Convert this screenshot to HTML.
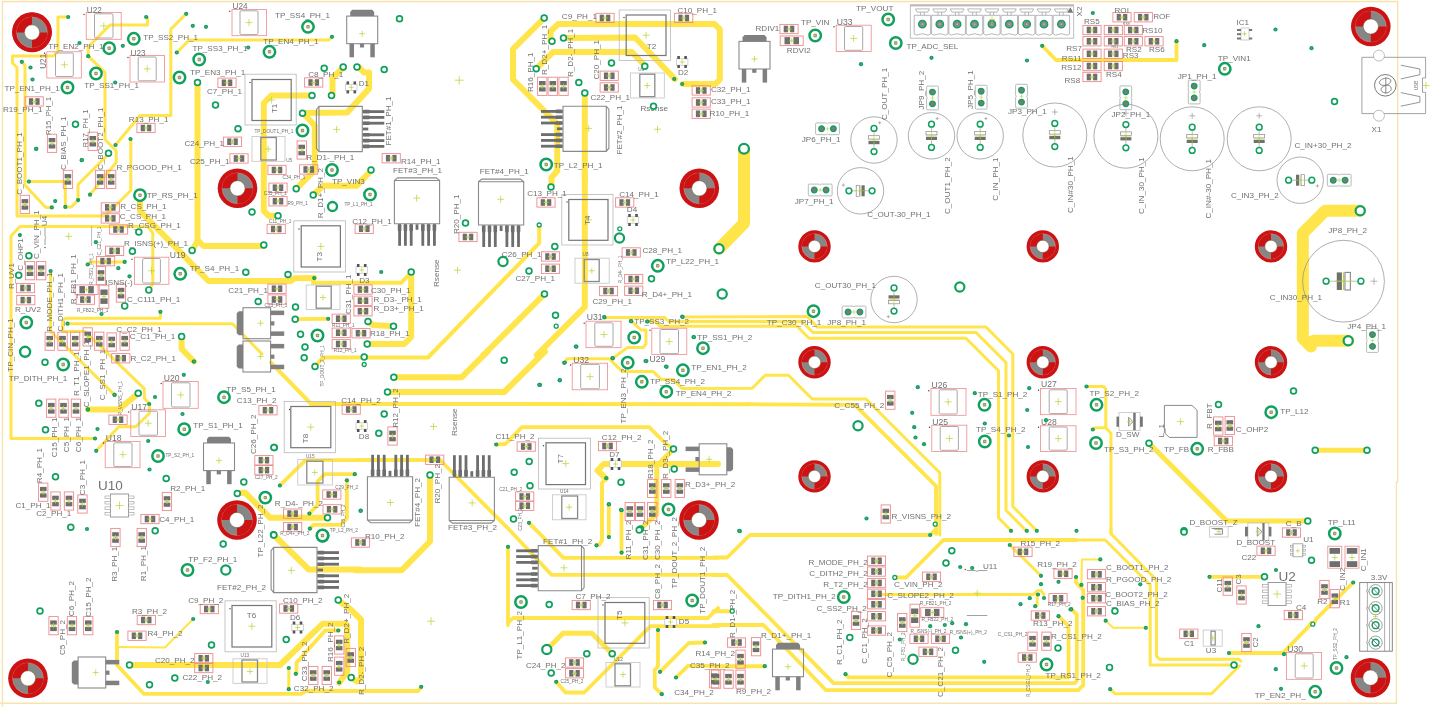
<!DOCTYPE html>
<html><head><meta charset="utf-8"><title>PCB layout</title>
<style>html,body{margin:0;padding:0;background:#fff;overflow:hidden}svg{display:block}text{white-space:pre}</style>
</head><body>
<svg width="1431" height="707" viewBox="0 0 1431 707">
<rect width="1431" height="707" fill="#fff"/>
<path d="M2.5 707 V1.5 H1397.7 V482 H1396.4 V703.2 H0" fill="none" stroke="#f6e3b0" stroke-width="1.4"/>
<g fill="none" stroke="#ffe54a" stroke-linecap="round" stroke-linejoin="round" opacity="1">
<polyline points="68.2,17 58,17 58,51.2 53.2,56 12.5,56 12.5,63 17,67.5 17,216 105,216 130.8,190.5 130.8,139" stroke-width="3"/>
<polyline points="21.8,61.8 25,65.5 25,185.2 45.8,207.5 52,207.5" stroke-width="3"/>
<polyline points="146.2,17 147.5,18 147.5,25 110,25 88.2,47 88.2,56.2 105,72.5 105,139.5 116.2,150.8 116.2,162.5 90,194.8" stroke-width="3"/>
<polyline points="186.2,13.8 170.8,29.2 170.8,115.5 140,115.5 115.5,145" stroke-width="3"/>
<polyline points="176.8,52.5 189.2,40 328.8,40 332,36.8" stroke-width="3"/>
<polyline points="197.5,82.5 197.5,240 203.5,246 263.8,246" stroke-width="6"/>
<polyline points="197.5,241.2 192,250.5" stroke-width="6"/>
<polyline points="312,95.5 271.2,95.5 263.8,103 263.8,210.8 268.8,215.8 278,215.8" stroke-width="6"/>
<polyline points="343.8,67 332.5,78.2 332.5,95.5" stroke-width="6"/>
<polyline points="544.2,18 513,49.2 513,79.5 544.2,110.8 557.2,123.8 557.2,171 551.5,177.5 551.5,187" stroke-width="6"/>
<polyline points="708,24.1 558,24.1 550.5,31.5 550.5,41.2" stroke-width="6"/>
<polyline points="563.5,38 635,37.5 675,79" stroke-width="6"/>
<polyline points="536.2,68.8 553,52 631.8,52 644.8,65.5" stroke-width="6"/>
<polyline points="584.8,93 584.8,180" stroke-width="6"/>
<polyline points="706,24.1 714.5,24.1 719.8,29.2 719.8,79.5 715.5,84 683,84" stroke-width="6"/>
<polyline points="744,150 744,180" stroke-width="12"/>
<polyline points="1042.2,45.8 1056,60 1076,60" stroke-width="3.8"/>
<polyline points="1071.5,60 1176.5,60 1176.5,41.2" stroke-width="3.8"/>
<polyline points="28.9,181.6 65.3,181.6 65.3,207 71.3,207 78,200.3 78,184.5 108.6,154" stroke-width="3"/>
<polyline points="140,195.2 140,211 208.5,281 291,281 294.5,278.2 314.3,278.1" stroke-width="6"/>
<polyline points="312.8,282.8 401,282.8 411.8,272" stroke-width="4"/>
<polyline points="95,438.6 11,438.6 11,236 20,226.5 147.7,226.5 152.8,233 152.8,284 148.8,289.9" stroke-width="3"/>
<polyline points="50.6,271 50.6,331.5 114.6,394.9" stroke-width="3"/>
<polyline points="160.4,311.8 160.4,318.3 65.3,318.3 62.8,320.8 62.8,331.5 85,331.5 144.3,388.6 144.3,398 149.4,403.9 149.4,413.3 135.8,426.8 118.8,426.8 96.3,450.7" stroke-width="3"/>
<polyline points="67.5,323.7 232.5,323.7 262,354" stroke-width="3"/>
<polyline points="181.6,336.9 181.6,348.8 194,361.5" stroke-width="6"/>
<polyline points="87.7,264.5 90.8,261.9 124.7,261.9" stroke-width="3"/>
<polyline points="296.2,188.8 312.5,172.5 314.8,170 314.8,125.5 303,113.2" stroke-width="6"/>
<polyline points="313.2,195 323.2,185.8 356.5,185.8 371.2,170.5" stroke-width="6"/>
<polyline points="295.2,319.2 328.2,318.8" stroke-width="3.8"/>
<polyline points="584.8,174.5 584.8,307 536.8,355" stroke-width="6"/>
<polyline points="539.2,225 539.2,243.2 428,357.5 323,357.5 315,366.5" stroke-width="4"/>
<polyline points="544.5,294 483,355.5" stroke-width="6"/>
<polyline points="411.2,272 411.2,337 404.2,344 367.2,344" stroke-width="6"/>
<polyline points="368,321.5 373,325 393.5,326.2" stroke-width="6"/>
<polyline points="744,174.5 744,223.2 719,248.8" stroke-width="12"/>
<polyline points="1360.2,210.8 1325.2,210.8 1302.8,233.2 1302.8,338.2 1311,346.5" stroke-width="12"/>
<polyline points="1313.5,340.8 1348.2,340.8" stroke-width="12"/>
<polyline points="87.9,409.4 118.8,409.4 138.3,393.4" stroke-width="6"/>
<polyline points="279.9,485.5 305.6,460.1 440,460.1" stroke-width="3.8"/>
<polyline points="354.8,474.2 324.7,474.2 317.6,481.3 317.6,505.1 309.4,513.5" stroke-width="3.8"/>
<polyline points="346.9,480.3 346.9,518.5 340.3,524.9 313.4,524.9 309.9,528.7" stroke-width="3.8"/>
<polyline points="237.3,493.5 244.8,492.5 270.3,517.8 327.5,517.8" stroke-width="6"/>
<polyline points="271.2,362.8 311.2,404 750,404.2" stroke-width="4"/>
<polyline points="747.5,404.2 854.8,404.8 936,486 936,534" stroke-width="3.8"/>
<polyline points="682.6,317 807.2,316.5 817.2,327 986,327 1012.8,354 1012.8,506.5 1037,531" stroke-width="3"/>
<polyline points="604.4,317.4 664.5,317.4 668.7,321.5 802.2,321.5 813,332.5 976,332.5 1006,362.5 1006,510.2 1026.5,531" stroke-width="3"/>
<polyline points="647.5,321.5 656,321.5 660.2,326.2 797.2,326.2 809,338.2 966,338.2 998.5,370.8 998.5,517.8 1011.5,531" stroke-width="3"/>
<polyline points="631.2,321.2 641.1,330 646,330 646,343.8 643.3,347.4 627.7,347.4 612.8,358.3" stroke-width="3"/>
<polyline points="564.8,362.5 567,358.7 609.3,358.7 622,371.4 653.1,371.4 661.4,379.5 673.7,379.5 682.1,388.4 752.2,388.2 765.2,375.2 788.5,375.2 812.2,399 866,399 939.8,472.8 939.8,535" stroke-width="3"/>
<polyline points="393.8,377.2 461.8,377.2 488,351" stroke-width="6"/>
<polyline points="387.5,392 504.2,392 545,351.5" stroke-width="6"/>
<polyline points="496.2,444.5 505.5,444 521.8,427.2 649.2,427.2 665.5,443.5 673.5,449" stroke-width="3.8"/>
<polyline points="355.5,460.2 440.5,460.2 442,462 510.5,531 551.5,574.8 718,574.8" stroke-width="3.8"/>
<polyline points="430,475 430,541.5 401.8,570.2 355.5,570.2" stroke-width="6"/>
<polyline points="718,464 603.8,464 597.5,470.5 606,478.5" stroke-width="6"/>
<polyline points="606,478.5 602,483 602,540.2 599.5,544.5 596.5,545.2" stroke-width="4"/>
<polyline points="673.5,449 656.8,465.8 656.8,514 640.5,529" stroke-width="5"/>
<polyline points="608.8,504.8 608.8,537.2" stroke-width="3.8"/>
<polyline points="621.5,510.2 621.5,553" stroke-width="3.8"/>
<polyline points="529,522.8 563.5,557.8 718,557.8" stroke-width="3.8"/>
<polyline points="1086.5,386.5 1103.5,386.5 1105.8,389 1105.8,427.8" stroke-width="3"/>
<polyline points="1092.8,429.5 1095.2,427.8 1105.8,427.8 1111,433.5 1111,534" stroke-width="3"/>
<polyline points="1149,443.2 1226.5,520.8 1307.8,521" stroke-width="5"/>
<polyline points="1315.2,450.2 1367,450.2" stroke-width="5"/>
<polyline points="117,632 117,665 143.8,693.8 301,693.8 306,691 418,691 421.2,686.8" stroke-width="3.8"/>
<polyline points="117,647 165,647.5 193.2,619" stroke-width="2"/>
<polyline points="129.5,665 280,665 322.5,623.8 345.8,623.8 347.2,625.8 347.2,671.8 339.2,682.8" stroke-width="6"/>
<polyline points="339,630.5 325.2,630.5 296.5,662.8 296.5,673.8" stroke-width="3.8"/>
<polyline points="273.8,535 308.8,569.5 360,569.5" stroke-width="6"/>
<polyline points="338.2,600 351.2,610 361,619.5 361,678.5 357,681.5 351.2,678" stroke-width="6"/>
<polyline points="288.8,668 288.8,689.2" stroke-width="3"/>
<polyline points="508,546.8 508,625" stroke-width="3.8"/>
<polyline points="508,623 513,618 708,618 718,608" stroke-width="3.8"/>
<polyline points="556.2,681.8 565.5,692.5 584.2,692.5 650.5,626.2 718,626.2" stroke-width="3.8"/>
<polyline points="658,630 658,666.2 654.8,670 654.8,687.5 661.8,694.2" stroke-width="3.8"/>
<polyline points="660,671.8 688.8,643 705,642.5" stroke-width="3.8"/>
<polyline points="676,677.5 688,665.8 718,665.8" stroke-width="3.8"/>
<polyline points="546.8,649.5 563,633.2 591.8,633.2 612.2,653.8" stroke-width="5"/>
<polyline points="713.5,557.5 727.2,557.5 749.8,535 930.2,535 936,529.2" stroke-width="3.8"/>
<polyline points="1076,540 943.5,540 906,577.5 894.8,577.5" stroke-width="3.8"/>
<polyline points="713.5,575 727.2,575 833.5,683.1 1074.8,683.1 1076.8,681 1076.8,614.5 1071.2,609.2" stroke-width="3.8"/>
<polyline points="713.5,625 763.5,625 826,690.2 1078.2,690.2 1083.2,685.2 1083.2,590 1076,582.5 1076,577" stroke-width="3.8"/>
<polyline points="845.5,674.2 848.5,677.4 1066,677.4 1068.5,675" stroke-width="3.8"/>
<polyline points="713.5,611.2 732.2,611.2" stroke-width="4"/>
<polyline points="713.5,666.2 764.8,666.2" stroke-width="4"/>
<polyline points="879.8,594.5 1033.5,594.5 1037.2,590.8 1041,590.8 1044,594.5" stroke-width="3"/>
<polyline points="1009.8,545 1041,575.8" stroke-width="3"/>
<polyline points="1037.2,594.5 1037.2,605" stroke-width="3"/>
<polyline points="1058.5,616.2 1068.5,626.2 1068.5,677.5" stroke-width="3.8"/>
<polyline points="1100.3,559.4 1081.9,559.4 1081.4,584.9" stroke-width="2"/>
<polyline points="1105.7,620.7 1113.2,627.8 1145.8,627.8" stroke-width="2"/>
<polyline points="1111,527.5 1111,533.8 1156.5,580 1156.5,656.2 1159.5,659.2 1239,659.2 1241,661.2" stroke-width="3"/>
<polyline points="1071.5,540 1105.2,540 1150.2,585 1150.2,665 1234,665" stroke-width="3"/>
<polyline points="1110.2,689.2 1115.2,693.8 1211.5,693.8 1239.5,665.8" stroke-width="3"/>
<polyline points="1209.5,576.8 1264.5,576.8" stroke-width="3.8"/>
<polyline points="1229,653 1282.8,653 1309,626.2 1311,623 1314.5,622.5 1316,619.2 1353.2,582.5" stroke-width="3.8"/>
<polyline points="358.9,67.1 364,72.5 369.1,72.5 369.1,88.6 347.3,112.4 303,113.1" stroke-width="6"/>
</g>
<rect x="25.1" y="96.8" width="18.2" height="9.3" fill="none" stroke="#ee8a8a" stroke-width="0.9"/>
<rect x="217.9" y="78.1" width="18.2" height="9.3" fill="none" stroke="#ee8a8a" stroke-width="0.9"/>
<rect x="304.6" y="77.8" width="18.2" height="9.3" fill="none" stroke="#ee8a8a" stroke-width="0.9"/>
<rect x="136.9" y="123.3" width="18.2" height="9.3" fill="none" stroke="#ee8a8a" stroke-width="0.9"/>
<rect x="223.4" y="137.1" width="18.2" height="9.3" fill="none" stroke="#ee8a8a" stroke-width="0.9"/>
<rect x="229.9" y="153.8" width="18.2" height="9.3" fill="none" stroke="#ee8a8a" stroke-width="0.9"/>
<rect x="267.9" y="165.3" width="18.2" height="9.3" fill="none" stroke="#ee8a8a" stroke-width="0.9"/>
<rect x="299.6" y="164.8" width="18.2" height="9.3" fill="none" stroke="#ee8a8a" stroke-width="0.9"/>
<rect x="47.4" y="134.2" width="9.3" height="18.2" fill="none" stroke="#ee8a8a" stroke-width="0.9"/>
<rect x="88.1" y="132.2" width="9.3" height="18.2" fill="none" stroke="#ee8a8a" stroke-width="0.9"/>
<rect x="297.1" y="140.9" width="9.3" height="18.2" fill="none" stroke="#ee8a8a" stroke-width="0.9"/>
<rect x="595.9" y="13.3" width="18.2" height="9.3" fill="none" stroke="#ee8a8a" stroke-width="0.9"/>
<rect x="674.6" y="13.3" width="18.2" height="9.3" fill="none" stroke="#ee8a8a" stroke-width="0.9"/>
<rect x="600.1" y="71.1" width="18.2" height="9.3" fill="none" stroke="#ee8a8a" stroke-width="0.9"/>
<rect x="600.1" y="82.8" width="18.2" height="9.3" fill="none" stroke="#ee8a8a" stroke-width="0.9"/>
<rect x="692.1" y="85.8" width="18.2" height="9.3" fill="none" stroke="#ee8a8a" stroke-width="0.9"/>
<rect x="692.1" y="97.8" width="18.2" height="9.3" fill="none" stroke="#ee8a8a" stroke-width="0.9"/>
<rect x="692.1" y="109.1" width="18.2" height="9.3" fill="none" stroke="#ee8a8a" stroke-width="0.9"/>
<rect x="382.1" y="153.6" width="18.2" height="9.3" fill="none" stroke="#ee8a8a" stroke-width="0.9"/>
<rect x="537.6" y="77.2" width="9.3" height="18.2" fill="none" stroke="#ee8a8a" stroke-width="0.9"/>
<rect x="548.1" y="77.2" width="9.3" height="18.2" fill="none" stroke="#ee8a8a" stroke-width="0.9"/>
<rect x="558.9" y="77.2" width="9.3" height="18.2" fill="none" stroke="#ee8a8a" stroke-width="0.9"/>
<rect x="779.9" y="24.4" width="18.2" height="9.3" fill="none" stroke="#ee8a8a" stroke-width="0.9"/>
<rect x="780.2" y="36" width="23" height="9.6" fill="none" stroke="#ee8a8a" stroke-width="0.9"/>
<rect x="1112.9" y="12.6" width="18.2" height="9.3" fill="none" stroke="#ee8a8a" stroke-width="0.9"/>
<rect x="1134.2" y="12.6" width="18.2" height="9.3" fill="none" stroke="#ee8a8a" stroke-width="0.9"/>
<rect x="1082.9" y="25.4" width="18.2" height="9.3" fill="none" stroke="#ee8a8a" stroke-width="0.9"/>
<rect x="1104.2" y="25.4" width="18.2" height="9.3" fill="none" stroke="#ee8a8a" stroke-width="0.9"/>
<rect x="1124.2" y="25.4" width="18.2" height="9.3" fill="none" stroke="#ee8a8a" stroke-width="0.9"/>
<rect x="1082.9" y="36.6" width="18.2" height="9.3" fill="none" stroke="#ee8a8a" stroke-width="0.9"/>
<rect x="1104.2" y="36.6" width="18.2" height="9.3" fill="none" stroke="#ee8a8a" stroke-width="0.9"/>
<rect x="1124.2" y="36.6" width="18.2" height="9.3" fill="none" stroke="#ee8a8a" stroke-width="0.9"/>
<rect x="1144.9" y="36.6" width="18.2" height="9.3" fill="none" stroke="#ee8a8a" stroke-width="0.9"/>
<rect x="1082.9" y="49.1" width="18.2" height="9.3" fill="none" stroke="#ee8a8a" stroke-width="0.9"/>
<rect x="1104.2" y="49.1" width="18.2" height="9.3" fill="none" stroke="#ee8a8a" stroke-width="0.9"/>
<rect x="1082.9" y="61.4" width="18.2" height="9.3" fill="none" stroke="#ee8a8a" stroke-width="0.9"/>
<rect x="1104.2" y="61.4" width="18.2" height="9.3" fill="none" stroke="#ee8a8a" stroke-width="0.9"/>
<rect x="1082.9" y="72.3" width="18.2" height="9.3" fill="none" stroke="#ee8a8a" stroke-width="0.9"/>
<rect x="63.3" y="170.3" width="9.3" height="18.2" fill="none" stroke="#ee8a8a" stroke-width="0.9"/>
<rect x="95.4" y="170.3" width="9.3" height="18.2" fill="none" stroke="#ee8a8a" stroke-width="0.9"/>
<rect x="106.5" y="170.3" width="9.3" height="18.2" fill="none" stroke="#ee8a8a" stroke-width="0.9"/>
<rect x="20.2" y="195.3" width="9.3" height="18.2" fill="none" stroke="#ee8a8a" stroke-width="0.9"/>
<rect x="25.4" y="261.6" width="9.3" height="18.2" fill="none" stroke="#ee8a8a" stroke-width="0.9"/>
<rect x="36.5" y="261.6" width="9.3" height="18.2" fill="none" stroke="#ee8a8a" stroke-width="0.9"/>
<rect x="96.3" y="266.4" width="9.3" height="18.2" fill="none" stroke="#ee8a8a" stroke-width="0.9"/>
<rect x="116.3" y="284" width="9.3" height="18.2" fill="none" stroke="#ee8a8a" stroke-width="0.9"/>
<rect x="99.2" y="285.2" width="9.6" height="23" fill="none" stroke="#ee8a8a" stroke-width="0.9"/>
<rect x="101.2" y="202.8" width="18.2" height="9.3" fill="none" stroke="#ee8a8a" stroke-width="0.9"/>
<rect x="101.2" y="213.8" width="18.2" height="9.3" fill="none" stroke="#ee8a8a" stroke-width="0.9"/>
<rect x="109.4" y="224.8" width="18.2" height="9.3" fill="none" stroke="#ee8a8a" stroke-width="0.9"/>
<rect x="105.5" y="246.2" width="18.2" height="9.3" fill="none" stroke="#ee8a8a" stroke-width="0.9"/>
<rect x="96.5" y="256.5" width="18.2" height="9.3" fill="none" stroke="#ee8a8a" stroke-width="0.9"/>
<rect x="16.4" y="283.4" width="18.2" height="9.3" fill="none" stroke="#ee8a8a" stroke-width="0.9"/>
<rect x="16.7" y="295.5" width="18.2" height="9.3" fill="none" stroke="#ee8a8a" stroke-width="0.9"/>
<rect x="76.3" y="295" width="18.2" height="9.3" fill="none" stroke="#ee8a8a" stroke-width="0.9"/>
<rect x="75.1" y="284.9" width="23" height="9.6" fill="none" stroke="#ee8a8a" stroke-width="0.9"/>
<rect x="45.1" y="332.1" width="9.3" height="18.2" fill="none" stroke="#ee8a8a" stroke-width="0.9"/>
<rect x="57.9" y="332.1" width="9.3" height="18.2" fill="none" stroke="#ee8a8a" stroke-width="0.9"/>
<rect x="70.5" y="332.1" width="9.3" height="18.2" fill="none" stroke="#ee8a8a" stroke-width="0.9"/>
<rect x="83" y="327.8" width="9.3" height="18.2" fill="none" stroke="#ee8a8a" stroke-width="0.9"/>
<rect x="94.6" y="332.1" width="9.3" height="18.2" fill="none" stroke="#ee8a8a" stroke-width="0.9"/>
<rect x="107" y="332.9" width="9.3" height="18.2" fill="none" stroke="#ee8a8a" stroke-width="0.9"/>
<rect x="120" y="332.1" width="9.3" height="18.2" fill="none" stroke="#ee8a8a" stroke-width="0.9"/>
<rect x="268.9" y="183.1" width="18.2" height="9.3" fill="none" stroke="#ee8a8a" stroke-width="0.9"/>
<rect x="268.9" y="196.6" width="18.2" height="9.3" fill="none" stroke="#ee8a8a" stroke-width="0.9"/>
<rect x="267.1" y="224.3" width="18.2" height="9.3" fill="none" stroke="#ee8a8a" stroke-width="0.9"/>
<rect x="267.9" y="284.1" width="18.2" height="9.3" fill="none" stroke="#ee8a8a" stroke-width="0.9"/>
<rect x="267.9" y="294.9" width="18.2" height="9.3" fill="none" stroke="#ee8a8a" stroke-width="0.9"/>
<rect x="332.1" y="314.1" width="18.2" height="9.3" fill="none" stroke="#ee8a8a" stroke-width="0.9"/>
<rect x="332.1" y="328.1" width="18.2" height="9.3" fill="none" stroke="#ee8a8a" stroke-width="0.9"/>
<rect x="332.1" y="339.4" width="18.2" height="9.3" fill="none" stroke="#ee8a8a" stroke-width="0.9"/>
<rect x="355.1" y="224.1" width="18.2" height="9.3" fill="none" stroke="#ee8a8a" stroke-width="0.9"/>
<rect x="458.9" y="232.3" width="18.2" height="9.3" fill="none" stroke="#ee8a8a" stroke-width="0.9"/>
<rect x="536.9" y="197.8" width="18.2" height="9.3" fill="none" stroke="#ee8a8a" stroke-width="0.9"/>
<rect x="615.6" y="197.8" width="18.2" height="9.3" fill="none" stroke="#ee8a8a" stroke-width="0.9"/>
<rect x="541.4" y="251.8" width="18.2" height="9.3" fill="none" stroke="#ee8a8a" stroke-width="0.9"/>
<rect x="541.4" y="264.1" width="18.2" height="9.3" fill="none" stroke="#ee8a8a" stroke-width="0.9"/>
<rect x="622.1" y="247.8" width="18.2" height="9.3" fill="none" stroke="#ee8a8a" stroke-width="0.9"/>
<rect x="624.6" y="274.4" width="18.2" height="9.3" fill="none" stroke="#ee8a8a" stroke-width="0.9"/>
<rect x="624.6" y="286.1" width="18.2" height="9.3" fill="none" stroke="#ee8a8a" stroke-width="0.9"/>
<rect x="599.4" y="286.4" width="18.2" height="9.3" fill="none" stroke="#ee8a8a" stroke-width="0.9"/>
<rect x="353.9" y="284.9" width="18.2" height="9.3" fill="none" stroke="#ee8a8a" stroke-width="0.9"/>
<rect x="353.9" y="296.1" width="18.2" height="9.3" fill="none" stroke="#ee8a8a" stroke-width="0.9"/>
<rect x="353.9" y="306.6" width="18.2" height="9.3" fill="none" stroke="#ee8a8a" stroke-width="0.9"/>
<rect x="351.9" y="328.6" width="18.2" height="9.3" fill="none" stroke="#ee8a8a" stroke-width="0.9"/>
<rect x="254.8" y="455.6" width="18.2" height="9.3" fill="none" stroke="#ee8a8a" stroke-width="0.9"/>
<rect x="254.8" y="465.5" width="18.2" height="9.3" fill="none" stroke="#ee8a8a" stroke-width="0.9"/>
<rect x="322.7" y="489.9" width="18.2" height="9.3" fill="none" stroke="#ee8a8a" stroke-width="0.9"/>
<rect x="323" y="504.7" width="18.2" height="9.3" fill="none" stroke="#ee8a8a" stroke-width="0.9"/>
<rect x="283.5" y="509" width="18.2" height="9.3" fill="none" stroke="#ee8a8a" stroke-width="0.9"/>
<rect x="283.5" y="522.4" width="18.2" height="9.3" fill="none" stroke="#ee8a8a" stroke-width="0.9"/>
<rect x="46.6" y="399.1" width="9.3" height="18.2" fill="none" stroke="#ee8a8a" stroke-width="0.9"/>
<rect x="58.9" y="399.1" width="9.3" height="18.2" fill="none" stroke="#ee8a8a" stroke-width="0.9"/>
<rect x="71.3" y="399.1" width="9.3" height="18.2" fill="none" stroke="#ee8a8a" stroke-width="0.9"/>
<rect x="38.6" y="483.1" width="9.3" height="18.2" fill="none" stroke="#ee8a8a" stroke-width="0.9"/>
<rect x="50.9" y="491.9" width="9.3" height="18.2" fill="none" stroke="#ee8a8a" stroke-width="0.9"/>
<rect x="64.3" y="491.9" width="9.3" height="18.2" fill="none" stroke="#ee8a8a" stroke-width="0.9"/>
<rect x="77.8" y="494.9" width="9.3" height="18.2" fill="none" stroke="#ee8a8a" stroke-width="0.9"/>
<rect x="162.3" y="492.4" width="9.3" height="18.2" fill="none" stroke="#ee8a8a" stroke-width="0.9"/>
<rect x="111.7" y="353.6" width="18.2" height="9.3" fill="none" stroke="#ee8a8a" stroke-width="0.9"/>
<rect x="108.9" y="415.1" width="18.2" height="9.3" fill="none" stroke="#ee8a8a" stroke-width="0.9"/>
<rect x="258.9" y="405.6" width="18.2" height="9.3" fill="none" stroke="#ee8a8a" stroke-width="0.9"/>
<rect x="342.1" y="404.9" width="18.2" height="9.3" fill="none" stroke="#ee8a8a" stroke-width="0.9"/>
<rect x="140.9" y="514.4" width="18.2" height="9.3" fill="none" stroke="#ee8a8a" stroke-width="0.9"/>
<rect x="387.9" y="426.9" width="9.3" height="18.2" fill="none" stroke="#ee8a8a" stroke-width="0.9"/>
<rect x="647.6" y="479.4" width="9.3" height="18.2" fill="none" stroke="#ee8a8a" stroke-width="0.9"/>
<rect x="661.6" y="479.4" width="9.3" height="18.2" fill="none" stroke="#ee8a8a" stroke-width="0.9"/>
<rect x="675.1" y="479.4" width="9.3" height="18.2" fill="none" stroke="#ee8a8a" stroke-width="0.9"/>
<rect x="625.1" y="502.4" width="9.3" height="18.2" fill="none" stroke="#ee8a8a" stroke-width="0.9"/>
<rect x="635.4" y="502.4" width="9.3" height="18.2" fill="none" stroke="#ee8a8a" stroke-width="0.9"/>
<rect x="647.6" y="502.4" width="9.3" height="18.2" fill="none" stroke="#ee8a8a" stroke-width="0.9"/>
<rect x="425.6" y="455.1" width="18.2" height="9.3" fill="none" stroke="#ee8a8a" stroke-width="0.9"/>
<rect x="517.1" y="441.9" width="18.2" height="9.3" fill="none" stroke="#ee8a8a" stroke-width="0.9"/>
<rect x="598.4" y="441.4" width="18.2" height="9.3" fill="none" stroke="#ee8a8a" stroke-width="0.9"/>
<rect x="515.6" y="491.9" width="18.2" height="9.3" fill="none" stroke="#ee8a8a" stroke-width="0.9"/>
<rect x="515.6" y="501.1" width="18.2" height="9.3" fill="none" stroke="#ee8a8a" stroke-width="0.9"/>
<rect x="885.6" y="391.1" width="9.3" height="18.2" fill="none" stroke="#ee8a8a" stroke-width="0.9"/>
<rect x="881.1" y="504.9" width="9.3" height="18.2" fill="none" stroke="#ee8a8a" stroke-width="0.9"/>
<rect x="1213.6" y="416.9" width="9.3" height="18.2" fill="none" stroke="#ee8a8a" stroke-width="0.9"/>
<rect x="1225.1" y="416.4" width="9.3" height="18.2" fill="none" stroke="#ee8a8a" stroke-width="0.9"/>
<rect x="1214.2" y="436.4" width="18.2" height="9.3" fill="none" stroke="#ee8a8a" stroke-width="0.9"/>
<rect x="110.8" y="528.4" width="9.3" height="18.2" fill="none" stroke="#ee8a8a" stroke-width="0.9"/>
<rect x="137.1" y="528.4" width="9.3" height="18.2" fill="none" stroke="#ee8a8a" stroke-width="0.9"/>
<rect x="48.9" y="616.6" width="9.3" height="18.2" fill="none" stroke="#ee8a8a" stroke-width="0.9"/>
<rect x="67.3" y="616.6" width="9.3" height="18.2" fill="none" stroke="#ee8a8a" stroke-width="0.9"/>
<rect x="83.6" y="616.6" width="9.3" height="18.2" fill="none" stroke="#ee8a8a" stroke-width="0.9"/>
<rect x="308.6" y="666.4" width="9.3" height="18.2" fill="none" stroke="#ee8a8a" stroke-width="0.9"/>
<rect x="322.1" y="666.4" width="9.3" height="18.2" fill="none" stroke="#ee8a8a" stroke-width="0.9"/>
<rect x="334.6" y="635.9" width="9.3" height="18.2" fill="none" stroke="#ee8a8a" stroke-width="0.9"/>
<rect x="334.6" y="657.1" width="9.3" height="18.2" fill="none" stroke="#ee8a8a" stroke-width="0.9"/>
<rect x="346.1" y="648.4" width="9.3" height="18.2" fill="none" stroke="#ee8a8a" stroke-width="0.9"/>
<rect x="137.2" y="615.4" width="18.2" height="9.3" fill="none" stroke="#ee8a8a" stroke-width="0.9"/>
<rect x="127.9" y="631.1" width="18.2" height="9.3" fill="none" stroke="#ee8a8a" stroke-width="0.9"/>
<rect x="200.2" y="604.4" width="18.2" height="9.3" fill="none" stroke="#ee8a8a" stroke-width="0.9"/>
<rect x="279.6" y="603.9" width="18.2" height="9.3" fill="none" stroke="#ee8a8a" stroke-width="0.9"/>
<rect x="194.7" y="653.6" width="18.2" height="9.3" fill="none" stroke="#ee8a8a" stroke-width="0.9"/>
<rect x="194.7" y="663.4" width="18.2" height="9.3" fill="none" stroke="#ee8a8a" stroke-width="0.9"/>
<rect x="572.1" y="600.4" width="18.2" height="9.3" fill="none" stroke="#ee8a8a" stroke-width="0.9"/>
<rect x="653.4" y="600.4" width="18.2" height="9.3" fill="none" stroke="#ee8a8a" stroke-width="0.9"/>
<rect x="565.4" y="657.9" width="18.2" height="9.3" fill="none" stroke="#ee8a8a" stroke-width="0.9"/>
<rect x="565.4" y="668.6" width="18.2" height="9.3" fill="none" stroke="#ee8a8a" stroke-width="0.9"/>
<rect x="351.4" y="537.9" width="18.2" height="9.3" fill="none" stroke="#ee8a8a" stroke-width="0.9"/>
<rect x="709.6" y="669.6" width="9.3" height="18.2" fill="none" stroke="#ee8a8a" stroke-width="0.9"/>
<rect x="867.4" y="556.1" width="18.2" height="9.3" fill="none" stroke="#ee8a8a" stroke-width="0.9"/>
<rect x="867.4" y="566.9" width="18.2" height="9.3" fill="none" stroke="#ee8a8a" stroke-width="0.9"/>
<rect x="867.4" y="578.4" width="18.2" height="9.3" fill="none" stroke="#ee8a8a" stroke-width="0.9"/>
<rect x="867.4" y="589.1" width="18.2" height="9.3" fill="none" stroke="#ee8a8a" stroke-width="0.9"/>
<rect x="867.4" y="599.6" width="18.2" height="9.3" fill="none" stroke="#ee8a8a" stroke-width="0.9"/>
<rect x="867.4" y="611.6" width="18.2" height="9.3" fill="none" stroke="#ee8a8a" stroke-width="0.9"/>
<rect x="867.4" y="625.9" width="18.2" height="9.3" fill="none" stroke="#ee8a8a" stroke-width="0.9"/>
<rect x="922.4" y="572.1" width="18.2" height="9.3" fill="none" stroke="#ee8a8a" stroke-width="0.9"/>
<rect x="909.9" y="634.1" width="18.2" height="9.3" fill="none" stroke="#ee8a8a" stroke-width="0.9"/>
<rect x="931.4" y="634.1" width="18.2" height="9.3" fill="none" stroke="#ee8a8a" stroke-width="0.9"/>
<rect x="918.9" y="647.1" width="18.2" height="9.3" fill="none" stroke="#ee8a8a" stroke-width="0.9"/>
<rect x="1013.9" y="547.1" width="18.2" height="9.3" fill="none" stroke="#ee8a8a" stroke-width="0.9"/>
<rect x="1053.9" y="569.1" width="18.2" height="9.3" fill="none" stroke="#ee8a8a" stroke-width="0.9"/>
<rect x="1048.9" y="593.6" width="18.2" height="9.3" fill="none" stroke="#ee8a8a" stroke-width="0.9"/>
<rect x="1031.2" y="610.9" width="18.2" height="9.3" fill="none" stroke="#ee8a8a" stroke-width="0.9"/>
<rect x="1018.1" y="652.9" width="18.2" height="9.3" fill="none" stroke="#ee8a8a" stroke-width="0.9"/>
<rect x="727.4" y="637.9" width="18.2" height="9.3" fill="none" stroke="#ee8a8a" stroke-width="0.9"/>
<rect x="920.8" y="607.7" width="23" height="9.6" fill="none" stroke="#ee8a8a" stroke-width="0.9"/>
<rect x="910" y="604.2" width="9.6" height="23" fill="none" stroke="#ee8a8a" stroke-width="0.9"/>
<rect x="851.4" y="611.4" width="9.3" height="18.2" fill="none" stroke="#ee8a8a" stroke-width="0.9"/>
<rect x="897.6" y="613.4" width="9.3" height="18.2" fill="none" stroke="#ee8a8a" stroke-width="0.9"/>
<rect x="1027.8" y="632.1" width="9.3" height="18.2" fill="none" stroke="#ee8a8a" stroke-width="0.9"/>
<rect x="1041.8" y="632.1" width="9.3" height="18.2" fill="none" stroke="#ee8a8a" stroke-width="0.9"/>
<rect x="751.4" y="637.6" width="9.3" height="18.2" fill="none" stroke="#ee8a8a" stroke-width="0.9"/>
<rect x="735.9" y="650.1" width="9.3" height="18.2" fill="none" stroke="#ee8a8a" stroke-width="0.9"/>
<rect x="735.9" y="670.1" width="9.3" height="18.2" fill="none" stroke="#ee8a8a" stroke-width="0.9"/>
<rect x="723.9" y="670.1" width="9.3" height="18.2" fill="none" stroke="#ee8a8a" stroke-width="0.9"/>
<rect x="711.4" y="670.1" width="9.3" height="18.2" fill="none" stroke="#ee8a8a" stroke-width="0.9"/>
<rect x="1087.4" y="569.6" width="18.2" height="9.3" fill="none" stroke="#ee8a8a" stroke-width="0.9"/>
<rect x="1087.4" y="582.6" width="18.2" height="9.3" fill="none" stroke="#ee8a8a" stroke-width="0.9"/>
<rect x="1087.4" y="593.6" width="18.2" height="9.3" fill="none" stroke="#ee8a8a" stroke-width="0.9"/>
<rect x="1087.4" y="606.6" width="18.2" height="9.3" fill="none" stroke="#ee8a8a" stroke-width="0.9"/>
<rect x="1256.9" y="546.1" width="18.2" height="9.3" fill="none" stroke="#ee8a8a" stroke-width="0.9"/>
<rect x="1284.2" y="610.4" width="18.2" height="9.3" fill="none" stroke="#ee8a8a" stroke-width="0.9"/>
<rect x="1179.7" y="629.1" width="18.2" height="9.3" fill="none" stroke="#ee8a8a" stroke-width="0.9"/>
<rect x="1282.4" y="527.9" width="18.2" height="9.3" fill="none" stroke="#ee8a8a" stroke-width="0.9"/>
<rect x="1223.1" y="577.1" width="9.3" height="18.2" fill="none" stroke="#ee8a8a" stroke-width="0.9"/>
<rect x="1236.8" y="585.9" width="9.3" height="18.2" fill="none" stroke="#ee8a8a" stroke-width="0.9"/>
<rect x="1241.8" y="633.4" width="9.3" height="18.2" fill="none" stroke="#ee8a8a" stroke-width="0.9"/>
<rect x="1319.8" y="580.4" width="9.3" height="18.2" fill="none" stroke="#ee8a8a" stroke-width="0.9"/>
<rect x="1330.1" y="589.6" width="9.3" height="18.2" fill="none" stroke="#ee8a8a" stroke-width="0.9"/>
<rect x="86.2" y="12.5" width="35" height="26.8" fill="none" stroke="#ee8a8a" stroke-width="0.8"/>
<rect x="94.5" y="13.8" width="18.5" height="24.2" rx="1.2" fill="none" stroke="#a8a8a8" stroke-width="1"/>
<path d="M100.2 25.9h7M103.8 22.4v7" stroke="#b5d334" stroke-width="0.7" fill="none"/>
<rect x="46.8" y="51.8" width="34.5" height="26.2" fill="none" stroke="#ee8a8a" stroke-width="0.8"/>
<rect x="55.5" y="53" width="17.8" height="23.5" rx="1.2" fill="none" stroke="#a8a8a8" stroke-width="1"/>
<path d="M60.9 64.8h7M64.4 61.2v7" stroke="#b5d334" stroke-width="0.7" fill="none"/>
<rect x="130" y="55.5" width="34.5" height="26.5" fill="none" stroke="#ee8a8a" stroke-width="0.8"/>
<rect x="138.2" y="57" width="18" height="23.8" rx="1.2" fill="none" stroke="#a8a8a8" stroke-width="1"/>
<path d="M143.8 68.9h7M147.2 65.4v7" stroke="#b5d334" stroke-width="0.7" fill="none"/>
<rect x="232" y="9.5" width="34.5" height="26.2" fill="none" stroke="#ee8a8a" stroke-width="0.8"/>
<rect x="240" y="10.8" width="18" height="23.8" rx="1.2" fill="none" stroke="#a8a8a8" stroke-width="1"/>
<path d="M245.5 22.6h7M249 19.1v7" stroke="#b5d334" stroke-width="0.7" fill="none"/>
<circle cx="84.0" cy="14.5" r="0.7" fill="#444"/>
<circle cx="229.8" cy="11.2" r="0.7" fill="#444"/>
<circle cx="128.0" cy="57.5" r="0.7" fill="#444"/>
<circle cx="44.5" cy="53.2" r="0.7" fill="#444"/>
<circle cx="250.0" cy="82.5" r="0.7" fill="#444"/>
<rect x="245" y="74.2" width="51.2" height="50.8" fill="none" stroke="#b8b8b8" stroke-width="0.8"/>
<rect x="252" y="79.5" width="39.2" height="41" fill="none" stroke="#767676" stroke-width="1.2"/>
<path d="M268.1 100h7M271.6 96.5v7" stroke="#b5d334" stroke-width="0.7" fill="none"/>
<rect x="252" y="136.5" width="33" height="24.8" fill="none" stroke="#c4c4c4" stroke-width="0.8"/>
<rect x="260.8" y="137.5" width="15.5" height="22.5" fill="none" stroke="#8a8a8a" stroke-width="1.3"/>
<path d="M265.2 149h6M268.2 146v6" stroke="#b5d334" stroke-width="0.7" fill="none"/>
<g transform="translate(362.2 29.9) rotate(0)">
<rect x="-15.5" y="-13.8" width="31" height="27.6" fill="none" stroke="#8a8a8a" stroke-width="1.1"/>
<path d="M-3 3.8h6M0 0.8v6" stroke="#b5d334" stroke-width="0.7" fill="none"/>
</g>
<g transform="translate(339.3 129) rotate(0)">
<path d="M-20.3 -22.6 H23 V22.6 H-20.3 L-22.9 19.4 V-19.4 Z M-20.3 -22.6 V22.6" fill="none" stroke="#8a8a8a" stroke-width="1.1"/>
<path d="M-6.2 0.4h7M-2.7 -3.1v7" stroke="#b5d334" stroke-width="0.7" fill="none"/>
</g>
<rect x="619.2" y="10" width="51.2" height="50.5" fill="none" stroke="#b8b8b8" stroke-width="0.8"/>
<rect x="626.2" y="15" width="39.8" height="40.5" fill="none" stroke="#767676" stroke-width="1.2"/>
<path d="M642.6 35.2h7M646.1 31.8v7" stroke="#b5d334" stroke-width="0.7" fill="none"/>
<circle cx="624.0" cy="17.5" r="0.7" fill="#444"/>
<rect x="630.5" y="73" width="33.8" height="25" fill="none" stroke="#c4c4c4" stroke-width="0.8"/>
<rect x="639.8" y="74.2" width="15" height="22.5" fill="none" stroke="#8a8a8a" stroke-width="1.3"/>
<path d="M644.2 85.5h6M647.2 82.5v6" stroke="#b5d334" stroke-width="0.7" fill="none"/>
<path d="M454.8 80.2h9M459.2 75.8v9" stroke="#b5d334" stroke-width="0.7" fill="none"/>
<path d="M654 129.2h7M657.5 125.8v7" stroke="#b5d334" stroke-width="0.7" fill="none"/>
<g transform="translate(586 128.8) rotate(180)">
<path d="M-20.3 -22.6 H23 V22.6 H-20.3 L-22.9 19.4 V-19.4 Z M-20.3 -22.6 V22.6" fill="none" stroke="#8a8a8a" stroke-width="1.1"/>
<path d="M-6.2 0.4h7M-2.7 -3.1v7" stroke="#b5d334" stroke-width="0.7" fill="none"/>
</g>
<circle cx="834.0" cy="26.8" r="0.7" fill="#444"/>
<rect x="836.2" y="25.2" width="35" height="26.2" fill="none" stroke="#ee8a8a" stroke-width="0.8"/>
<rect x="844.5" y="26.5" width="18.2" height="23.8" rx="1.2" fill="none" stroke="#a8a8a8" stroke-width="1"/>
<path d="M850.1 38.4h7M853.6 34.9v7" stroke="#b5d334" stroke-width="0.7" fill="none"/>
<g transform="translate(932.5 98) rotate(90)">
<path d="M-10.9 -5.9 H-1 L0 -5 L1 -5.9 H10.9 Q11.9 -5.9 11.9 -4.9 V4.9 Q11.9 5.9 10.9 5.9 H1 L0 5 L-1 5.9 H-10.9 Q-11.9 5.9 -11.9 4.9 V-4.9 Q-11.9 -5.9 -10.9 -5.9Z" fill="none" stroke="#a8a8a8" stroke-width="0.8"/>
<path d="M-2 0h4M0 -2v4" stroke="#b5d334" stroke-width="0.6"/>
</g>
<g transform="translate(981.2 97.2) rotate(90)">
<path d="M-10.9 -5.9 H-1 L0 -5 L1 -5.9 H10.9 Q11.9 -5.9 11.9 -4.9 V4.9 Q11.9 5.9 10.9 5.9 H1 L0 5 L-1 5.9 H-10.9 Q-11.9 5.9 -11.9 4.9 V-4.9 Q-11.9 -5.9 -10.9 -5.9Z" fill="none" stroke="#a8a8a8" stroke-width="0.8"/>
<path d="M-2 0h4M0 -2v4" stroke="#b5d334" stroke-width="0.6"/>
</g>
<g transform="translate(1021.5 96.2) rotate(90)">
<path d="M-10.9 -5.9 H-1 L0 -5 L1 -5.9 H10.9 Q11.9 -5.9 11.9 -4.9 V4.9 Q11.9 5.9 10.9 5.9 H1 L0 5 L-1 5.9 H-10.9 Q-11.9 5.9 -11.9 4.9 V-4.9 Q-11.9 -5.9 -10.9 -5.9Z" fill="none" stroke="#a8a8a8" stroke-width="0.8"/>
<path d="M-2 0h4M0 -2v4" stroke="#b5d334" stroke-width="0.6"/>
</g>
<g transform="translate(827.5 128.8) rotate(0)">
<path d="M-10.9 -5.9 H-1 L0 -5 L1 -5.9 H10.9 Q11.9 -5.9 11.9 -4.9 V4.9 Q11.9 5.9 10.9 5.9 H1 L0 5 L-1 5.9 H-10.9 Q-11.9 5.9 -11.9 4.9 V-4.9 Q-11.9 -5.9 -10.9 -5.9Z" fill="none" stroke="#a8a8a8" stroke-width="0.8"/>
<path d="M-2 0h4M0 -2v4" stroke="#b5d334" stroke-width="0.6"/>
</g>
<g transform="translate(874 140) rotate(0)">
<circle r="23.2" fill="none" stroke="#8c8c8c" stroke-width="0.7"/>
<path d="M0 -11.6 V11.6" stroke="#999" stroke-width="0.6"/>
<g transform="scale(1)">
<rect x="-5.5" y="-4.3" width="11" height="3.4" fill="#fff" stroke="#8a8a8a" stroke-width="0.7"/>
<rect x="-5.5" y="1" width="11" height="3.2" fill="#707070"/>
<path d="M0 -5 V5 M-5.5 0 H5.5" stroke="#b5d334" stroke-width="0.6"/></g>
<path d="M4.1 -17.2h3.2M5.7 -18.8v3.2" stroke="#888" stroke-width="0.6" fill="none"/>
</g>
<g transform="translate(931.5 135.8) rotate(0)">
<circle r="23.2" fill="none" stroke="#8c8c8c" stroke-width="0.7"/>
<path d="M0 -11.6 V11.6" stroke="#999" stroke-width="0.6"/>
<g transform="scale(1)">
<rect x="-5.5" y="-4.3" width="11" height="3.4" fill="#fff" stroke="#8a8a8a" stroke-width="0.7"/>
<rect x="-5.5" y="1" width="11" height="3.2" fill="#707070"/>
<path d="M0 -5 V5 M-5.5 0 H5.5" stroke="#b5d334" stroke-width="0.6"/></g>
<path d="M4.1 -17.2h3.2M5.7 -18.8v3.2" stroke="#888" stroke-width="0.6" fill="none"/>
</g>
<g transform="translate(980.2 135.8) rotate(0)">
<circle r="23.2" fill="none" stroke="#8c8c8c" stroke-width="0.7"/>
<path d="M0 -11.6 V11.6" stroke="#999" stroke-width="0.6"/>
<g transform="scale(1)">
<rect x="-5.5" y="-4.3" width="11" height="3.4" fill="#fff" stroke="#8a8a8a" stroke-width="0.7"/>
<rect x="-5.5" y="1" width="11" height="3.2" fill="#707070"/>
<path d="M0 -5 V5 M-5.5 0 H5.5" stroke="#b5d334" stroke-width="0.6"/></g>
<path d="M4.1 -17.2h3.2M5.7 -18.8v3.2" stroke="#888" stroke-width="0.6" fill="none"/>
</g>
<g transform="translate(1054.8 135) rotate(0)">
<circle r="32" fill="none" stroke="#8c8c8c" stroke-width="0.7"/>
<path d="M0 -11.6 V11.6" stroke="#999" stroke-width="0.6"/>
<g transform="scale(1)">
<rect x="-5.5" y="-4.3" width="11" height="3.4" fill="#fff" stroke="#8a8a8a" stroke-width="0.7"/>
<rect x="-5.5" y="1" width="11" height="3.2" fill="#707070"/>
<path d="M0 -5 V5 M-5.5 0 H5.5" stroke="#b5d334" stroke-width="0.6"/></g>
<path d="M-3 -23h6M0 -26v6" stroke="#888" stroke-width="0.6" fill="none"/>
</g>
<g transform="translate(754.5 55.2) rotate(0)">
<rect x="-15.5" y="-13.8" width="31" height="27.6" fill="none" stroke="#8a8a8a" stroke-width="1.1"/>
<path d="M-3 3.8h6M0 0.8v6" stroke="#b5d334" stroke-width="0.7" fill="none"/>
</g>
<rect x="910.3" y="4.8" width="163.4" height="33.4" fill="none" stroke="#b0b0b0" stroke-width="0.8"/><rect x="910.3" y="4.8" width="163.4" height="1.6" fill="#b8b8b8"/>
<path d="M914.2 15.3 H930.6 V34 Q928.4 36 925.9 34.5 Q922.4 33 918.9 34.5 Q916.4 36 914.2 34 Z M915.4 8.9 H929.4 L927.6 12.1 H917.2 Z M920.6 12.1 V15.3 M924.2 12.1 V15.3" fill="none" stroke="#a6a6a6" stroke-width="0.8"/>
<circle cx="922.4" cy="24.2" r="3.7" fill="#8a8a8a" stroke="#12a05f" stroke-width="1.4"/><circle cx="922.4" cy="24.2" r="1" fill="#b0b0b0"/>
<path d="M931.6 15.3 H948.0 V34 Q945.8 36 943.3 34.5 Q939.8 33 936.3 34.5 Q933.8 36 931.6 34 Z M932.8 8.9 H946.8 L945.0 12.1 H934.6 Z M938.0 12.1 V15.3 M941.6 12.1 V15.3" fill="none" stroke="#a6a6a6" stroke-width="0.8"/>
<circle cx="939.8" cy="24.2" r="3.7" fill="#8a8a8a" stroke="#12a05f" stroke-width="1.4"/><circle cx="939.8" cy="24.2" r="1" fill="#b0b0b0"/>
<path d="M948.9 15.3 H965.4 V34 Q963.1 36 960.6 34.5 Q957.1 33 953.6 34.5 Q951.1 36 948.9 34 Z M950.1 8.9 H964.1 L962.4 12.1 H951.9 Z M955.4 12.1 V15.3 M958.9 12.1 V15.3" fill="none" stroke="#a6a6a6" stroke-width="0.8"/>
<circle cx="957.1" cy="24.2" r="3.7" fill="#8a8a8a" stroke="#12a05f" stroke-width="1.4"/><circle cx="957.1" cy="24.2" r="1" fill="#b0b0b0"/>
<path d="M966.3 15.3 H982.7 V34 Q980.5 36 978.0 34.5 Q974.5 33 971.0 34.5 Q968.5 36 966.3 34 Z M967.5 8.9 H981.5 L979.7 12.1 H969.3 Z M972.7 12.1 V15.3 M976.3 12.1 V15.3" fill="none" stroke="#a6a6a6" stroke-width="0.8"/>
<circle cx="974.5" cy="24.2" r="3.7" fill="#8a8a8a" stroke="#12a05f" stroke-width="1.4"/><circle cx="974.5" cy="24.2" r="1" fill="#b0b0b0"/>
<path d="M983.7 15.3 H1000.1 V34 Q997.9 36 995.4 34.5 Q991.9 33 988.4 34.5 Q985.9 36 983.7 34 Z M984.9 8.9 H998.9 L997.1 12.1 H986.7 Z M990.1 12.1 V15.3 M993.7 12.1 V15.3" fill="none" stroke="#a6a6a6" stroke-width="0.8"/>
<circle cx="991.9" cy="24.2" r="3.7" fill="#8a8a8a" stroke="#12a05f" stroke-width="1.4"/><circle cx="991.9" cy="24.2" r="1" fill="#b0b0b0"/>
<path d="M1001.1 15.3 H1017.5 V34 Q1015.3 36 1012.8 34.5 Q1009.3 33 1005.8 34.5 Q1003.3 36 1001.1 34 Z M1002.3 8.9 H1016.3 L1014.5 12.1 H1004.1 Z M1007.5 12.1 V15.3 M1011.1 12.1 V15.3" fill="none" stroke="#a6a6a6" stroke-width="0.8"/>
<circle cx="1009.3" cy="24.2" r="3.7" fill="#8a8a8a" stroke="#12a05f" stroke-width="1.4"/><circle cx="1009.3" cy="24.2" r="1" fill="#b0b0b0"/>
<path d="M1018.5 15.3 H1034.9 V34 Q1032.7 36 1030.2 34.5 Q1026.7 33 1023.2 34.5 Q1020.7 36 1018.5 34 Z M1019.7 8.9 H1033.7 L1031.9 12.1 H1021.5 Z M1024.9 12.1 V15.3 M1028.5 12.1 V15.3" fill="none" stroke="#a6a6a6" stroke-width="0.8"/>
<circle cx="1026.7" cy="24.2" r="3.7" fill="#8a8a8a" stroke="#12a05f" stroke-width="1.4"/><circle cx="1026.7" cy="24.2" r="1" fill="#b0b0b0"/>
<path d="M1035.8 15.3 H1052.2 V34 Q1050.0 36 1047.5 34.5 Q1044.0 33 1040.5 34.5 Q1038.0 36 1035.8 34 Z M1037.0 8.9 H1051.0 L1049.2 12.1 H1038.8 Z M1042.2 12.1 V15.3 M1045.8 12.1 V15.3" fill="none" stroke="#a6a6a6" stroke-width="0.8"/>
<circle cx="1044.0" cy="24.2" r="3.7" fill="#8a8a8a" stroke="#12a05f" stroke-width="1.4"/><circle cx="1044.0" cy="24.2" r="1" fill="#b0b0b0"/>
<path d="M1053.2 15.3 H1069.6 V34 Q1067.4 36 1064.9 34.5 Q1061.4 33 1057.9 34.5 Q1055.4 36 1053.2 34 Z M1054.4 8.9 H1068.4 L1066.6 12.1 H1056.2 Z M1059.6 12.1 V15.3 M1063.2 12.1 V15.3" fill="none" stroke="#a6a6a6" stroke-width="0.8"/>
<circle cx="1061.4" cy="24.2" r="3.7" fill="#8a8a8a" stroke="#12a05f" stroke-width="1.4"/><circle cx="1061.4" cy="24.2" r="1" fill="#b0b0b0"/>
<path d="M1067.2 12.8 L1070.4 7.2 L1073.2 12.8 Z" fill="#777"/>
<path d="M989 19.5h6M992 16.5v6" stroke="#b5d334" stroke-width="0.7" fill="none"/>
<rect x="1241" y="28" width="8" height="12" fill="none" stroke="#c0c0c0" stroke-width="0.8"/>
<path d="M1242 33.8h5M1244.5 31.2v5" stroke="#b5d334" stroke-width="0.7" fill="none"/>
<g transform="translate(1125.8 97.8) rotate(90)">
<path d="M-10.9 -5.9 H-1 L0 -5 L1 -5.9 H10.9 Q11.9 -5.9 11.9 -4.9 V4.9 Q11.9 5.9 10.9 5.9 H1 L0 5 L-1 5.9 H-10.9 Q-11.9 5.9 -11.9 4.9 V-4.9 Q-11.9 -5.9 -10.9 -5.9Z" fill="none" stroke="#a8a8a8" stroke-width="0.8"/>
<path d="M-2 0h4M0 -2v4" stroke="#b5d334" stroke-width="0.6"/>
</g>
<g transform="translate(1194.2 92) rotate(90)">
<path d="M-10.9 -5.9 H-1 L0 -5 L1 -5.9 H10.9 Q11.9 -5.9 11.9 -4.9 V4.9 Q11.9 5.9 10.9 5.9 H1 L0 5 L-1 5.9 H-10.9 Q-11.9 5.9 -11.9 4.9 V-4.9 Q-11.9 -5.9 -10.9 -5.9Z" fill="none" stroke="#a8a8a8" stroke-width="0.8"/>
<path d="M-2 0h4M0 -2v4" stroke="#b5d334" stroke-width="0.6"/>
</g>
<g transform="translate(1125.9 136.2) rotate(0)">
<circle r="32" fill="none" stroke="#8c8c8c" stroke-width="0.7"/>
<path d="M0 -11.6 V11.6" stroke="#999" stroke-width="0.6"/>
<g transform="scale(1)">
<rect x="-5.5" y="-4.3" width="11" height="3.4" fill="#fff" stroke="#8a8a8a" stroke-width="0.7"/>
<rect x="-5.5" y="1" width="11" height="3.2" fill="#707070"/>
<path d="M0 -5 V5 M-5.5 0 H5.5" stroke="#b5d334" stroke-width="0.6"/></g>
<path d="M-3 -23h6M0 -26v6" stroke="#888" stroke-width="0.6" fill="none"/>
</g>
<g transform="translate(1192.2 138.8) rotate(0)">
<circle r="32" fill="none" stroke="#8c8c8c" stroke-width="0.7"/>
<path d="M0 -11.6 V11.6" stroke="#999" stroke-width="0.6"/>
<g transform="scale(1)">
<rect x="-5.5" y="-4.3" width="11" height="3.4" fill="#fff" stroke="#8a8a8a" stroke-width="0.7"/>
<rect x="-5.5" y="1" width="11" height="3.2" fill="#707070"/>
<path d="M0 -5 V5 M-5.5 0 H5.5" stroke="#b5d334" stroke-width="0.6"/></g>
<path d="M-3 -23h6M0 -26v6" stroke="#888" stroke-width="0.6" fill="none"/>
</g>
<g transform="translate(1259.2 138.8) rotate(0)">
<circle r="32" fill="none" stroke="#8c8c8c" stroke-width="0.7"/>
<path d="M0 -11.6 V11.6" stroke="#999" stroke-width="0.6"/>
<g transform="scale(1)">
<rect x="-5.5" y="-4.3" width="11" height="3.4" fill="#fff" stroke="#8a8a8a" stroke-width="0.7"/>
<rect x="-5.5" y="1" width="11" height="3.2" fill="#707070"/>
<path d="M0 -5 V5 M-5.5 0 H5.5" stroke="#b5d334" stroke-width="0.6"/></g>
<path d="M-3 -23h6M0 -26v6" stroke="#888" stroke-width="0.6" fill="none"/>
</g>
<path d="M1361.9 57.3 H1425.6 V78 H1422.5 V92.3 H1425.6 V113.6 H1361.9 Z" fill="none" stroke="#8a8a8a" stroke-width="0.8"/>
<circle cx="1378.9" cy="55.6" r="5.5" fill="#fff" stroke="#9a9488" stroke-width="0.6"/><circle cx="1378.9" cy="115.7" r="5.5" fill="#fff" stroke="#9a9488" stroke-width="0.6"/>
<circle cx="1385.3" cy="85.3" r="10.8" fill="none" stroke="#7a7a7a" stroke-width="1"/>
<path d="M1385.8 77.5 V93.5 M1385.8 93 C1394 92 1392 84 1385.8 85.3 C1378 86.5 1376.5 80 1385.8 78 M1385.8 78 C1393 78 1392 83.5 1385.8 85.3 C1380 87 1379 92 1385.8 93" fill="none" stroke="#7a7a7a" stroke-width="0.9"/>
<path d="M1400.8 65.2 L1419.9 69 V74.7 L1400.8 78.9 M1400.8 92.6 L1419.9 96.6 V102.2 L1400.8 106.2" fill="none" stroke="#8a8a8a" stroke-width="0.9"/>
<path d="M1422.4 85.5h7M1425.9 82v7" stroke="#b5d334" stroke-width="0.7" fill="none"/>
<rect x="134.4" y="257.2" width="34.5" height="27.1" fill="none" stroke="#ee8a8a" stroke-width="0.8"/>
<rect x="142.6" y="258.5" width="17.8" height="24.5" rx="1.2" fill="none" stroke="#a8a8a8" stroke-width="1"/>
<path d="M148 270.8h7M151.5 267.2v7" stroke="#b5d334" stroke-width="0.7" fill="none"/>
<circle cx="132.0" cy="259.2" r="0.7" fill="#444"/>
<path d="M65.2 236.4h7M68.7 232.9v7" stroke="#b5d334" stroke-width="0.7" fill="none"/>
<circle cx="45.0" cy="247.5" r="0.7" fill="#444"/>
<path d="M45 228 V236 Q46.5 237.5 45 239 V245" fill="none" stroke="#8a8a8a" stroke-width="0.8"/><path d="M91.6 226 V246" stroke="#aaa" stroke-width="0.8"/>
<rect x="293.8" y="220.8" width="51.8" height="51.2" fill="none" stroke="#b8b8b8" stroke-width="0.8"/>
<rect x="301.2" y="225.8" width="39.2" height="41.2" fill="none" stroke="#767676" stroke-width="1.2"/>
<path d="M317.4 246.4h7M320.9 242.9v7" stroke="#b5d334" stroke-width="0.7" fill="none"/>
<circle cx="299.0" cy="229.0" r="0.7" fill="#444"/>
<rect x="306.2" y="285" width="33.8" height="24.5" fill="none" stroke="#c4c4c4" stroke-width="0.8"/>
<rect x="316.2" y="286.2" width="15" height="22" fill="none" stroke="#8a8a8a" stroke-width="1.3"/>
<path d="M320 297.5h6M323 294.5v6" stroke="#b5d334" stroke-width="0.7" fill="none"/>
<g transform="translate(256.8 323.2) rotate(-90)">
<rect x="-15.5" y="-13.8" width="31" height="27.6" fill="none" stroke="#8a8a8a" stroke-width="1.1"/>
<path d="M-3 3.8h6M0 0.8v6" stroke="#b5d334" stroke-width="0.7" fill="none"/>
</g>
<g transform="translate(417 200.8) rotate(90)">
<path d="M-20.3 -22.6 H23 V22.6 H-20.3 L-22.9 19.4 V-19.4 Z M-20.3 -22.6 V22.6" fill="none" stroke="#8a8a8a" stroke-width="1.1"/>
<path d="M-6.2 0.4h7M-2.7 -3.1v7" stroke="#b5d334" stroke-width="0.7" fill="none"/>
</g>
<g transform="translate(501.1 202) rotate(90)">
<path d="M-20.3 -22.6 H23 V22.6 H-20.3 L-22.9 19.4 V-19.4 Z M-20.3 -22.6 V22.6" fill="none" stroke="#8a8a8a" stroke-width="1.1"/>
<path d="M-6.2 0.4h7M-2.7 -3.1v7" stroke="#b5d334" stroke-width="0.7" fill="none"/>
</g>
<rect x="627.2" y="216.8" width="11.5" height="6.4" fill="#fff" stroke="#c0c0c0" stroke-width="0.7"/>
<rect x="628.2" y="214.0" width="2.6" height="3" fill="#555"/><rect x="635.2" y="214.0" width="2.6" height="3" fill="#555"/><rect x="628.2" y="223.0" width="2.6" height="3" fill="#555"/><rect x="635.2" y="223.0" width="2.6" height="3" fill="#555"/>
<path d="M630.5 220h5M633 217.5v5" stroke="#b5d334" stroke-width="0.7" fill="none"/>
<rect x="356.0" y="266.8" width="11.5" height="6.4" fill="#fff" stroke="#c0c0c0" stroke-width="0.7"/>
<rect x="356.9" y="264.0" width="2.6" height="3" fill="#555"/><rect x="363.9" y="264.0" width="2.6" height="3" fill="#555"/><rect x="356.9" y="273.0" width="2.6" height="3" fill="#555"/><rect x="363.9" y="273.0" width="2.6" height="3" fill="#555"/>
<path d="M359.2 270h5M361.8 267.5v5" stroke="#b5d334" stroke-width="0.7" fill="none"/>
<rect x="561.8" y="194.5" width="51.2" height="50.5" fill="none" stroke="#b8b8b8" stroke-width="0.8"/>
<rect x="568.8" y="199.5" width="39.2" height="40.8" fill="none" stroke="#767676" stroke-width="1.2"/>
<path d="M584.9 219.9h7M588.4 216.4v7" stroke="#b5d334" stroke-width="0.7" fill="none"/>
<circle cx="567.0" cy="202.0" r="0.7" fill="#444"/>
<rect x="575" y="258.2" width="34.2" height="25" fill="none" stroke="#c4c4c4" stroke-width="0.8"/>
<rect x="584.2" y="259.5" width="15" height="22" fill="none" stroke="#8a8a8a" stroke-width="1.3"/>
<path d="M588.8 270.8h6M591.8 267.8v6" stroke="#b5d334" stroke-width="0.7" fill="none"/>
<rect x="586" y="321.2" width="35" height="26.5" fill="none" stroke="#ee8a8a" stroke-width="0.8"/>
<rect x="594.8" y="322.8" width="18.2" height="23.5" rx="1.2" fill="none" stroke="#a8a8a8" stroke-width="1"/>
<path d="M600.4 334.5h7M603.9 331v7" stroke="#b5d334" stroke-width="0.7" fill="none"/>
<circle cx="584.2" cy="323.2" r="0.7" fill="#444"/>
<rect x="651.8" y="328.2" width="35" height="26.2" fill="none" stroke="#ee8a8a" stroke-width="0.8"/>
<rect x="660" y="329.5" width="18.5" height="24.2" rx="1.2" fill="none" stroke="#a8a8a8" stroke-width="1"/>
<path d="M665.8 341.6h7M669.2 338.1v7" stroke="#b5d334" stroke-width="0.7" fill="none"/>
<circle cx="650.0" cy="330.2" r="0.7" fill="#444"/>
<path d="M454 270.2h7M457.5 266.8v7" stroke="#b5d334" stroke-width="0.7" fill="none"/>
<g transform="translate(820.2 190) rotate(0)">
<path d="M-10.9 -5.9 H-1 L0 -5 L1 -5.9 H10.9 Q11.9 -5.9 11.9 -4.9 V4.9 Q11.9 5.9 10.9 5.9 H1 L0 5 L-1 5.9 H-10.9 Q-11.9 5.9 -11.9 4.9 V-4.9 Q-11.9 -5.9 -10.9 -5.9Z" fill="none" stroke="#a8a8a8" stroke-width="0.8"/>
<path d="M-2 0h4M0 -2v4" stroke="#b5d334" stroke-width="0.6"/>
</g>
<g transform="translate(854 312) rotate(0)">
<path d="M-10.9 -5.9 H-1 L0 -5 L1 -5.9 H10.9 Q11.9 -5.9 11.9 -4.9 V4.9 Q11.9 5.9 10.9 5.9 H1 L0 5 L-1 5.9 H-10.9 Q-11.9 5.9 -11.9 4.9 V-4.9 Q-11.9 -5.9 -10.9 -5.9Z" fill="none" stroke="#a8a8a8" stroke-width="0.8"/>
<path d="M-2 0h4M0 -2v4" stroke="#b5d334" stroke-width="0.6"/>
</g>
<g transform="translate(860.5 190.8) rotate(-90)">
<circle r="23.2" fill="none" stroke="#8c8c8c" stroke-width="0.7"/>
<path d="M0 -11.6 V11.6" stroke="#999" stroke-width="0.6"/>
<g transform="scale(1)">
<rect x="-5.5" y="-4.3" width="11" height="3.4" fill="#fff" stroke="#8a8a8a" stroke-width="0.7"/>
<rect x="-5.5" y="1" width="11" height="3.2" fill="#707070"/>
<path d="M0 -5 V5 M-5.5 0 H5.5" stroke="#b5d334" stroke-width="0.6"/></g>
<path d="M4.1 -17.2h3.2M5.7 -18.8v3.2" stroke="#888" stroke-width="0.6" fill="none"/>
</g>
<g transform="translate(894 299.5) rotate(180)">
<circle r="23.2" fill="none" stroke="#8c8c8c" stroke-width="0.7"/>
<path d="M0 -11.6 V11.6" stroke="#999" stroke-width="0.6"/>
<g transform="scale(1)">
<rect x="-5.5" y="-4.3" width="11" height="3.4" fill="#fff" stroke="#8a8a8a" stroke-width="0.7"/>
<rect x="-5.5" y="1" width="11" height="3.2" fill="#707070"/>
<path d="M0 -5 V5 M-5.5 0 H5.5" stroke="#b5d334" stroke-width="0.6"/></g>
<path d="M4.1 -17.2h3.2M5.7 -18.8v3.2" stroke="#888" stroke-width="0.6" fill="none"/>
</g>
<g transform="translate(1300.2 180.2) rotate(90)">
<circle r="23.2" fill="none" stroke="#8c8c8c" stroke-width="0.7"/>
<path d="M0 -11.6 V11.6" stroke="#999" stroke-width="0.6"/>
<g transform="scale(1)">
<rect x="-5.5" y="-4.3" width="11" height="3.4" fill="#fff" stroke="#8a8a8a" stroke-width="0.7"/>
<rect x="-5.5" y="1" width="11" height="3.2" fill="#707070"/>
<path d="M0 -5 V5 M-5.5 0 H5.5" stroke="#b5d334" stroke-width="0.6"/></g>
<path d="M4.1 -17.2h3.2M5.7 -18.8v3.2" stroke="#888" stroke-width="0.6" fill="none"/>
</g>
<g transform="translate(1339.2 180.2) rotate(0)">
<path d="M-10.9 -5.9 H-1 L0 -5 L1 -5.9 H10.9 Q11.9 -5.9 11.9 -4.9 V4.9 Q11.9 5.9 10.9 5.9 H1 L0 5 L-1 5.9 H-10.9 Q-11.9 5.9 -11.9 4.9 V-4.9 Q-11.9 -5.9 -10.9 -5.9Z" fill="none" stroke="#a8a8a8" stroke-width="0.8"/>
<path d="M-2 0h4M0 -2v4" stroke="#b5d334" stroke-width="0.6"/>
</g>
<g transform="translate(1343.5 281.2) rotate(90)">
<circle r="40.9" fill="none" stroke="#8c8c8c" stroke-width="0.7"/>
<path d="M0 -17.4 V17.4" stroke="#999" stroke-width="0.6"/>
<g transform="scale(1.6)">
<rect x="-5.5" y="-4.3" width="11" height="3.4" fill="#fff" stroke="#8a8a8a" stroke-width="0.7"/>
<rect x="-5.5" y="1" width="11" height="3.2" fill="#707070"/>
<path d="M0 -5 V5 M-5.5 0 H5.5" stroke="#b5d334" stroke-width="0.6"/></g>
<path d="M-3.5 -30.5h7M0 -34v7" stroke="#888" stroke-width="0.6" fill="none"/>
</g>
<g transform="translate(1372.5 340.5) rotate(90)">
<path d="M-10.9 -5.9 H-1 L0 -5 L1 -5.9 H10.9 Q11.9 -5.9 11.9 -4.9 V4.9 Q11.9 5.9 10.9 5.9 H1 L0 5 L-1 5.9 H-10.9 Q-11.9 5.9 -11.9 4.9 V-4.9 Q-11.9 -5.9 -10.9 -5.9Z" fill="none" stroke="#a8a8a8" stroke-width="0.8"/>
<path d="M-2 0h4M0 -2v4" stroke="#b5d334" stroke-width="0.6"/>
</g>
<g transform="translate(390 499.8) rotate(-90)">
<path d="M-20.3 -22.6 H23 V22.6 H-20.3 L-22.9 19.4 V-19.4 Z M-20.3 -22.6 V22.6" fill="none" stroke="#8a8a8a" stroke-width="1.1"/>
<path d="M-6.2 0.4h7M-2.7 -3.1v7" stroke="#b5d334" stroke-width="0.7" fill="none"/>
</g>
<rect x="297.8" y="459.5" width="34.7" height="25.5" fill="none" stroke="#c4c4c4" stroke-width="0.8"/>
<rect x="306.8" y="461.2" width="16.1" height="21.9" fill="none" stroke="#8a8a8a" stroke-width="1.3"/>
<path d="M311.8 472.5h6M314.8 469.5v6" stroke="#b5d334" stroke-width="0.7" fill="none"/>
<g transform="translate(219 456.8) rotate(0)">
<rect x="-15.5" y="-13.8" width="31" height="27.6" fill="none" stroke="#8a8a8a" stroke-width="1.1"/>
<path d="M-3 3.8h6M0 0.8v6" stroke="#b5d334" stroke-width="0.7" fill="none"/>
</g>
<g transform="translate(256.8 356.5) rotate(-90)">
<rect x="-15.5" y="-13.8" width="31" height="27.6" fill="none" stroke="#8a8a8a" stroke-width="1.1"/>
<path d="M-3 3.8h6M0 0.8v6" stroke="#b5d334" stroke-width="0.7" fill="none"/>
</g>
<rect x="163" y="381.5" width="35.2" height="26.8" fill="none" stroke="#ee8a8a" stroke-width="0.8"/>
<rect x="171.5" y="382.8" width="18.5" height="24.2" rx="1.2" fill="none" stroke="#a8a8a8" stroke-width="1"/>
<path d="M177.2 394.9h7M180.8 391.4v7" stroke="#b5d334" stroke-width="0.7" fill="none"/>
<circle cx="161.2" cy="383.5" r="0.7" fill="#444"/>
<rect x="130.8" y="409.8" width="34.8" height="26.8" fill="none" stroke="#ee8a8a" stroke-width="0.8"/>
<rect x="139" y="411.2" width="18.5" height="24" rx="1.2" fill="none" stroke="#a8a8a8" stroke-width="1"/>
<path d="M144.8 423.2h7M148.2 419.8v7" stroke="#b5d334" stroke-width="0.7" fill="none"/>
<circle cx="128.8" cy="412.0" r="0.7" fill="#444"/>
<rect x="105.2" y="441.5" width="34.8" height="26.2" fill="none" stroke="#ee8a8a" stroke-width="0.8"/>
<rect x="113.8" y="442.8" width="18.2" height="23.8" rx="1.2" fill="none" stroke="#a8a8a8" stroke-width="1"/>
<path d="M119.4 454.6h7M122.9 451.1v7" stroke="#b5d334" stroke-width="0.7" fill="none"/>
<circle cx="103.5" cy="443.0" r="0.7" fill="#444"/>
<rect x="284.2" y="401.5" width="51.2" height="51.2" fill="none" stroke="#b8b8b8" stroke-width="0.8"/>
<rect x="290.8" y="406.5" width="40" height="41.2" fill="none" stroke="#767676" stroke-width="1.2"/>
<path d="M307.2 427.1h7M310.8 423.6v7" stroke="#b5d334" stroke-width="0.7" fill="none"/>
<circle cx="289.5" cy="409.5" r="0.7" fill="#444"/>
<rect x="110.5" y="494.0" width="18" height="23" fill="none" stroke="#9a9a9a" stroke-width="1"/>
<rect x="105.0" y="496.0" width="5.5" height="2.6" fill="#fff" stroke="#9a9a9a" stroke-width="0.6"/><rect x="128.5" y="496.0" width="5.5" height="2.6" fill="#fff" stroke="#9a9a9a" stroke-width="0.6"/>
<rect x="105.0" y="501.4" width="5.5" height="2.6" fill="#fff" stroke="#9a9a9a" stroke-width="0.6"/><rect x="128.5" y="501.4" width="5.5" height="2.6" fill="#fff" stroke="#9a9a9a" stroke-width="0.6"/>
<rect x="105.0" y="506.9" width="5.5" height="2.6" fill="#fff" stroke="#9a9a9a" stroke-width="0.6"/><rect x="128.5" y="506.9" width="5.5" height="2.6" fill="#fff" stroke="#9a9a9a" stroke-width="0.6"/>
<rect x="105.0" y="512.4" width="5.5" height="2.6" fill="#fff" stroke="#9a9a9a" stroke-width="0.6"/><rect x="128.5" y="512.4" width="5.5" height="2.6" fill="#fff" stroke="#9a9a9a" stroke-width="0.6"/>
<path d="M115.5 505.5h8M119.5 501.5v8" stroke="#b5d334" stroke-width="0.7" fill="none"/>
<rect x="572.2" y="363.2" width="35.4" height="26.6" fill="none" stroke="#ee8a8a" stroke-width="0.8"/>
<rect x="580.7" y="364.4" width="18.7" height="24.4" rx="1.2" fill="none" stroke="#a8a8a8" stroke-width="1"/>
<path d="M586.5 376.6h7M590 373.1v7" stroke="#b5d334" stroke-width="0.7" fill="none"/>
<circle cx="570.5" cy="365.0" r="0.7" fill="#444"/>
<g transform="translate(713 459.3) rotate(90)">
<rect x="-15.5" y="-13.8" width="31" height="27.6" fill="none" stroke="#8a8a8a" stroke-width="1.1"/>
<path d="M-3 3.8h6M0 0.8v6" stroke="#b5d334" stroke-width="0.7" fill="none"/>
</g>
<rect x="356.0" y="422.8" width="11.5" height="6.4" fill="#fff" stroke="#c0c0c0" stroke-width="0.7"/>
<rect x="356.9" y="420.0" width="2.6" height="3" fill="#555"/><rect x="363.9" y="420.0" width="2.6" height="3" fill="#555"/><rect x="356.9" y="429.0" width="2.6" height="3" fill="#555"/><rect x="363.9" y="429.0" width="2.6" height="3" fill="#555"/>
<path d="M359.2 426h5M361.8 423.5v5" stroke="#b5d334" stroke-width="0.7" fill="none"/>
<rect x="609.8" y="460.8" width="11.5" height="6.4" fill="#fff" stroke="#c0c0c0" stroke-width="0.7"/>
<rect x="610.7" y="458.0" width="2.6" height="3" fill="#555"/><rect x="617.7" y="458.0" width="2.6" height="3" fill="#555"/><rect x="610.7" y="467.0" width="2.6" height="3" fill="#555"/><rect x="617.7" y="467.0" width="2.6" height="3" fill="#555"/>
<path d="M613 464h5M615.5 461.5v5" stroke="#b5d334" stroke-width="0.7" fill="none"/>
<g transform="translate(471.8 500.2) rotate(-90)">
<path d="M-20.3 -22.6 H23 V22.6 H-20.3 L-22.9 19.4 V-19.4 Z M-20.3 -22.6 V22.6" fill="none" stroke="#8a8a8a" stroke-width="1.1"/>
<path d="M-6.2 0.4h7M-2.7 -3.1v7" stroke="#b5d334" stroke-width="0.7" fill="none"/>
</g>
<rect x="538.5" y="438.2" width="52" height="50.8" fill="none" stroke="#b8b8b8" stroke-width="0.8"/>
<rect x="546" y="442.8" width="39.5" height="41.8" fill="none" stroke="#767676" stroke-width="1.2"/>
<path d="M562.2 463.6h7M565.8 460.1v7" stroke="#b5d334" stroke-width="0.7" fill="none"/>
<circle cx="543.5" cy="445.8" r="0.7" fill="#444"/>
<rect x="552.5" y="494.8" width="33.5" height="25" fill="none" stroke="#c4c4c4" stroke-width="0.8"/>
<rect x="561.8" y="496" width="15.8" height="22.5" fill="none" stroke="#8a8a8a" stroke-width="1.3"/>
<path d="M566.2 507.2h6M569.2 504.2v6" stroke="#b5d334" stroke-width="0.7" fill="none"/>
<path d="M430 426.5h7M433.5 423v7" stroke="#b5d334" stroke-width="0.7" fill="none"/>
<rect x="931" y="388.5" width="35" height="26.8" fill="none" stroke="#ee8a8a" stroke-width="0.8"/>
<rect x="939.2" y="389.8" width="18" height="24.2" rx="1.2" fill="none" stroke="#a8a8a8" stroke-width="1"/>
<path d="M944.8 401.9h7M948.2 398.4v7" stroke="#b5d334" stroke-width="0.7" fill="none"/>
<circle cx="928.8" cy="390.8" r="0.7" fill="#444"/>
<rect x="931.8" y="425.2" width="35" height="26.2" fill="none" stroke="#ee8a8a" stroke-width="0.8"/>
<rect x="940.2" y="426.5" width="18.2" height="23.8" rx="1.2" fill="none" stroke="#a8a8a8" stroke-width="1"/>
<path d="M945.9 438.4h7M949.4 434.9v7" stroke="#b5d334" stroke-width="0.7" fill="none"/>
<circle cx="929.5" cy="427.2" r="0.7" fill="#444"/>
<rect x="1040.5" y="388.5" width="35.5" height="26.2" fill="none" stroke="#ee8a8a" stroke-width="0.8"/>
<rect x="1049.2" y="389.8" width="18" height="23.8" rx="1.2" fill="none" stroke="#a8a8a8" stroke-width="1"/>
<path d="M1054.8 401.6h7M1058.2 398.1v7" stroke="#b5d334" stroke-width="0.7" fill="none"/>
<circle cx="1038.5" cy="390.2" r="0.7" fill="#444"/>
<rect x="1040.5" y="425.8" width="35.5" height="25.8" fill="none" stroke="#ee8a8a" stroke-width="0.8"/>
<rect x="1049.2" y="427" width="18" height="23.2" rx="1.2" fill="none" stroke="#a8a8a8" stroke-width="1"/>
<path d="M1054.8 438.6h7M1058.2 435.1v7" stroke="#b5d334" stroke-width="0.7" fill="none"/>
<circle cx="1038.5" cy="427.2" r="0.7" fill="#444"/>
<rect x="1119" y="412.6" width="21" height="17.9" fill="none" stroke="#c4c4c4" stroke-width="0.8"/>
<path d="M1128.6 417.2 V426.2 L1133 421.7 Z" fill="none" stroke="#777" stroke-width="0.8"/>
<path d="M1127.1 421.7h5M1129.6 419.2v5" stroke="#b5d334" stroke-width="0.7" fill="none"/>
<path d="M1164.4 405.4 H1192 L1197.1 410.3 V437.4 H1169.3 L1164.4 432.8 Z" fill="none" stroke="#8a8a8a" stroke-width="1"/>
<path d="M1177.1 421.6h7M1180.6 418.1v7" stroke="#b5d334" stroke-width="0.7" fill="none"/>
<rect x="291.8" y="624.3" width="11.5" height="6.4" fill="#fff" stroke="#c0c0c0" stroke-width="0.7"/>
<rect x="292.7" y="621.5" width="2.6" height="3" fill="#555"/><rect x="299.7" y="621.5" width="2.6" height="3" fill="#555"/><rect x="292.7" y="630.5" width="2.6" height="3" fill="#555"/><rect x="299.7" y="630.5" width="2.6" height="3" fill="#555"/>
<path d="M295 627.5h5M297.5 625v5" stroke="#b5d334" stroke-width="0.7" fill="none"/>
<rect x="225" y="600.8" width="51.2" height="51" fill="none" stroke="#b8b8b8" stroke-width="0.8"/>
<rect x="232" y="605.5" width="39.8" height="41.5" fill="none" stroke="#767676" stroke-width="1.2"/>
<path d="M248.4 626.2h7M251.9 622.8v7" stroke="#b5d334" stroke-width="0.7" fill="none"/>
<circle cx="230.0" cy="608.8" r="0.7" fill="#444"/>
<rect x="233" y="658.8" width="34" height="24.5" fill="none" stroke="#c4c4c4" stroke-width="0.8"/>
<rect x="242" y="660" width="15.5" height="22" fill="none" stroke="#8a8a8a" stroke-width="1.3"/>
<path d="M247 671.5h6M250 668.5v6" stroke="#b5d334" stroke-width="0.7" fill="none"/>
<g transform="translate(91.9 672.5) rotate(-90)">
<rect x="-15.5" y="-13.8" width="31" height="27.6" fill="none" stroke="#8a8a8a" stroke-width="1.1"/>
<path d="M-3 3.8h6M0 0.8v6" stroke="#b5d334" stroke-width="0.7" fill="none"/>
</g>
<g transform="translate(294 570) rotate(0)">
<path d="M-20.3 -22.6 H23 V22.6 H-20.3 L-22.9 19.4 V-19.4 Z M-20.3 -22.6 V22.6" fill="none" stroke="#8a8a8a" stroke-width="1.1"/>
<path d="M-6.2 0.4h7M-2.7 -3.1v7" stroke="#b5d334" stroke-width="0.7" fill="none"/>
</g>
<g transform="translate(561.2 568.2) rotate(180)">
<path d="M-20.3 -22.6 H23 V22.6 H-20.3 L-22.9 19.4 V-19.4 Z M-20.3 -22.6 V22.6" fill="none" stroke="#8a8a8a" stroke-width="1.1"/>
<path d="M-6.2 0.4h7M-2.7 -3.1v7" stroke="#b5d334" stroke-width="0.7" fill="none"/>
</g>
<rect x="598" y="597.5" width="51.2" height="50.5" fill="none" stroke="#b8b8b8" stroke-width="0.8"/>
<rect x="605" y="602.5" width="39.8" height="40.8" fill="none" stroke="#767676" stroke-width="1.2"/>
<path d="M621.4 622.9h7M624.9 619.4v7" stroke="#b5d334" stroke-width="0.7" fill="none"/>
<circle cx="603.0" cy="605.0" r="0.7" fill="#444"/>
<rect x="606" y="662.5" width="34" height="24.5" fill="none" stroke="#c4c4c4" stroke-width="0.8"/>
<rect x="615" y="663.8" width="15.5" height="22" fill="none" stroke="#8a8a8a" stroke-width="1.3"/>
<path d="M620 674.5h6M623 671.5v6" stroke="#b5d334" stroke-width="0.7" fill="none"/>
<rect x="664.8" y="618.8" width="11.5" height="6.4" fill="#fff" stroke="#c0c0c0" stroke-width="0.7"/>
<rect x="665.7" y="616.0" width="2.6" height="3" fill="#555"/><rect x="672.7" y="616.0" width="2.6" height="3" fill="#555"/><rect x="665.7" y="625.0" width="2.6" height="3" fill="#555"/><rect x="672.7" y="625.0" width="2.6" height="3" fill="#555"/>
<path d="M668 622h5M670.5 619.5v5" stroke="#b5d334" stroke-width="0.7" fill="none"/>
<path d="M427 621.2h8M431 617.2v8" stroke="#b5d334" stroke-width="0.7" fill="none"/>
<path d="M966.8 570.5 H975 Q977 572.3 979 570.5 H987.3 M966.8 615.5 H987.3" fill="none" stroke="#8a8a8a" stroke-width="0.8"/>
<circle cx="965.2" cy="569.5" r="0.7" fill="#444"/>
<path d="M973.8 593.2h7M977.2 589.8v7" stroke="#b5d334" stroke-width="0.7" fill="none"/>
<g transform="translate(788 662.9) rotate(0)">
<rect x="-15.5" y="-13.8" width="31" height="27.6" fill="none" stroke="#8a8a8a" stroke-width="1.1"/>
<path d="M-3 3.8h6M0 0.8v6" stroke="#b5d334" stroke-width="0.7" fill="none"/>
</g>
<rect x="1327.8" y="546.2" width="14" height="22" fill="none" stroke="#ee8a8a" stroke-width="0.8"/>
<path d="M1331.8 557.5h6M1334.8 554.5v6" stroke="#b5d334" stroke-width="0.7" fill="none"/>
<rect x="1345" y="546.2" width="14" height="22" fill="none" stroke="#ee8a8a" stroke-width="0.8"/>
<path d="M1349 557.5h6M1352 554.5v6" stroke="#b5d334" stroke-width="0.7" fill="none"/>
<rect x="1293" y="543.8" width="9.8" height="13" fill="none" stroke="#9a9a9a" stroke-width="0.8"/>
<rect x="1290.5" y="545.2" width="2.5" height="2" fill="none" stroke="#9a9a9a" stroke-width="0.6"/>
<rect x="1302.8" y="545.2" width="2.5" height="2" fill="none" stroke="#9a9a9a" stroke-width="0.6"/>
<rect x="1290.5" y="549.2" width="2.5" height="2" fill="none" stroke="#9a9a9a" stroke-width="0.6"/>
<rect x="1302.8" y="549.2" width="2.5" height="2" fill="none" stroke="#9a9a9a" stroke-width="0.6"/>
<rect x="1290.5" y="553.2" width="2.5" height="2" fill="none" stroke="#9a9a9a" stroke-width="0.6"/>
<rect x="1302.8" y="553.2" width="2.5" height="2" fill="none" stroke="#9a9a9a" stroke-width="0.6"/>
<path d="M1295.8 550.8h4M1297.8 548.8v4" stroke="#b5d334" stroke-width="0.7" fill="none"/>
<rect x="1268.1" y="582.5" width="18" height="23" fill="none" stroke="#9a9a9a" stroke-width="1"/>
<rect x="1262.6" y="584.5" width="5.5" height="2.6" fill="#fff" stroke="#9a9a9a" stroke-width="0.6"/><rect x="1286.1" y="584.5" width="5.5" height="2.6" fill="#fff" stroke="#9a9a9a" stroke-width="0.6"/>
<rect x="1262.6" y="590.0" width="5.5" height="2.6" fill="#fff" stroke="#9a9a9a" stroke-width="0.6"/><rect x="1286.1" y="590.0" width="5.5" height="2.6" fill="#fff" stroke="#9a9a9a" stroke-width="0.6"/>
<rect x="1262.6" y="595.4" width="5.5" height="2.6" fill="#fff" stroke="#9a9a9a" stroke-width="0.6"/><rect x="1286.1" y="595.4" width="5.5" height="2.6" fill="#fff" stroke="#9a9a9a" stroke-width="0.6"/>
<rect x="1262.6" y="600.9" width="5.5" height="2.6" fill="#fff" stroke="#9a9a9a" stroke-width="0.6"/><rect x="1286.1" y="600.9" width="5.5" height="2.6" fill="#fff" stroke="#9a9a9a" stroke-width="0.6"/>
<path d="M1273.1 594h8M1277.1 590v8" stroke="#b5d334" stroke-width="0.7" fill="none"/>
<rect x="1203.2" y="630" width="19" height="16.2" fill="none" stroke="#c4c4c4" stroke-width="0.8"/>
<rect x="1211" y="631.2" width="4.2" height="13.8" fill="none" stroke="#8a8a8a" stroke-width="1.2"/>
<path d="M1209.8 638.2h6M1212.8 635.2v6" stroke="#b5d334" stroke-width="0.7" fill="none"/>
<rect x="1286.5" y="652.5" width="35" height="26.8" fill="none" stroke="#ee8a8a" stroke-width="0.8"/>
<rect x="1295.2" y="653.8" width="18" height="24.2" rx="1.2" fill="none" stroke="#a8a8a8" stroke-width="1"/>
<path d="M1300.8 665.9h7M1304.2 662.4v7" stroke="#b5d334" stroke-width="0.7" fill="none"/>
<circle cx="1284.5" cy="654.2" r="0.7" fill="#444"/>
<rect x="1359.7" y="582.6" width="32.6" height="68.6" fill="none" stroke="#7a7a7a" stroke-width="0.9"/><path d="M1367.4 582.6 V651.2 M1384.6 582.6 V651.2 M1389.6 582.6 V651.2" stroke="#8a8a8a" stroke-width="0.7"/>
<circle cx="1375.6" cy="591.2" r="6.6" fill="#fff" stroke="#8a8a8a" stroke-width="0.8"/><circle cx="1375.6" cy="591.2" r="3.4" fill="#fff" stroke="#12a05f" stroke-width="1.5"/><path d="M1371.2 586.6 L1380.0 595.8" stroke="#777" stroke-width="0.9"/><circle cx="1367.4" cy="591.2" r="1" fill="#fff" stroke="#777" stroke-width="0.5"/>
<circle cx="1375.6" cy="608.2" r="6.6" fill="#fff" stroke="#8a8a8a" stroke-width="0.8"/><circle cx="1375.6" cy="608.2" r="3.4" fill="#fff" stroke="#12a05f" stroke-width="1.5"/><path d="M1371.2 603.6 L1380.0 612.8" stroke="#777" stroke-width="0.9"/><circle cx="1367.4" cy="608.2" r="1" fill="#fff" stroke="#777" stroke-width="0.5"/>
<circle cx="1375.6" cy="625.2" r="6.6" fill="#fff" stroke="#8a8a8a" stroke-width="0.8"/><circle cx="1375.6" cy="625.2" r="3.4" fill="#fff" stroke="#12a05f" stroke-width="1.5"/><path d="M1371.2 620.6 L1380.0 629.8" stroke="#777" stroke-width="0.9"/><circle cx="1367.4" cy="625.2" r="1" fill="#fff" stroke="#777" stroke-width="0.5"/>
<circle cx="1375.6" cy="642.6" r="6.6" fill="#fff" stroke="#8a8a8a" stroke-width="0.8"/><circle cx="1375.6" cy="642.6" r="3.4" fill="#fff" stroke="#12a05f" stroke-width="1.5"/><path d="M1371.2 638.0 L1380.0 647.2" stroke="#777" stroke-width="0.9"/><circle cx="1367.4" cy="642.6" r="1" fill="#fff" stroke="#777" stroke-width="0.5"/>
<path d="M1373.1 616.6h5M1375.6 614.1v5" stroke="#b5d334" stroke-width="0.7" fill="none"/>
<rect x="1209.4" y="526.8" width="18.7" height="10.2" fill="none" stroke="#c4c4c4" stroke-width="0.8"/><path d="M1211.7 528.5 H1222.5 M1214.5 529.2 H1222.5 V534.2 H1214.5" fill="none" stroke="#777" stroke-width="0.8"/>
<path d="M1216.5 531.6h5M1219 529.1v5" stroke="#b5d334" stroke-width="0.7" fill="none"/>
<rect x="1247.9" y="522.8" width="20.9" height="17.5" fill="none" stroke="#c4c4c4" stroke-width="0.8"/>
<path d="M1257.3 527.3 V536.2 L1262 531.6 Z" fill="none" stroke="#777" stroke-width="0.8"/>
<path d="M1255.5 531.6h5M1258 529.1v5" stroke="#b5d334" stroke-width="0.7" fill="none"/>
<rect x="345.5" y="84.2" width="11.5" height="6.4" fill="#fff" stroke="#c0c0c0" stroke-width="0.7"/>
<rect x="346.5" y="81.4" width="2.6" height="3" fill="#555"/><rect x="353.5" y="81.4" width="2.6" height="3" fill="#555"/><rect x="346.5" y="90.4" width="2.6" height="3" fill="#555"/><rect x="353.5" y="90.4" width="2.6" height="3" fill="#555"/>
<path d="M348.8 87.4h5M351.3 84.9v5" stroke="#b5d334" stroke-width="0.7" fill="none"/>
<rect x="676.4" y="58.8" width="11.5" height="6.4" fill="#fff" stroke="#c0c0c0" stroke-width="0.7"/>
<rect x="677.3" y="56.0" width="2.6" height="3" fill="#555"/><rect x="684.3" y="56.0" width="2.6" height="3" fill="#555"/><rect x="677.3" y="65.0" width="2.6" height="3" fill="#555"/><rect x="684.3" y="65.0" width="2.6" height="3" fill="#555"/>
<path d="M679.6 62h5M682.1 59.5v5" stroke="#b5d334" stroke-width="0.7" fill="none"/>
<rect x="28.9" y="98.2" width="4.2" height="6.6" fill="#6e6e6e"/>
<rect x="35.4" y="98.2" width="4.2" height="6.6" fill="#6e6e6e"/>
<path d="M31.8 101.5h5M34.2 99v5" stroke="#b5d334" stroke-width="0.8" fill="none"/>
<rect x="221.7" y="79.5" width="4.2" height="6.6" fill="#6e6e6e"/>
<rect x="228.1" y="79.5" width="4.2" height="6.6" fill="#6e6e6e"/>
<path d="M224.5 82.8h5M227 80.2v5" stroke="#b5d334" stroke-width="0.8" fill="none"/>
<rect x="308.4" y="79.2" width="4.2" height="6.6" fill="#6e6e6e"/>
<rect x="314.9" y="79.2" width="4.2" height="6.6" fill="#6e6e6e"/>
<path d="M311.2 82.5h5M313.8 80v5" stroke="#b5d334" stroke-width="0.8" fill="none"/>
<rect x="140.7" y="124.7" width="4.2" height="6.6" fill="#6e6e6e"/>
<rect x="147.1" y="124.7" width="4.2" height="6.6" fill="#6e6e6e"/>
<path d="M143.5 128h5M146 125.5v5" stroke="#b5d334" stroke-width="0.8" fill="none"/>
<rect x="227.2" y="138.4" width="4.2" height="6.6" fill="#6e6e6e"/>
<rect x="233.6" y="138.4" width="4.2" height="6.6" fill="#6e6e6e"/>
<path d="M230 141.8h5M232.5 139.2v5" stroke="#b5d334" stroke-width="0.8" fill="none"/>
<rect x="233.7" y="155.2" width="4.2" height="6.6" fill="#6e6e6e"/>
<rect x="240.1" y="155.2" width="4.2" height="6.6" fill="#6e6e6e"/>
<path d="M236.5 158.5h5M239 156v5" stroke="#b5d334" stroke-width="0.8" fill="none"/>
<rect x="271.7" y="166.7" width="4.2" height="6.6" fill="#6e6e6e"/>
<rect x="278.1" y="166.7" width="4.2" height="6.6" fill="#6e6e6e"/>
<path d="M274.5 170h5M277 167.5v5" stroke="#b5d334" stroke-width="0.8" fill="none"/>
<rect x="303.4" y="166.2" width="4.2" height="6.6" fill="#6e6e6e"/>
<rect x="309.9" y="166.2" width="4.2" height="6.6" fill="#6e6e6e"/>
<path d="M306.2 169.5h5M308.8 167v5" stroke="#b5d334" stroke-width="0.8" fill="none"/>
<rect x="48.7" y="138" width="6.6" height="4.2" fill="#6e6e6e"/>
<rect x="48.7" y="144.3" width="6.6" height="4.2" fill="#6e6e6e"/>
<path d="M49.5 143.2h5M52 140.8v5" stroke="#b5d334" stroke-width="0.8" fill="none"/>
<rect x="89.5" y="136" width="6.6" height="4.2" fill="#6e6e6e"/>
<rect x="89.5" y="142.3" width="6.6" height="4.2" fill="#6e6e6e"/>
<path d="M90.2 141.2h5M92.8 138.8v5" stroke="#b5d334" stroke-width="0.8" fill="none"/>
<rect x="298.4" y="144.7" width="6.6" height="4.2" fill="#6e6e6e"/>
<rect x="298.4" y="151.1" width="6.6" height="4.2" fill="#6e6e6e"/>
<path d="M299.2 150h5M301.8 147.5v5" stroke="#b5d334" stroke-width="0.8" fill="none"/>
<rect x="599.7" y="14.7" width="4.2" height="6.6" fill="#6e6e6e"/>
<rect x="606.1" y="14.7" width="4.2" height="6.6" fill="#6e6e6e"/>
<path d="M602.5 18h5M605 15.5v5" stroke="#b5d334" stroke-width="0.8" fill="none"/>
<rect x="678.4" y="14.7" width="4.2" height="6.6" fill="#6e6e6e"/>
<rect x="684.9" y="14.7" width="4.2" height="6.6" fill="#6e6e6e"/>
<path d="M681.2 18h5M683.8 15.5v5" stroke="#b5d334" stroke-width="0.8" fill="none"/>
<rect x="603.9" y="72.5" width="4.2" height="6.6" fill="#6e6e6e"/>
<rect x="610.4" y="72.5" width="4.2" height="6.6" fill="#6e6e6e"/>
<path d="M606.8 75.8h5M609.2 73.2v5" stroke="#b5d334" stroke-width="0.8" fill="none"/>
<rect x="603.9" y="84.2" width="4.2" height="6.6" fill="#6e6e6e"/>
<rect x="610.4" y="84.2" width="4.2" height="6.6" fill="#6e6e6e"/>
<path d="M606.8 87.5h5M609.2 85v5" stroke="#b5d334" stroke-width="0.8" fill="none"/>
<rect x="695.9" y="87.2" width="4.2" height="6.6" fill="#6e6e6e"/>
<rect x="702.4" y="87.2" width="4.2" height="6.6" fill="#6e6e6e"/>
<path d="M698.8 90.5h5M701.2 88v5" stroke="#b5d334" stroke-width="0.8" fill="none"/>
<rect x="695.9" y="99.2" width="4.2" height="6.6" fill="#6e6e6e"/>
<rect x="702.4" y="99.2" width="4.2" height="6.6" fill="#6e6e6e"/>
<path d="M698.8 102.5h5M701.2 100v5" stroke="#b5d334" stroke-width="0.8" fill="none"/>
<rect x="695.9" y="110.5" width="4.2" height="6.6" fill="#6e6e6e"/>
<rect x="702.4" y="110.5" width="4.2" height="6.6" fill="#6e6e6e"/>
<path d="M698.8 113.8h5M701.2 111.2v5" stroke="#b5d334" stroke-width="0.8" fill="none"/>
<rect x="385.9" y="154.9" width="4.2" height="6.6" fill="#6e6e6e"/>
<rect x="392.4" y="154.9" width="4.2" height="6.6" fill="#6e6e6e"/>
<path d="M388.8 158.2h5M391.2 155.8v5" stroke="#b5d334" stroke-width="0.8" fill="none"/>
<rect x="539" y="81" width="6.6" height="4.2" fill="#6e6e6e"/>
<rect x="539" y="87.3" width="6.6" height="4.2" fill="#6e6e6e"/>
<path d="M539.8 86.2h5M542.2 83.8v5" stroke="#b5d334" stroke-width="0.8" fill="none"/>
<rect x="549.5" y="81" width="6.6" height="4.2" fill="#6e6e6e"/>
<rect x="549.5" y="87.3" width="6.6" height="4.2" fill="#6e6e6e"/>
<path d="M550.2 86.2h5M552.8 83.8v5" stroke="#b5d334" stroke-width="0.8" fill="none"/>
<rect x="560.2" y="81" width="6.6" height="4.2" fill="#6e6e6e"/>
<rect x="560.2" y="87.3" width="6.6" height="4.2" fill="#6e6e6e"/>
<path d="M561 86.2h5M563.5 83.8v5" stroke="#b5d334" stroke-width="0.8" fill="none"/>
<rect x="783.7" y="25.7" width="4.2" height="6.6" fill="#6e6e6e"/>
<rect x="790.1" y="25.7" width="4.2" height="6.6" fill="#6e6e6e"/>
<path d="M786.5 29h5M789 26.5v5" stroke="#b5d334" stroke-width="0.8" fill="none"/>
<rect x="784.5" y="37.1" width="5.6" height="7.2" fill="#6e6e6e"/>
<rect x="793.4" y="37.1" width="5.6" height="7.2" fill="#6e6e6e"/>
<path d="M789.2 40.8h5M791.8 38.2v5" stroke="#b5d334" stroke-width="0.8" fill="none"/>
<rect x="1116.7" y="13.9" width="4.2" height="6.6" fill="#6e6e6e"/>
<rect x="1123.1" y="13.9" width="4.2" height="6.6" fill="#6e6e6e"/>
<path d="M1119.5 17.2h5M1122 14.8v5" stroke="#b5d334" stroke-width="0.8" fill="none"/>
<rect x="1138" y="13.9" width="4.2" height="6.6" fill="#6e6e6e"/>
<rect x="1144.3" y="13.9" width="4.2" height="6.6" fill="#6e6e6e"/>
<path d="M1140.8 17.2h5M1143.2 14.8v5" stroke="#b5d334" stroke-width="0.8" fill="none"/>
<rect x="1086.7" y="26.7" width="4.2" height="6.6" fill="#6e6e6e"/>
<rect x="1093.1" y="26.7" width="4.2" height="6.6" fill="#6e6e6e"/>
<path d="M1089.5 30h5M1092 27.5v5" stroke="#b5d334" stroke-width="0.8" fill="none"/>
<rect x="1108" y="26.7" width="4.2" height="6.6" fill="#6e6e6e"/>
<rect x="1114.3" y="26.7" width="4.2" height="6.6" fill="#6e6e6e"/>
<path d="M1110.8 30h5M1113.2 27.5v5" stroke="#b5d334" stroke-width="0.8" fill="none"/>
<rect x="1128" y="26.7" width="4.2" height="6.6" fill="#6e6e6e"/>
<rect x="1134.3" y="26.7" width="4.2" height="6.6" fill="#6e6e6e"/>
<path d="M1130.8 30h5M1133.2 27.5v5" stroke="#b5d334" stroke-width="0.8" fill="none"/>
<rect x="1086.7" y="38" width="4.2" height="6.6" fill="#6e6e6e"/>
<rect x="1093.1" y="38" width="4.2" height="6.6" fill="#6e6e6e"/>
<path d="M1089.5 41.2h5M1092 38.8v5" stroke="#b5d334" stroke-width="0.8" fill="none"/>
<rect x="1108" y="38" width="4.2" height="6.6" fill="#6e6e6e"/>
<rect x="1114.3" y="38" width="4.2" height="6.6" fill="#6e6e6e"/>
<path d="M1110.8 41.2h5M1113.2 38.8v5" stroke="#b5d334" stroke-width="0.8" fill="none"/>
<rect x="1128" y="38" width="4.2" height="6.6" fill="#6e6e6e"/>
<rect x="1134.3" y="38" width="4.2" height="6.6" fill="#6e6e6e"/>
<path d="M1130.8 41.2h5M1133.2 38.8v5" stroke="#b5d334" stroke-width="0.8" fill="none"/>
<rect x="1148.7" y="38" width="4.2" height="6.6" fill="#6e6e6e"/>
<rect x="1155.1" y="38" width="4.2" height="6.6" fill="#6e6e6e"/>
<path d="M1151.5 41.2h5M1154 38.8v5" stroke="#b5d334" stroke-width="0.8" fill="none"/>
<rect x="1086.7" y="50.5" width="4.2" height="6.6" fill="#6e6e6e"/>
<rect x="1093.1" y="50.5" width="4.2" height="6.6" fill="#6e6e6e"/>
<path d="M1089.5 53.8h5M1092 51.2v5" stroke="#b5d334" stroke-width="0.8" fill="none"/>
<rect x="1108" y="50.5" width="4.2" height="6.6" fill="#6e6e6e"/>
<rect x="1114.3" y="50.5" width="4.2" height="6.6" fill="#6e6e6e"/>
<path d="M1110.8 53.8h5M1113.2 51.2v5" stroke="#b5d334" stroke-width="0.8" fill="none"/>
<rect x="1086.7" y="62.7" width="4.2" height="6.6" fill="#6e6e6e"/>
<rect x="1093.1" y="62.7" width="4.2" height="6.6" fill="#6e6e6e"/>
<path d="M1089.5 66h5M1092 63.5v5" stroke="#b5d334" stroke-width="0.8" fill="none"/>
<rect x="1108" y="62.7" width="4.2" height="6.6" fill="#6e6e6e"/>
<rect x="1114.3" y="62.7" width="4.2" height="6.6" fill="#6e6e6e"/>
<path d="M1110.8 66h5M1113.2 63.5v5" stroke="#b5d334" stroke-width="0.8" fill="none"/>
<rect x="1086.7" y="73.7" width="4.2" height="6.6" fill="#6e6e6e"/>
<rect x="1093.1" y="73.7" width="4.2" height="6.6" fill="#6e6e6e"/>
<path d="M1089.5 77h5M1092 74.5v5" stroke="#b5d334" stroke-width="0.8" fill="none"/>
<rect x="64.6" y="174.1" width="6.6" height="4.2" fill="#6e6e6e"/>
<rect x="64.6" y="180.5" width="6.6" height="4.2" fill="#6e6e6e"/>
<path d="M65.4 179.4h5M67.9 176.9v5" stroke="#b5d334" stroke-width="0.8" fill="none"/>
<rect x="96.8" y="174.1" width="6.6" height="4.2" fill="#6e6e6e"/>
<rect x="96.8" y="180.5" width="6.6" height="4.2" fill="#6e6e6e"/>
<path d="M97.6 179.4h5M100.1 176.9v5" stroke="#b5d334" stroke-width="0.8" fill="none"/>
<rect x="107.9" y="174.1" width="6.6" height="4.2" fill="#6e6e6e"/>
<rect x="107.9" y="180.5" width="6.6" height="4.2" fill="#6e6e6e"/>
<path d="M108.7 179.4h5M111.2 176.9v5" stroke="#b5d334" stroke-width="0.8" fill="none"/>
<rect x="21.6" y="199.1" width="6.6" height="4.2" fill="#6e6e6e"/>
<rect x="21.6" y="205.5" width="6.6" height="4.2" fill="#6e6e6e"/>
<path d="M22.4 204.4h5M24.9 201.9v5" stroke="#b5d334" stroke-width="0.8" fill="none"/>
<rect x="26.7" y="265.4" width="6.6" height="4.2" fill="#6e6e6e"/>
<rect x="26.7" y="271.8" width="6.6" height="4.2" fill="#6e6e6e"/>
<path d="M27.5 270.7h5M30 268.2v5" stroke="#b5d334" stroke-width="0.8" fill="none"/>
<rect x="37.8" y="265.4" width="6.6" height="4.2" fill="#6e6e6e"/>
<rect x="37.8" y="271.8" width="6.6" height="4.2" fill="#6e6e6e"/>
<path d="M38.6 270.7h5M41.1 268.2v5" stroke="#b5d334" stroke-width="0.8" fill="none"/>
<rect x="97.7" y="270.2" width="6.6" height="4.2" fill="#6e6e6e"/>
<rect x="97.7" y="276.6" width="6.6" height="4.2" fill="#6e6e6e"/>
<path d="M98.5 275.5h5M101 273v5" stroke="#b5d334" stroke-width="0.8" fill="none"/>
<rect x="117.7" y="287.8" width="6.6" height="4.2" fill="#6e6e6e"/>
<rect x="117.7" y="294.2" width="6.6" height="4.2" fill="#6e6e6e"/>
<path d="M118.5 293.1h5M121 290.6v5" stroke="#b5d334" stroke-width="0.8" fill="none"/>
<rect x="100.4" y="289.5" width="7.2" height="5.6" fill="#6e6e6e"/>
<rect x="100.4" y="298.3" width="7.2" height="5.6" fill="#6e6e6e"/>
<path d="M101.5 296.7h5M104 294.2v5" stroke="#b5d334" stroke-width="0.8" fill="none"/>
<rect x="105" y="204.1" width="4.2" height="6.6" fill="#6e6e6e"/>
<rect x="111.4" y="204.1" width="4.2" height="6.6" fill="#6e6e6e"/>
<path d="M107.8 207.4h5M110.3 204.9v5" stroke="#b5d334" stroke-width="0.8" fill="none"/>
<rect x="105" y="215.1" width="4.2" height="6.6" fill="#6e6e6e"/>
<rect x="111.4" y="215.1" width="4.2" height="6.6" fill="#6e6e6e"/>
<path d="M107.8 218.4h5M110.3 215.9v5" stroke="#b5d334" stroke-width="0.8" fill="none"/>
<rect x="113.2" y="226.2" width="4.2" height="6.6" fill="#6e6e6e"/>
<rect x="119.6" y="226.2" width="4.2" height="6.6" fill="#6e6e6e"/>
<path d="M116 229.5h5M118.5 227v5" stroke="#b5d334" stroke-width="0.8" fill="none"/>
<rect x="109.3" y="247.6" width="4.2" height="6.6" fill="#6e6e6e"/>
<rect x="115.7" y="247.6" width="4.2" height="6.6" fill="#6e6e6e"/>
<path d="M112.1 250.9h5M114.6 248.4v5" stroke="#b5d334" stroke-width="0.8" fill="none"/>
<rect x="100.3" y="257.8" width="4.2" height="6.6" fill="#6e6e6e"/>
<rect x="106.7" y="257.8" width="4.2" height="6.6" fill="#6e6e6e"/>
<path d="M103.1 261.1h5M105.6 258.6v5" stroke="#b5d334" stroke-width="0.8" fill="none"/>
<rect x="20.2" y="284.7" width="4.2" height="6.6" fill="#6e6e6e"/>
<rect x="26.6" y="284.7" width="4.2" height="6.6" fill="#6e6e6e"/>
<path d="M23 288h5M25.5 285.5v5" stroke="#b5d334" stroke-width="0.8" fill="none"/>
<rect x="20.5" y="296.8" width="4.2" height="6.6" fill="#6e6e6e"/>
<rect x="26.9" y="296.8" width="4.2" height="6.6" fill="#6e6e6e"/>
<path d="M23.3 300.1h5M25.8 297.6v5" stroke="#b5d334" stroke-width="0.8" fill="none"/>
<rect x="80.1" y="296.3" width="4.2" height="6.6" fill="#6e6e6e"/>
<rect x="86.5" y="296.3" width="4.2" height="6.6" fill="#6e6e6e"/>
<path d="M82.9 299.6h5M85.4 297.1v5" stroke="#b5d334" stroke-width="0.8" fill="none"/>
<rect x="79.4" y="286.1" width="5.6" height="7.2" fill="#6e6e6e"/>
<rect x="88.2" y="286.1" width="5.6" height="7.2" fill="#6e6e6e"/>
<path d="M84.1 289.7h5M86.6 287.2v5" stroke="#b5d334" stroke-width="0.8" fill="none"/>
<rect x="46.4" y="335.9" width="6.6" height="4.2" fill="#6e6e6e"/>
<rect x="46.4" y="342.3" width="6.6" height="4.2" fill="#6e6e6e"/>
<path d="M47.2 341.2h5M49.7 338.7v5" stroke="#b5d334" stroke-width="0.8" fill="none"/>
<rect x="59.2" y="335.9" width="6.6" height="4.2" fill="#6e6e6e"/>
<rect x="59.2" y="342.3" width="6.6" height="4.2" fill="#6e6e6e"/>
<path d="M60 341.2h5M62.5 338.7v5" stroke="#b5d334" stroke-width="0.8" fill="none"/>
<rect x="71.9" y="335.9" width="6.6" height="4.2" fill="#6e6e6e"/>
<rect x="71.9" y="342.3" width="6.6" height="4.2" fill="#6e6e6e"/>
<path d="M72.7 341.2h5M75.2 338.7v5" stroke="#b5d334" stroke-width="0.8" fill="none"/>
<rect x="84.4" y="331.6" width="6.6" height="4.2" fill="#6e6e6e"/>
<rect x="84.4" y="338" width="6.6" height="4.2" fill="#6e6e6e"/>
<path d="M85.2 336.9h5M87.7 334.4v5" stroke="#b5d334" stroke-width="0.8" fill="none"/>
<rect x="96" y="335.9" width="6.6" height="4.2" fill="#6e6e6e"/>
<rect x="96" y="342.3" width="6.6" height="4.2" fill="#6e6e6e"/>
<path d="M96.8 341.2h5M99.3 338.7v5" stroke="#b5d334" stroke-width="0.8" fill="none"/>
<rect x="108.4" y="336.7" width="6.6" height="4.2" fill="#6e6e6e"/>
<rect x="108.4" y="343.1" width="6.6" height="4.2" fill="#6e6e6e"/>
<path d="M109.2 342h5M111.7 339.5v5" stroke="#b5d334" stroke-width="0.8" fill="none"/>
<rect x="121.4" y="335.9" width="6.6" height="4.2" fill="#6e6e6e"/>
<rect x="121.4" y="342.3" width="6.6" height="4.2" fill="#6e6e6e"/>
<path d="M122.2 341.2h5M124.7 338.7v5" stroke="#b5d334" stroke-width="0.8" fill="none"/>
<rect x="272.7" y="184.4" width="4.2" height="6.6" fill="#6e6e6e"/>
<rect x="279.1" y="184.4" width="4.2" height="6.6" fill="#6e6e6e"/>
<path d="M275.5 187.8h5M278 185.2v5" stroke="#b5d334" stroke-width="0.8" fill="none"/>
<rect x="272.7" y="197.9" width="4.2" height="6.6" fill="#6e6e6e"/>
<rect x="279.1" y="197.9" width="4.2" height="6.6" fill="#6e6e6e"/>
<path d="M275.5 201.2h5M278 198.8v5" stroke="#b5d334" stroke-width="0.8" fill="none"/>
<rect x="270.9" y="225.7" width="4.2" height="6.6" fill="#6e6e6e"/>
<rect x="277.4" y="225.7" width="4.2" height="6.6" fill="#6e6e6e"/>
<path d="M273.8 229h5M276.2 226.5v5" stroke="#b5d334" stroke-width="0.8" fill="none"/>
<rect x="271.7" y="285.4" width="4.2" height="6.6" fill="#6e6e6e"/>
<rect x="278.1" y="285.4" width="4.2" height="6.6" fill="#6e6e6e"/>
<path d="M274.5 288.8h5M277 286.2v5" stroke="#b5d334" stroke-width="0.8" fill="none"/>
<rect x="271.7" y="296.2" width="4.2" height="6.6" fill="#6e6e6e"/>
<rect x="278.1" y="296.2" width="4.2" height="6.6" fill="#6e6e6e"/>
<path d="M274.5 299.5h5M277 297v5" stroke="#b5d334" stroke-width="0.8" fill="none"/>
<rect x="335.9" y="315.4" width="4.2" height="6.6" fill="#6e6e6e"/>
<rect x="342.4" y="315.4" width="4.2" height="6.6" fill="#6e6e6e"/>
<path d="M338.8 318.8h5M341.2 316.2v5" stroke="#b5d334" stroke-width="0.8" fill="none"/>
<rect x="335.9" y="329.4" width="4.2" height="6.6" fill="#6e6e6e"/>
<rect x="342.4" y="329.4" width="4.2" height="6.6" fill="#6e6e6e"/>
<path d="M338.8 332.8h5M341.2 330.2v5" stroke="#b5d334" stroke-width="0.8" fill="none"/>
<rect x="335.9" y="340.7" width="4.2" height="6.6" fill="#6e6e6e"/>
<rect x="342.4" y="340.7" width="4.2" height="6.6" fill="#6e6e6e"/>
<path d="M338.8 344h5M341.2 341.5v5" stroke="#b5d334" stroke-width="0.8" fill="none"/>
<rect x="358.9" y="225.4" width="4.2" height="6.6" fill="#6e6e6e"/>
<rect x="365.4" y="225.4" width="4.2" height="6.6" fill="#6e6e6e"/>
<path d="M361.8 228.8h5M364.2 226.2v5" stroke="#b5d334" stroke-width="0.8" fill="none"/>
<rect x="462.7" y="233.7" width="4.2" height="6.6" fill="#6e6e6e"/>
<rect x="469.1" y="233.7" width="4.2" height="6.6" fill="#6e6e6e"/>
<path d="M465.5 237h5M468 234.5v5" stroke="#b5d334" stroke-width="0.8" fill="none"/>
<rect x="540.7" y="199.2" width="4.2" height="6.6" fill="#6e6e6e"/>
<rect x="547.1" y="199.2" width="4.2" height="6.6" fill="#6e6e6e"/>
<path d="M543.5 202.5h5M546 200v5" stroke="#b5d334" stroke-width="0.8" fill="none"/>
<rect x="619.4" y="199.2" width="4.2" height="6.6" fill="#6e6e6e"/>
<rect x="625.9" y="199.2" width="4.2" height="6.6" fill="#6e6e6e"/>
<path d="M622.2 202.5h5M624.8 200v5" stroke="#b5d334" stroke-width="0.8" fill="none"/>
<rect x="545.2" y="253.2" width="4.2" height="6.6" fill="#6e6e6e"/>
<rect x="551.6" y="253.2" width="4.2" height="6.6" fill="#6e6e6e"/>
<path d="M548 256.5h5M550.5 254v5" stroke="#b5d334" stroke-width="0.8" fill="none"/>
<rect x="545.2" y="265.4" width="4.2" height="6.6" fill="#6e6e6e"/>
<rect x="551.6" y="265.4" width="4.2" height="6.6" fill="#6e6e6e"/>
<path d="M548 268.8h5M550.5 266.2v5" stroke="#b5d334" stroke-width="0.8" fill="none"/>
<rect x="625.9" y="249.2" width="4.2" height="6.6" fill="#6e6e6e"/>
<rect x="632.4" y="249.2" width="4.2" height="6.6" fill="#6e6e6e"/>
<path d="M628.8 252.5h5M631.2 250v5" stroke="#b5d334" stroke-width="0.8" fill="none"/>
<rect x="628.4" y="275.7" width="4.2" height="6.6" fill="#6e6e6e"/>
<rect x="634.9" y="275.7" width="4.2" height="6.6" fill="#6e6e6e"/>
<path d="M631.2 279h5M633.8 276.5v5" stroke="#b5d334" stroke-width="0.8" fill="none"/>
<rect x="628.4" y="287.4" width="4.2" height="6.6" fill="#6e6e6e"/>
<rect x="634.9" y="287.4" width="4.2" height="6.6" fill="#6e6e6e"/>
<path d="M631.2 290.8h5M633.8 288.2v5" stroke="#b5d334" stroke-width="0.8" fill="none"/>
<rect x="603.2" y="287.7" width="4.2" height="6.6" fill="#6e6e6e"/>
<rect x="609.6" y="287.7" width="4.2" height="6.6" fill="#6e6e6e"/>
<path d="M606 291h5M608.5 288.5v5" stroke="#b5d334" stroke-width="0.8" fill="none"/>
<rect x="357.7" y="286.2" width="4.2" height="6.6" fill="#6e6e6e"/>
<rect x="364.1" y="286.2" width="4.2" height="6.6" fill="#6e6e6e"/>
<path d="M360.5 289.5h5M363 287v5" stroke="#b5d334" stroke-width="0.8" fill="none"/>
<rect x="357.7" y="297.4" width="4.2" height="6.6" fill="#6e6e6e"/>
<rect x="364.1" y="297.4" width="4.2" height="6.6" fill="#6e6e6e"/>
<path d="M360.5 300.8h5M363 298.2v5" stroke="#b5d334" stroke-width="0.8" fill="none"/>
<rect x="357.7" y="307.9" width="4.2" height="6.6" fill="#6e6e6e"/>
<rect x="364.1" y="307.9" width="4.2" height="6.6" fill="#6e6e6e"/>
<path d="M360.5 311.2h5M363 308.8v5" stroke="#b5d334" stroke-width="0.8" fill="none"/>
<rect x="355.7" y="329.9" width="4.2" height="6.6" fill="#6e6e6e"/>
<rect x="362.1" y="329.9" width="4.2" height="6.6" fill="#6e6e6e"/>
<path d="M358.5 333.2h5M361 330.8v5" stroke="#b5d334" stroke-width="0.8" fill="none"/>
<rect x="258.6" y="456.9" width="4.2" height="6.6" fill="#6e6e6e"/>
<rect x="265" y="456.9" width="4.2" height="6.6" fill="#6e6e6e"/>
<path d="M261.4 460.2h5M263.9 457.7v5" stroke="#b5d334" stroke-width="0.8" fill="none"/>
<rect x="258.6" y="466.8" width="4.2" height="6.6" fill="#6e6e6e"/>
<rect x="265" y="466.8" width="4.2" height="6.6" fill="#6e6e6e"/>
<path d="M261.4 470.1h5M263.9 467.6v5" stroke="#b5d334" stroke-width="0.8" fill="none"/>
<rect x="326.5" y="491.2" width="4.2" height="6.6" fill="#6e6e6e"/>
<rect x="332.9" y="491.2" width="4.2" height="6.6" fill="#6e6e6e"/>
<path d="M329.3 494.5h5M331.8 492v5" stroke="#b5d334" stroke-width="0.8" fill="none"/>
<rect x="326.8" y="506" width="4.2" height="6.6" fill="#6e6e6e"/>
<rect x="333.2" y="506" width="4.2" height="6.6" fill="#6e6e6e"/>
<path d="M329.6 509.3h5M332.1 506.8v5" stroke="#b5d334" stroke-width="0.8" fill="none"/>
<rect x="287.3" y="510.3" width="4.2" height="6.6" fill="#6e6e6e"/>
<rect x="293.7" y="510.3" width="4.2" height="6.6" fill="#6e6e6e"/>
<path d="M290.1 513.6h5M292.6 511.1v5" stroke="#b5d334" stroke-width="0.8" fill="none"/>
<rect x="287.3" y="523.7" width="4.2" height="6.6" fill="#6e6e6e"/>
<rect x="293.7" y="523.7" width="4.2" height="6.6" fill="#6e6e6e"/>
<path d="M290.1 527h5M292.6 524.5v5" stroke="#b5d334" stroke-width="0.8" fill="none"/>
<rect x="48" y="402.9" width="6.6" height="4.2" fill="#6e6e6e"/>
<rect x="48" y="409.4" width="6.6" height="4.2" fill="#6e6e6e"/>
<path d="M48.8 408.2h5M51.2 405.8v5" stroke="#b5d334" stroke-width="0.8" fill="none"/>
<rect x="60.2" y="402.9" width="6.6" height="4.2" fill="#6e6e6e"/>
<rect x="60.2" y="409.4" width="6.6" height="4.2" fill="#6e6e6e"/>
<path d="M61 408.2h5M63.5 405.8v5" stroke="#b5d334" stroke-width="0.8" fill="none"/>
<rect x="72.7" y="402.9" width="6.6" height="4.2" fill="#6e6e6e"/>
<rect x="72.7" y="409.4" width="6.6" height="4.2" fill="#6e6e6e"/>
<path d="M73.5 408.2h5M76 405.8v5" stroke="#b5d334" stroke-width="0.8" fill="none"/>
<rect x="40" y="486.9" width="6.6" height="4.2" fill="#6e6e6e"/>
<rect x="40" y="493.4" width="6.6" height="4.2" fill="#6e6e6e"/>
<path d="M40.8 492.2h5M43.2 489.8v5" stroke="#b5d334" stroke-width="0.8" fill="none"/>
<rect x="52.2" y="495.7" width="6.6" height="4.2" fill="#6e6e6e"/>
<rect x="52.2" y="502.1" width="6.6" height="4.2" fill="#6e6e6e"/>
<path d="M53 501h5M55.5 498.5v5" stroke="#b5d334" stroke-width="0.8" fill="none"/>
<rect x="65.7" y="495.7" width="6.6" height="4.2" fill="#6e6e6e"/>
<rect x="65.7" y="502.1" width="6.6" height="4.2" fill="#6e6e6e"/>
<path d="M66.5 501h5M69 498.5v5" stroke="#b5d334" stroke-width="0.8" fill="none"/>
<rect x="79.2" y="498.7" width="6.6" height="4.2" fill="#6e6e6e"/>
<rect x="79.2" y="505.1" width="6.6" height="4.2" fill="#6e6e6e"/>
<path d="M80 504h5M82.5 501.5v5" stroke="#b5d334" stroke-width="0.8" fill="none"/>
<rect x="163.7" y="496.2" width="6.6" height="4.2" fill="#6e6e6e"/>
<rect x="163.7" y="502.6" width="6.6" height="4.2" fill="#6e6e6e"/>
<path d="M164.5 501.5h5M167 499v5" stroke="#b5d334" stroke-width="0.8" fill="none"/>
<rect x="115.5" y="354.9" width="4.2" height="6.6" fill="#6e6e6e"/>
<rect x="121.8" y="354.9" width="4.2" height="6.6" fill="#6e6e6e"/>
<path d="M118.2 358.2h5M120.8 355.8v5" stroke="#b5d334" stroke-width="0.8" fill="none"/>
<rect x="112.7" y="416.4" width="4.2" height="6.6" fill="#6e6e6e"/>
<rect x="119.1" y="416.4" width="4.2" height="6.6" fill="#6e6e6e"/>
<path d="M115.5 419.8h5M118 417.2v5" stroke="#b5d334" stroke-width="0.8" fill="none"/>
<rect x="262.7" y="406.9" width="4.2" height="6.6" fill="#6e6e6e"/>
<rect x="269.1" y="406.9" width="4.2" height="6.6" fill="#6e6e6e"/>
<path d="M265.5 410.2h5M268 407.8v5" stroke="#b5d334" stroke-width="0.8" fill="none"/>
<rect x="345.9" y="406.2" width="4.2" height="6.6" fill="#6e6e6e"/>
<rect x="352.4" y="406.2" width="4.2" height="6.6" fill="#6e6e6e"/>
<path d="M348.8 409.5h5M351.2 407v5" stroke="#b5d334" stroke-width="0.8" fill="none"/>
<rect x="144.7" y="515.7" width="4.2" height="6.6" fill="#6e6e6e"/>
<rect x="151.1" y="515.7" width="4.2" height="6.6" fill="#6e6e6e"/>
<path d="M147.5 519h5M150 516.5v5" stroke="#b5d334" stroke-width="0.8" fill="none"/>
<rect x="389.2" y="430.7" width="6.6" height="4.2" fill="#6e6e6e"/>
<rect x="389.2" y="437.1" width="6.6" height="4.2" fill="#6e6e6e"/>
<path d="M390 436h5M392.5 433.5v5" stroke="#b5d334" stroke-width="0.8" fill="none"/>
<rect x="649" y="483.2" width="6.6" height="4.2" fill="#6e6e6e"/>
<rect x="649" y="489.6" width="6.6" height="4.2" fill="#6e6e6e"/>
<path d="M649.8 488.5h5M652.2 486v5" stroke="#b5d334" stroke-width="0.8" fill="none"/>
<rect x="663" y="483.2" width="6.6" height="4.2" fill="#6e6e6e"/>
<rect x="663" y="489.6" width="6.6" height="4.2" fill="#6e6e6e"/>
<path d="M663.8 488.5h5M666.2 486v5" stroke="#b5d334" stroke-width="0.8" fill="none"/>
<rect x="676.5" y="483.2" width="6.6" height="4.2" fill="#6e6e6e"/>
<rect x="676.5" y="489.6" width="6.6" height="4.2" fill="#6e6e6e"/>
<path d="M677.2 488.5h5M679.8 486v5" stroke="#b5d334" stroke-width="0.8" fill="none"/>
<rect x="626.5" y="506.2" width="6.6" height="4.2" fill="#6e6e6e"/>
<rect x="626.5" y="512.6" width="6.6" height="4.2" fill="#6e6e6e"/>
<path d="M627.2 511.5h5M629.8 509v5" stroke="#b5d334" stroke-width="0.8" fill="none"/>
<rect x="636.7" y="506.2" width="6.6" height="4.2" fill="#6e6e6e"/>
<rect x="636.7" y="512.6" width="6.6" height="4.2" fill="#6e6e6e"/>
<path d="M637.5 511.5h5M640 509v5" stroke="#b5d334" stroke-width="0.8" fill="none"/>
<rect x="649" y="506.2" width="6.6" height="4.2" fill="#6e6e6e"/>
<rect x="649" y="512.6" width="6.6" height="4.2" fill="#6e6e6e"/>
<path d="M649.8 511.5h5M652.2 509v5" stroke="#b5d334" stroke-width="0.8" fill="none"/>
<rect x="429.4" y="456.4" width="4.2" height="6.6" fill="#6e6e6e"/>
<rect x="435.9" y="456.4" width="4.2" height="6.6" fill="#6e6e6e"/>
<path d="M432.2 459.8h5M434.8 457.2v5" stroke="#b5d334" stroke-width="0.8" fill="none"/>
<rect x="520.9" y="443.2" width="4.2" height="6.6" fill="#6e6e6e"/>
<rect x="527.4" y="443.2" width="4.2" height="6.6" fill="#6e6e6e"/>
<path d="M523.8 446.5h5M526.2 444v5" stroke="#b5d334" stroke-width="0.8" fill="none"/>
<rect x="602.2" y="442.7" width="4.2" height="6.6" fill="#6e6e6e"/>
<rect x="608.6" y="442.7" width="4.2" height="6.6" fill="#6e6e6e"/>
<path d="M605 446h5M607.5 443.5v5" stroke="#b5d334" stroke-width="0.8" fill="none"/>
<rect x="519.4" y="493.2" width="4.2" height="6.6" fill="#6e6e6e"/>
<rect x="525.9" y="493.2" width="4.2" height="6.6" fill="#6e6e6e"/>
<path d="M522.2 496.5h5M524.8 494v5" stroke="#b5d334" stroke-width="0.8" fill="none"/>
<rect x="519.4" y="502.4" width="4.2" height="6.6" fill="#6e6e6e"/>
<rect x="525.9" y="502.4" width="4.2" height="6.6" fill="#6e6e6e"/>
<path d="M522.2 505.8h5M524.8 503.2v5" stroke="#b5d334" stroke-width="0.8" fill="none"/>
<rect x="887" y="394.9" width="6.6" height="4.2" fill="#6e6e6e"/>
<rect x="887" y="401.4" width="6.6" height="4.2" fill="#6e6e6e"/>
<path d="M887.8 400.2h5M890.2 397.8v5" stroke="#b5d334" stroke-width="0.8" fill="none"/>
<rect x="882.5" y="508.7" width="6.6" height="4.2" fill="#6e6e6e"/>
<rect x="882.5" y="515.1" width="6.6" height="4.2" fill="#6e6e6e"/>
<path d="M883.2 514h5M885.8 511.5v5" stroke="#b5d334" stroke-width="0.8" fill="none"/>
<rect x="1215" y="420.7" width="6.6" height="4.2" fill="#6e6e6e"/>
<rect x="1215" y="427.1" width="6.6" height="4.2" fill="#6e6e6e"/>
<path d="M1215.8 426h5M1218.2 423.5v5" stroke="#b5d334" stroke-width="0.8" fill="none"/>
<rect x="1226.5" y="420.2" width="6.6" height="4.2" fill="#6e6e6e"/>
<rect x="1226.5" y="426.6" width="6.6" height="4.2" fill="#6e6e6e"/>
<path d="M1227.2 425.5h5M1229.8 423v5" stroke="#b5d334" stroke-width="0.8" fill="none"/>
<rect x="1218" y="437.7" width="4.2" height="6.6" fill="#6e6e6e"/>
<rect x="1224.3" y="437.7" width="4.2" height="6.6" fill="#6e6e6e"/>
<path d="M1220.8 441h5M1223.2 438.5v5" stroke="#b5d334" stroke-width="0.8" fill="none"/>
<rect x="112.2" y="532.2" width="6.6" height="4.2" fill="#6e6e6e"/>
<rect x="112.2" y="538.6" width="6.6" height="4.2" fill="#6e6e6e"/>
<path d="M113 537.5h5M115.5 535v5" stroke="#b5d334" stroke-width="0.8" fill="none"/>
<rect x="138.4" y="532.2" width="6.6" height="4.2" fill="#6e6e6e"/>
<rect x="138.4" y="538.6" width="6.6" height="4.2" fill="#6e6e6e"/>
<path d="M139.2 537.5h5M141.8 535v5" stroke="#b5d334" stroke-width="0.8" fill="none"/>
<rect x="50.2" y="620.4" width="6.6" height="4.2" fill="#6e6e6e"/>
<rect x="50.2" y="626.9" width="6.6" height="4.2" fill="#6e6e6e"/>
<path d="M51 625.8h5M53.5 623.2v5" stroke="#b5d334" stroke-width="0.8" fill="none"/>
<rect x="68.7" y="620.4" width="6.6" height="4.2" fill="#6e6e6e"/>
<rect x="68.7" y="626.9" width="6.6" height="4.2" fill="#6e6e6e"/>
<path d="M69.5 625.8h5M72 623.2v5" stroke="#b5d334" stroke-width="0.8" fill="none"/>
<rect x="85" y="620.4" width="6.6" height="4.2" fill="#6e6e6e"/>
<rect x="85" y="626.9" width="6.6" height="4.2" fill="#6e6e6e"/>
<path d="M85.8 625.8h5M88.2 623.2v5" stroke="#b5d334" stroke-width="0.8" fill="none"/>
<rect x="309.9" y="670.2" width="6.6" height="4.2" fill="#6e6e6e"/>
<rect x="309.9" y="676.6" width="6.6" height="4.2" fill="#6e6e6e"/>
<path d="M310.8 675.5h5M313.2 673v5" stroke="#b5d334" stroke-width="0.8" fill="none"/>
<rect x="323.4" y="670.2" width="6.6" height="4.2" fill="#6e6e6e"/>
<rect x="323.4" y="676.6" width="6.6" height="4.2" fill="#6e6e6e"/>
<path d="M324.2 675.5h5M326.8 673v5" stroke="#b5d334" stroke-width="0.8" fill="none"/>
<rect x="335.9" y="639.7" width="6.6" height="4.2" fill="#6e6e6e"/>
<rect x="335.9" y="646.1" width="6.6" height="4.2" fill="#6e6e6e"/>
<path d="M336.8 645h5M339.2 642.5v5" stroke="#b5d334" stroke-width="0.8" fill="none"/>
<rect x="335.9" y="660.9" width="6.6" height="4.2" fill="#6e6e6e"/>
<rect x="335.9" y="667.4" width="6.6" height="4.2" fill="#6e6e6e"/>
<path d="M336.8 666.2h5M339.2 663.8v5" stroke="#b5d334" stroke-width="0.8" fill="none"/>
<rect x="347.4" y="652.2" width="6.6" height="4.2" fill="#6e6e6e"/>
<rect x="347.4" y="658.6" width="6.6" height="4.2" fill="#6e6e6e"/>
<path d="M348.2 657.5h5M350.8 655v5" stroke="#b5d334" stroke-width="0.8" fill="none"/>
<rect x="141" y="616.7" width="4.2" height="6.6" fill="#6e6e6e"/>
<rect x="147.3" y="616.7" width="4.2" height="6.6" fill="#6e6e6e"/>
<path d="M143.8 620h5M146.2 617.5v5" stroke="#b5d334" stroke-width="0.8" fill="none"/>
<rect x="131.7" y="632.5" width="4.2" height="6.6" fill="#6e6e6e"/>
<rect x="138.1" y="632.5" width="4.2" height="6.6" fill="#6e6e6e"/>
<path d="M134.5 635.8h5M137 633.2v5" stroke="#b5d334" stroke-width="0.8" fill="none"/>
<rect x="204" y="605.7" width="4.2" height="6.6" fill="#6e6e6e"/>
<rect x="210.3" y="605.7" width="4.2" height="6.6" fill="#6e6e6e"/>
<path d="M206.8 609h5M209.2 606.5v5" stroke="#b5d334" stroke-width="0.8" fill="none"/>
<rect x="283.4" y="605.2" width="4.2" height="6.6" fill="#6e6e6e"/>
<rect x="289.9" y="605.2" width="4.2" height="6.6" fill="#6e6e6e"/>
<path d="M286.2 608.5h5M288.8 606v5" stroke="#b5d334" stroke-width="0.8" fill="none"/>
<rect x="198.5" y="655" width="4.2" height="6.6" fill="#6e6e6e"/>
<rect x="204.8" y="655" width="4.2" height="6.6" fill="#6e6e6e"/>
<path d="M201.2 658.2h5M203.8 655.8v5" stroke="#b5d334" stroke-width="0.8" fill="none"/>
<rect x="198.5" y="664.7" width="4.2" height="6.6" fill="#6e6e6e"/>
<rect x="204.8" y="664.7" width="4.2" height="6.6" fill="#6e6e6e"/>
<path d="M201.2 668h5M203.8 665.5v5" stroke="#b5d334" stroke-width="0.8" fill="none"/>
<rect x="575.9" y="601.7" width="4.2" height="6.6" fill="#6e6e6e"/>
<rect x="582.4" y="601.7" width="4.2" height="6.6" fill="#6e6e6e"/>
<path d="M578.8 605h5M581.2 602.5v5" stroke="#b5d334" stroke-width="0.8" fill="none"/>
<rect x="657.2" y="601.7" width="4.2" height="6.6" fill="#6e6e6e"/>
<rect x="663.6" y="601.7" width="4.2" height="6.6" fill="#6e6e6e"/>
<path d="M660 605h5M662.5 602.5v5" stroke="#b5d334" stroke-width="0.8" fill="none"/>
<rect x="569.2" y="659.2" width="4.2" height="6.6" fill="#6e6e6e"/>
<rect x="575.6" y="659.2" width="4.2" height="6.6" fill="#6e6e6e"/>
<path d="M572 662.5h5M574.5 660v5" stroke="#b5d334" stroke-width="0.8" fill="none"/>
<rect x="569.2" y="670" width="4.2" height="6.6" fill="#6e6e6e"/>
<rect x="575.6" y="670" width="4.2" height="6.6" fill="#6e6e6e"/>
<path d="M572 673.2h5M574.5 670.8v5" stroke="#b5d334" stroke-width="0.8" fill="none"/>
<rect x="355.2" y="539.2" width="4.2" height="6.6" fill="#6e6e6e"/>
<rect x="361.6" y="539.2" width="4.2" height="6.6" fill="#6e6e6e"/>
<path d="M358 542.5h5M360.5 540v5" stroke="#b5d334" stroke-width="0.8" fill="none"/>
<rect x="711" y="673.4" width="6.6" height="4.2" fill="#6e6e6e"/>
<rect x="711" y="679.9" width="6.6" height="4.2" fill="#6e6e6e"/>
<path d="M711.8 678.8h5M714.2 676.2v5" stroke="#b5d334" stroke-width="0.8" fill="none"/>
<rect x="871.2" y="557.5" width="4.2" height="6.6" fill="#6e6e6e"/>
<rect x="877.6" y="557.5" width="4.2" height="6.6" fill="#6e6e6e"/>
<path d="M874 560.8h5M876.5 558.2v5" stroke="#b5d334" stroke-width="0.8" fill="none"/>
<rect x="871.2" y="568.2" width="4.2" height="6.6" fill="#6e6e6e"/>
<rect x="877.6" y="568.2" width="4.2" height="6.6" fill="#6e6e6e"/>
<path d="M874 571.5h5M876.5 569v5" stroke="#b5d334" stroke-width="0.8" fill="none"/>
<rect x="871.2" y="579.7" width="4.2" height="6.6" fill="#6e6e6e"/>
<rect x="877.6" y="579.7" width="4.2" height="6.6" fill="#6e6e6e"/>
<path d="M874 583h5M876.5 580.5v5" stroke="#b5d334" stroke-width="0.8" fill="none"/>
<rect x="871.2" y="590.5" width="4.2" height="6.6" fill="#6e6e6e"/>
<rect x="877.6" y="590.5" width="4.2" height="6.6" fill="#6e6e6e"/>
<path d="M874 593.8h5M876.5 591.2v5" stroke="#b5d334" stroke-width="0.8" fill="none"/>
<rect x="871.2" y="601" width="4.2" height="6.6" fill="#6e6e6e"/>
<rect x="877.6" y="601" width="4.2" height="6.6" fill="#6e6e6e"/>
<path d="M874 604.2h5M876.5 601.8v5" stroke="#b5d334" stroke-width="0.8" fill="none"/>
<rect x="871.2" y="613" width="4.2" height="6.6" fill="#6e6e6e"/>
<rect x="877.6" y="613" width="4.2" height="6.6" fill="#6e6e6e"/>
<path d="M874 616.2h5M876.5 613.8v5" stroke="#b5d334" stroke-width="0.8" fill="none"/>
<rect x="871.2" y="627.2" width="4.2" height="6.6" fill="#6e6e6e"/>
<rect x="877.6" y="627.2" width="4.2" height="6.6" fill="#6e6e6e"/>
<path d="M874 630.5h5M876.5 628v5" stroke="#b5d334" stroke-width="0.8" fill="none"/>
<rect x="926.2" y="573.5" width="4.2" height="6.6" fill="#6e6e6e"/>
<rect x="932.6" y="573.5" width="4.2" height="6.6" fill="#6e6e6e"/>
<path d="M929 576.8h5M931.5 574.2v5" stroke="#b5d334" stroke-width="0.8" fill="none"/>
<rect x="913.7" y="635.5" width="4.2" height="6.6" fill="#6e6e6e"/>
<rect x="920.1" y="635.5" width="4.2" height="6.6" fill="#6e6e6e"/>
<path d="M916.5 638.8h5M919 636.2v5" stroke="#b5d334" stroke-width="0.8" fill="none"/>
<rect x="935.2" y="635.5" width="4.2" height="6.6" fill="#6e6e6e"/>
<rect x="941.6" y="635.5" width="4.2" height="6.6" fill="#6e6e6e"/>
<path d="M938 638.8h5M940.5 636.2v5" stroke="#b5d334" stroke-width="0.8" fill="none"/>
<rect x="922.7" y="648.5" width="4.2" height="6.6" fill="#6e6e6e"/>
<rect x="929.1" y="648.5" width="4.2" height="6.6" fill="#6e6e6e"/>
<path d="M925.5 651.8h5M928 649.2v5" stroke="#b5d334" stroke-width="0.8" fill="none"/>
<rect x="1017.7" y="548.5" width="4.2" height="6.6" fill="#6e6e6e"/>
<rect x="1024.1" y="548.5" width="4.2" height="6.6" fill="#6e6e6e"/>
<path d="M1020.5 551.8h5M1023 549.2v5" stroke="#b5d334" stroke-width="0.8" fill="none"/>
<rect x="1057.7" y="570.5" width="4.2" height="6.6" fill="#6e6e6e"/>
<rect x="1064.1" y="570.5" width="4.2" height="6.6" fill="#6e6e6e"/>
<path d="M1060.5 573.8h5M1063 571.2v5" stroke="#b5d334" stroke-width="0.8" fill="none"/>
<rect x="1052.7" y="595" width="4.2" height="6.6" fill="#6e6e6e"/>
<rect x="1059.1" y="595" width="4.2" height="6.6" fill="#6e6e6e"/>
<path d="M1055.5 598.2h5M1058 595.8v5" stroke="#b5d334" stroke-width="0.8" fill="none"/>
<rect x="1035" y="612.2" width="4.2" height="6.6" fill="#6e6e6e"/>
<rect x="1041.3" y="612.2" width="4.2" height="6.6" fill="#6e6e6e"/>
<path d="M1037.8 615.5h5M1040.2 613v5" stroke="#b5d334" stroke-width="0.8" fill="none"/>
<rect x="1022" y="654.2" width="4.2" height="6.6" fill="#6e6e6e"/>
<rect x="1028.3" y="654.2" width="4.2" height="6.6" fill="#6e6e6e"/>
<path d="M1024.8 657.5h5M1027.2 655v5" stroke="#b5d334" stroke-width="0.8" fill="none"/>
<rect x="731.2" y="639.2" width="4.2" height="6.6" fill="#6e6e6e"/>
<rect x="737.6" y="639.2" width="4.2" height="6.6" fill="#6e6e6e"/>
<path d="M734 642.5h5M736.5 640v5" stroke="#b5d334" stroke-width="0.8" fill="none"/>
<rect x="925" y="608.9" width="5.6" height="7.2" fill="#6e6e6e"/>
<rect x="933.9" y="608.9" width="5.6" height="7.2" fill="#6e6e6e"/>
<path d="M929.8 612.5h5M932.2 610v5" stroke="#b5d334" stroke-width="0.8" fill="none"/>
<rect x="911.1" y="608.5" width="7.2" height="5.6" fill="#6e6e6e"/>
<rect x="911.1" y="617.4" width="7.2" height="5.6" fill="#6e6e6e"/>
<path d="M912.2 615.8h5M914.8 613.2v5" stroke="#b5d334" stroke-width="0.8" fill="none"/>
<rect x="852.7" y="615.2" width="6.6" height="4.2" fill="#6e6e6e"/>
<rect x="852.7" y="621.6" width="6.6" height="4.2" fill="#6e6e6e"/>
<path d="M853.5 620.5h5M856 618v5" stroke="#b5d334" stroke-width="0.8" fill="none"/>
<rect x="899" y="617.2" width="6.6" height="4.2" fill="#6e6e6e"/>
<rect x="899" y="623.6" width="6.6" height="4.2" fill="#6e6e6e"/>
<path d="M899.8 622.5h5M902.2 620v5" stroke="#b5d334" stroke-width="0.8" fill="none"/>
<rect x="1029.2" y="635.9" width="6.6" height="4.2" fill="#6e6e6e"/>
<rect x="1029.2" y="642.4" width="6.6" height="4.2" fill="#6e6e6e"/>
<path d="M1030 641.2h5M1032.5 638.8v5" stroke="#b5d334" stroke-width="0.8" fill="none"/>
<rect x="1043.2" y="635.9" width="6.6" height="4.2" fill="#6e6e6e"/>
<rect x="1043.2" y="642.4" width="6.6" height="4.2" fill="#6e6e6e"/>
<path d="M1044 641.2h5M1046.5 638.8v5" stroke="#b5d334" stroke-width="0.8" fill="none"/>
<rect x="752.7" y="641.4" width="6.6" height="4.2" fill="#6e6e6e"/>
<rect x="752.7" y="647.9" width="6.6" height="4.2" fill="#6e6e6e"/>
<path d="M753.5 646.8h5M756 644.2v5" stroke="#b5d334" stroke-width="0.8" fill="none"/>
<rect x="737.2" y="653.9" width="6.6" height="4.2" fill="#6e6e6e"/>
<rect x="737.2" y="660.4" width="6.6" height="4.2" fill="#6e6e6e"/>
<path d="M738 659.2h5M740.5 656.8v5" stroke="#b5d334" stroke-width="0.8" fill="none"/>
<rect x="737.2" y="673.9" width="6.6" height="4.2" fill="#6e6e6e"/>
<rect x="737.2" y="680.4" width="6.6" height="4.2" fill="#6e6e6e"/>
<path d="M738 679.2h5M740.5 676.8v5" stroke="#b5d334" stroke-width="0.8" fill="none"/>
<rect x="725.2" y="673.9" width="6.6" height="4.2" fill="#6e6e6e"/>
<rect x="725.2" y="680.4" width="6.6" height="4.2" fill="#6e6e6e"/>
<path d="M726 679.2h5M728.5 676.8v5" stroke="#b5d334" stroke-width="0.8" fill="none"/>
<rect x="712.7" y="673.9" width="6.6" height="4.2" fill="#6e6e6e"/>
<rect x="712.7" y="680.4" width="6.6" height="4.2" fill="#6e6e6e"/>
<path d="M713.5 679.2h5M716 676.8v5" stroke="#b5d334" stroke-width="0.8" fill="none"/>
<rect x="1091.2" y="571" width="4.2" height="6.6" fill="#6e6e6e"/>
<rect x="1097.6" y="571" width="4.2" height="6.6" fill="#6e6e6e"/>
<path d="M1094 574.2h5M1096.5 571.8v5" stroke="#b5d334" stroke-width="0.8" fill="none"/>
<rect x="1091.2" y="584" width="4.2" height="6.6" fill="#6e6e6e"/>
<rect x="1097.6" y="584" width="4.2" height="6.6" fill="#6e6e6e"/>
<path d="M1094 587.2h5M1096.5 584.8v5" stroke="#b5d334" stroke-width="0.8" fill="none"/>
<rect x="1091.2" y="595" width="4.2" height="6.6" fill="#6e6e6e"/>
<rect x="1097.6" y="595" width="4.2" height="6.6" fill="#6e6e6e"/>
<path d="M1094 598.2h5M1096.5 595.8v5" stroke="#b5d334" stroke-width="0.8" fill="none"/>
<rect x="1091.2" y="608" width="4.2" height="6.6" fill="#6e6e6e"/>
<rect x="1097.6" y="608" width="4.2" height="6.6" fill="#6e6e6e"/>
<path d="M1094 611.2h5M1096.5 608.8v5" stroke="#b5d334" stroke-width="0.8" fill="none"/>
<rect x="1260.7" y="547.5" width="4.2" height="6.6" fill="#6e6e6e"/>
<rect x="1267.1" y="547.5" width="4.2" height="6.6" fill="#6e6e6e"/>
<path d="M1263.5 550.8h5M1266 548.2v5" stroke="#b5d334" stroke-width="0.8" fill="none"/>
<rect x="1288" y="611.7" width="4.2" height="6.6" fill="#6e6e6e"/>
<rect x="1294.3" y="611.7" width="4.2" height="6.6" fill="#6e6e6e"/>
<path d="M1290.8 615h5M1293.2 612.5v5" stroke="#b5d334" stroke-width="0.8" fill="none"/>
<rect x="1183.5" y="630.5" width="4.2" height="6.6" fill="#6e6e6e"/>
<rect x="1189.8" y="630.5" width="4.2" height="6.6" fill="#6e6e6e"/>
<path d="M1186.2 633.8h5M1188.8 631.2v5" stroke="#b5d334" stroke-width="0.8" fill="none"/>
<rect x="1286.2" y="529.2" width="4.2" height="6.6" fill="#6e6e6e"/>
<rect x="1292.6" y="529.2" width="4.2" height="6.6" fill="#6e6e6e"/>
<path d="M1289 532.5h5M1291.5 530v5" stroke="#b5d334" stroke-width="0.8" fill="none"/>
<rect x="1224.5" y="580.9" width="6.6" height="4.2" fill="#6e6e6e"/>
<rect x="1224.5" y="587.4" width="6.6" height="4.2" fill="#6e6e6e"/>
<path d="M1225.2 586.2h5M1227.8 583.8v5" stroke="#b5d334" stroke-width="0.8" fill="none"/>
<rect x="1238.2" y="589.7" width="6.6" height="4.2" fill="#6e6e6e"/>
<rect x="1238.2" y="596.1" width="6.6" height="4.2" fill="#6e6e6e"/>
<path d="M1239 595h5M1241.5 592.5v5" stroke="#b5d334" stroke-width="0.8" fill="none"/>
<rect x="1243.2" y="637.2" width="6.6" height="4.2" fill="#6e6e6e"/>
<rect x="1243.2" y="643.6" width="6.6" height="4.2" fill="#6e6e6e"/>
<path d="M1244 642.5h5M1246.5 640v5" stroke="#b5d334" stroke-width="0.8" fill="none"/>
<rect x="1321.2" y="584.2" width="6.6" height="4.2" fill="#6e6e6e"/>
<rect x="1321.2" y="590.6" width="6.6" height="4.2" fill="#6e6e6e"/>
<path d="M1322 589.5h5M1324.5 587v5" stroke="#b5d334" stroke-width="0.8" fill="none"/>
<rect x="1331.5" y="593.4" width="6.6" height="4.2" fill="#6e6e6e"/>
<rect x="1331.5" y="599.9" width="6.6" height="4.2" fill="#6e6e6e"/>
<path d="M1332.2 598.8h5M1334.8 596.2v5" stroke="#b5d334" stroke-width="0.8" fill="none"/>
<g transform="translate(362.2 29.9) rotate(0)">
<path d="M-12 -13.8 V-18 L-10 -20.1 H10 L12 -18 V-13.8 Z" fill="#808080"/>
<rect x="-12.7" y="13.8" width="4.5" height="13.6" fill="#808080"/>
<rect x="8.1" y="13.8" width="4.5" height="13.6" fill="#808080"/>
<rect x="-2.3" y="13.8" width="4.2" height="3.8" fill="#808080"/>
</g>
<g transform="translate(339.3 129) rotate(0)">
<rect x="23.5" y="-18.8" width="21.5" height="2.8" fill="#6e6e6e"/>
<rect x="23.5" y="-19.2" width="7" height="3.6" rx="1" fill="#6e6e6e"/>
<rect x="23.5" y="-13" width="21.5" height="2.8" fill="#6e6e6e"/>
<rect x="23.5" y="-13.4" width="7" height="3.6" rx="1" fill="#6e6e6e"/>
<rect x="23.5" y="-7.2" width="21.5" height="2.8" fill="#6e6e6e"/>
<rect x="23.5" y="-7.6" width="7" height="3.6" rx="1" fill="#6e6e6e"/>
<rect x="23.5" y="4.4" width="21.5" height="2.8" fill="#6e6e6e"/>
<rect x="23.5" y="4" width="7" height="3.6" rx="1" fill="#6e6e6e"/>
<rect x="23.5" y="10.2" width="21.5" height="2.8" fill="#6e6e6e"/>
<rect x="23.5" y="9.8" width="7" height="3.6" rx="1" fill="#6e6e6e"/>
<rect x="23.5" y="16" width="21.5" height="2.8" fill="#6e6e6e"/>
<rect x="23.5" y="15.6" width="7" height="3.6" rx="1" fill="#6e6e6e"/>
<rect x="23.5" y="-1.4" width="5.5" height="2.8" fill="#6e6e6e"/>
</g>
<g transform="translate(586 128.8) rotate(180)">
<rect x="23.5" y="-18.8" width="21.5" height="2.8" fill="#6e6e6e"/>
<rect x="23.5" y="-19.2" width="7" height="3.6" rx="1" fill="#6e6e6e"/>
<rect x="23.5" y="-13" width="21.5" height="2.8" fill="#6e6e6e"/>
<rect x="23.5" y="-13.4" width="7" height="3.6" rx="1" fill="#6e6e6e"/>
<rect x="23.5" y="-7.2" width="21.5" height="2.8" fill="#6e6e6e"/>
<rect x="23.5" y="-7.6" width="7" height="3.6" rx="1" fill="#6e6e6e"/>
<rect x="23.5" y="4.4" width="21.5" height="2.8" fill="#6e6e6e"/>
<rect x="23.5" y="4" width="7" height="3.6" rx="1" fill="#6e6e6e"/>
<rect x="23.5" y="10.2" width="21.5" height="2.8" fill="#6e6e6e"/>
<rect x="23.5" y="9.8" width="7" height="3.6" rx="1" fill="#6e6e6e"/>
<rect x="23.5" y="16" width="21.5" height="2.8" fill="#6e6e6e"/>
<rect x="23.5" y="15.6" width="7" height="3.6" rx="1" fill="#6e6e6e"/>
<rect x="23.5" y="-1.4" width="5.5" height="2.8" fill="#6e6e6e"/>
</g>
<g transform="translate(932.5 98) rotate(90)">
<circle cx="-5.9" r="2.8" fill="#7a7a7a" stroke="#12a05f" stroke-width="1.3"/>
<circle cx="5.9" r="2.8" fill="#7a7a7a" stroke="#12a05f" stroke-width="1.3"/>
</g>
<g transform="translate(981.2 97.2) rotate(90)">
<circle cx="-5.9" r="2.8" fill="#7a7a7a" stroke="#12a05f" stroke-width="1.3"/>
<circle cx="5.9" r="2.8" fill="#7a7a7a" stroke="#12a05f" stroke-width="1.3"/>
</g>
<g transform="translate(1021.5 96.2) rotate(90)">
<circle cx="-5.9" r="2.8" fill="#7a7a7a" stroke="#12a05f" stroke-width="1.3"/>
<circle cx="5.9" r="2.8" fill="#7a7a7a" stroke="#12a05f" stroke-width="1.3"/>
</g>
<g transform="translate(827.5 128.8) rotate(0)">
<circle cx="-5.9" r="2.8" fill="#7a7a7a" stroke="#12a05f" stroke-width="1.3"/>
<circle cx="5.9" r="2.8" fill="#7a7a7a" stroke="#12a05f" stroke-width="1.3"/>
</g>
<g transform="translate(874 140) rotate(0)">
<circle cy="-11.6" r="2.9" fill="#fff" stroke="#12a05f" stroke-width="1.5"/>
<circle cy="11.6" r="2.9" fill="#fff" stroke="#12a05f" stroke-width="1.5"/>
</g>
<g transform="translate(931.5 135.8) rotate(0)">
<circle cy="-11.6" r="2.9" fill="#fff" stroke="#12a05f" stroke-width="1.5"/>
<circle cy="11.6" r="2.9" fill="#fff" stroke="#12a05f" stroke-width="1.5"/>
</g>
<g transform="translate(980.2 135.8) rotate(0)">
<circle cy="-11.6" r="2.9" fill="#fff" stroke="#12a05f" stroke-width="1.5"/>
<circle cy="11.6" r="2.9" fill="#fff" stroke="#12a05f" stroke-width="1.5"/>
</g>
<g transform="translate(1054.8 135) rotate(0)">
<circle cy="-11.6" r="2.9" fill="#fff" stroke="#12a05f" stroke-width="1.5"/>
<circle cy="11.6" r="2.9" fill="#fff" stroke="#12a05f" stroke-width="1.5"/>
</g>
<g transform="translate(754.5 55.2) rotate(0)">
<path d="M-12 -13.8 V-18 L-10 -20.1 H10 L12 -18 V-13.8 Z" fill="#808080"/>
<rect x="-12.7" y="13.8" width="4.5" height="13.6" fill="#808080"/>
<rect x="8.1" y="13.8" width="4.5" height="13.6" fill="#808080"/>
<rect x="-2.3" y="13.8" width="4.2" height="3.8" fill="#808080"/>
</g>
<rect x="1237" y="29" width="4" height="2" fill="#777"/>
<rect x="1237" y="33.2" width="4" height="2" fill="#777"/>
<rect x="1237" y="37.5" width="4" height="2" fill="#777"/>
<rect x="1249" y="29" width="3.2" height="2" fill="#777"/>
<rect x="1249" y="37.5" width="3.2" height="2" fill="#777"/>
<g transform="translate(1125.8 97.8) rotate(90)">
<circle cx="-5.9" r="2.8" fill="#7a7a7a" stroke="#12a05f" stroke-width="1.3"/>
<circle cx="5.9" r="2.8" fill="#7a7a7a" stroke="#12a05f" stroke-width="1.3"/>
</g>
<g transform="translate(1194.2 92) rotate(90)">
<circle cx="-5.9" r="2.8" fill="#7a7a7a" stroke="#12a05f" stroke-width="1.3"/>
<circle cx="5.9" r="2.8" fill="#7a7a7a" stroke="#12a05f" stroke-width="1.3"/>
</g>
<g transform="translate(1125.9 136.2) rotate(0)">
<circle cy="-11.6" r="2.9" fill="#fff" stroke="#12a05f" stroke-width="1.5"/>
<circle cy="11.6" r="2.9" fill="#fff" stroke="#12a05f" stroke-width="1.5"/>
</g>
<g transform="translate(1192.2 138.8) rotate(0)">
<circle cy="-11.6" r="2.9" fill="#fff" stroke="#12a05f" stroke-width="1.5"/>
<circle cy="11.6" r="2.9" fill="#fff" stroke="#12a05f" stroke-width="1.5"/>
</g>
<g transform="translate(1259.2 138.8) rotate(0)">
<circle cy="-11.6" r="2.9" fill="#fff" stroke="#12a05f" stroke-width="1.5"/>
<circle cy="11.6" r="2.9" fill="#fff" stroke="#12a05f" stroke-width="1.5"/>
</g>
<g transform="translate(256.8 323.2) rotate(-90)">
<path d="M-12 -13.8 V-18 L-10 -20.1 H10 L12 -18 V-13.8 Z" fill="#808080"/>
<rect x="-12.7" y="13.8" width="4.5" height="13.6" fill="#808080"/>
<rect x="8.1" y="13.8" width="4.5" height="13.6" fill="#808080"/>
<rect x="-2.3" y="13.8" width="4.2" height="3.8" fill="#808080"/>
</g>
<g transform="translate(417 200.8) rotate(90)">
<rect x="23.5" y="-18.8" width="21.5" height="2.8" fill="#6e6e6e"/>
<rect x="23.5" y="-19.2" width="7" height="3.6" rx="1" fill="#6e6e6e"/>
<rect x="23.5" y="-13" width="21.5" height="2.8" fill="#6e6e6e"/>
<rect x="23.5" y="-13.4" width="7" height="3.6" rx="1" fill="#6e6e6e"/>
<rect x="23.5" y="-7.2" width="21.5" height="2.8" fill="#6e6e6e"/>
<rect x="23.5" y="-7.6" width="7" height="3.6" rx="1" fill="#6e6e6e"/>
<rect x="23.5" y="4.4" width="21.5" height="2.8" fill="#6e6e6e"/>
<rect x="23.5" y="4" width="7" height="3.6" rx="1" fill="#6e6e6e"/>
<rect x="23.5" y="10.2" width="21.5" height="2.8" fill="#6e6e6e"/>
<rect x="23.5" y="9.8" width="7" height="3.6" rx="1" fill="#6e6e6e"/>
<rect x="23.5" y="16" width="21.5" height="2.8" fill="#6e6e6e"/>
<rect x="23.5" y="15.6" width="7" height="3.6" rx="1" fill="#6e6e6e"/>
<rect x="23.5" y="-1.4" width="5.5" height="2.8" fill="#6e6e6e"/>
</g>
<g transform="translate(501.1 202) rotate(90)">
<rect x="23.5" y="-18.8" width="21.5" height="2.8" fill="#6e6e6e"/>
<rect x="23.5" y="-19.2" width="7" height="3.6" rx="1" fill="#6e6e6e"/>
<rect x="23.5" y="-13" width="21.5" height="2.8" fill="#6e6e6e"/>
<rect x="23.5" y="-13.4" width="7" height="3.6" rx="1" fill="#6e6e6e"/>
<rect x="23.5" y="-7.2" width="21.5" height="2.8" fill="#6e6e6e"/>
<rect x="23.5" y="-7.6" width="7" height="3.6" rx="1" fill="#6e6e6e"/>
<rect x="23.5" y="4.4" width="21.5" height="2.8" fill="#6e6e6e"/>
<rect x="23.5" y="4" width="7" height="3.6" rx="1" fill="#6e6e6e"/>
<rect x="23.5" y="10.2" width="21.5" height="2.8" fill="#6e6e6e"/>
<rect x="23.5" y="9.8" width="7" height="3.6" rx="1" fill="#6e6e6e"/>
<rect x="23.5" y="16" width="21.5" height="2.8" fill="#6e6e6e"/>
<rect x="23.5" y="15.6" width="7" height="3.6" rx="1" fill="#6e6e6e"/>
<rect x="23.5" y="-1.4" width="5.5" height="2.8" fill="#6e6e6e"/>
</g>
<g transform="translate(820.2 190) rotate(0)">
<circle cx="-5.9" r="2.8" fill="#7a7a7a" stroke="#12a05f" stroke-width="1.3"/>
<circle cx="5.9" r="2.8" fill="#7a7a7a" stroke="#12a05f" stroke-width="1.3"/>
</g>
<g transform="translate(854 312) rotate(0)">
<circle cx="-5.9" r="2.8" fill="#7a7a7a" stroke="#12a05f" stroke-width="1.3"/>
<circle cx="5.9" r="2.8" fill="#7a7a7a" stroke="#12a05f" stroke-width="1.3"/>
</g>
<g transform="translate(860.5 190.8) rotate(-90)">
<circle cy="-11.6" r="2.9" fill="#fff" stroke="#12a05f" stroke-width="1.5"/>
<circle cy="11.6" r="2.9" fill="#fff" stroke="#12a05f" stroke-width="1.5"/>
</g>
<g transform="translate(894 299.5) rotate(180)">
<circle cy="-11.6" r="2.9" fill="#fff" stroke="#12a05f" stroke-width="1.5"/>
<circle cy="11.6" r="2.9" fill="#fff" stroke="#12a05f" stroke-width="1.5"/>
</g>
<g transform="translate(1300.2 180.2) rotate(90)">
<circle cy="-11.6" r="2.9" fill="#fff" stroke="#12a05f" stroke-width="1.5"/>
<circle cy="11.6" r="2.9" fill="#fff" stroke="#12a05f" stroke-width="1.5"/>
</g>
<g transform="translate(1339.2 180.2) rotate(0)">
<circle cx="-5.9" r="2.8" fill="#7a7a7a" stroke="#12a05f" stroke-width="1.3"/>
<circle cx="5.9" r="2.8" fill="#7a7a7a" stroke="#12a05f" stroke-width="1.3"/>
</g>
<g transform="translate(1343.5 281.2) rotate(90)">
<circle cy="-17.4" r="2.9" fill="#fff" stroke="#12a05f" stroke-width="1.5"/>
<circle cy="17.4" r="2.9" fill="#fff" stroke="#12a05f" stroke-width="1.5"/>
</g>
<g transform="translate(1372.5 340.5) rotate(90)">
<circle cx="-5.9" r="2.8" fill="#7a7a7a" stroke="#12a05f" stroke-width="1.3"/>
<circle cx="5.9" r="2.8" fill="#7a7a7a" stroke="#12a05f" stroke-width="1.3"/>
</g>
<g transform="translate(390 499.8) rotate(-90)">
<rect x="23.5" y="-18.8" width="21.5" height="2.8" fill="#6e6e6e"/>
<rect x="23.5" y="-19.2" width="7" height="3.6" rx="1" fill="#6e6e6e"/>
<rect x="23.5" y="-13" width="21.5" height="2.8" fill="#6e6e6e"/>
<rect x="23.5" y="-13.4" width="7" height="3.6" rx="1" fill="#6e6e6e"/>
<rect x="23.5" y="-7.2" width="21.5" height="2.8" fill="#6e6e6e"/>
<rect x="23.5" y="-7.6" width="7" height="3.6" rx="1" fill="#6e6e6e"/>
<rect x="23.5" y="4.4" width="21.5" height="2.8" fill="#6e6e6e"/>
<rect x="23.5" y="4" width="7" height="3.6" rx="1" fill="#6e6e6e"/>
<rect x="23.5" y="10.2" width="21.5" height="2.8" fill="#6e6e6e"/>
<rect x="23.5" y="9.8" width="7" height="3.6" rx="1" fill="#6e6e6e"/>
<rect x="23.5" y="16" width="21.5" height="2.8" fill="#6e6e6e"/>
<rect x="23.5" y="15.6" width="7" height="3.6" rx="1" fill="#6e6e6e"/>
<rect x="23.5" y="-1.4" width="5.5" height="2.8" fill="#6e6e6e"/>
</g>
<g transform="translate(219 456.8) rotate(0)">
<path d="M-12 -13.8 V-18 L-10 -20.1 H10 L12 -18 V-13.8 Z" fill="#808080"/>
<rect x="-12.7" y="13.8" width="4.5" height="13.6" fill="#808080"/>
<rect x="8.1" y="13.8" width="4.5" height="13.6" fill="#808080"/>
<rect x="-2.3" y="13.8" width="4.2" height="3.8" fill="#808080"/>
</g>
<g transform="translate(256.8 356.5) rotate(-90)">
<path d="M-12 -13.8 V-18 L-10 -20.1 H10 L12 -18 V-13.8 Z" fill="#808080"/>
<rect x="-12.7" y="13.8" width="4.5" height="13.6" fill="#808080"/>
<rect x="8.1" y="13.8" width="4.5" height="13.6" fill="#808080"/>
<rect x="-2.3" y="13.8" width="4.2" height="3.8" fill="#808080"/>
</g>
<g transform="translate(713 459.3) rotate(90)">
<path d="M-12 -13.8 V-18 L-10 -20.1 H10 L12 -18 V-13.8 Z" fill="#808080"/>
<rect x="-12.7" y="13.8" width="4.5" height="13.6" fill="#808080"/>
<rect x="8.1" y="13.8" width="4.5" height="13.6" fill="#808080"/>
<rect x="-2.3" y="13.8" width="4.2" height="3.8" fill="#808080"/>
</g>
<g transform="translate(471.8 500.2) rotate(-90)">
<rect x="23.5" y="-18.8" width="21.5" height="2.8" fill="#6e6e6e"/>
<rect x="23.5" y="-19.2" width="7" height="3.6" rx="1" fill="#6e6e6e"/>
<rect x="23.5" y="-13" width="21.5" height="2.8" fill="#6e6e6e"/>
<rect x="23.5" y="-13.4" width="7" height="3.6" rx="1" fill="#6e6e6e"/>
<rect x="23.5" y="-7.2" width="21.5" height="2.8" fill="#6e6e6e"/>
<rect x="23.5" y="-7.6" width="7" height="3.6" rx="1" fill="#6e6e6e"/>
<rect x="23.5" y="4.4" width="21.5" height="2.8" fill="#6e6e6e"/>
<rect x="23.5" y="4" width="7" height="3.6" rx="1" fill="#6e6e6e"/>
<rect x="23.5" y="10.2" width="21.5" height="2.8" fill="#6e6e6e"/>
<rect x="23.5" y="9.8" width="7" height="3.6" rx="1" fill="#6e6e6e"/>
<rect x="23.5" y="16" width="21.5" height="2.8" fill="#6e6e6e"/>
<rect x="23.5" y="15.6" width="7" height="3.6" rx="1" fill="#6e6e6e"/>
<rect x="23.5" y="-1.4" width="5.5" height="2.8" fill="#6e6e6e"/>
</g>
<rect x="1116.5" y="416.6" width="2.5" height="10.2" fill="#777"/>
<rect x="1140" y="416.6" width="2.8" height="10.2" fill="#777"/>
<rect x="1133.2" y="412.8" width="2.5" height="17.4" fill="#777"/>
<g transform="translate(91.9 672.5) rotate(-90)">
<path d="M-12 -13.8 V-18 L-10 -20.1 H10 L12 -18 V-13.8 Z" fill="#808080"/>
<rect x="-12.7" y="13.8" width="4.5" height="13.6" fill="#808080"/>
<rect x="8.1" y="13.8" width="4.5" height="13.6" fill="#808080"/>
<rect x="-2.3" y="13.8" width="4.2" height="3.8" fill="#808080"/>
</g>
<g transform="translate(294 570) rotate(0)">
<rect x="23.5" y="-18.8" width="21.5" height="2.8" fill="#6e6e6e"/>
<rect x="23.5" y="-19.2" width="7" height="3.6" rx="1" fill="#6e6e6e"/>
<rect x="23.5" y="-13" width="21.5" height="2.8" fill="#6e6e6e"/>
<rect x="23.5" y="-13.4" width="7" height="3.6" rx="1" fill="#6e6e6e"/>
<rect x="23.5" y="-7.2" width="21.5" height="2.8" fill="#6e6e6e"/>
<rect x="23.5" y="-7.6" width="7" height="3.6" rx="1" fill="#6e6e6e"/>
<rect x="23.5" y="4.4" width="21.5" height="2.8" fill="#6e6e6e"/>
<rect x="23.5" y="4" width="7" height="3.6" rx="1" fill="#6e6e6e"/>
<rect x="23.5" y="10.2" width="21.5" height="2.8" fill="#6e6e6e"/>
<rect x="23.5" y="9.8" width="7" height="3.6" rx="1" fill="#6e6e6e"/>
<rect x="23.5" y="16" width="21.5" height="2.8" fill="#6e6e6e"/>
<rect x="23.5" y="15.6" width="7" height="3.6" rx="1" fill="#6e6e6e"/>
<rect x="23.5" y="-1.4" width="5.5" height="2.8" fill="#6e6e6e"/>
</g>
<g transform="translate(561.2 568.2) rotate(180)">
<rect x="23.5" y="-18.8" width="21.5" height="2.8" fill="#6e6e6e"/>
<rect x="23.5" y="-19.2" width="7" height="3.6" rx="1" fill="#6e6e6e"/>
<rect x="23.5" y="-13" width="21.5" height="2.8" fill="#6e6e6e"/>
<rect x="23.5" y="-13.4" width="7" height="3.6" rx="1" fill="#6e6e6e"/>
<rect x="23.5" y="-7.2" width="21.5" height="2.8" fill="#6e6e6e"/>
<rect x="23.5" y="-7.6" width="7" height="3.6" rx="1" fill="#6e6e6e"/>
<rect x="23.5" y="4.4" width="21.5" height="2.8" fill="#6e6e6e"/>
<rect x="23.5" y="4" width="7" height="3.6" rx="1" fill="#6e6e6e"/>
<rect x="23.5" y="10.2" width="21.5" height="2.8" fill="#6e6e6e"/>
<rect x="23.5" y="9.8" width="7" height="3.6" rx="1" fill="#6e6e6e"/>
<rect x="23.5" y="16" width="21.5" height="2.8" fill="#6e6e6e"/>
<rect x="23.5" y="15.6" width="7" height="3.6" rx="1" fill="#6e6e6e"/>
<rect x="23.5" y="-1.4" width="5.5" height="2.8" fill="#6e6e6e"/>
</g>
<g transform="translate(788 662.9) rotate(0)">
<path d="M-12 -13.8 V-18 L-10 -20.1 H10 L12 -18 V-13.8 Z" fill="#808080"/>
<rect x="-12.7" y="13.8" width="4.5" height="13.6" fill="#808080"/>
<rect x="8.1" y="13.8" width="4.5" height="13.6" fill="#808080"/>
<rect x="-2.3" y="13.8" width="4.2" height="3.8" fill="#808080"/>
</g>
<rect x="1329.5" y="548" width="10.5" height="5.8" fill="#6e6e6e"/>
<rect x="1329.5" y="561.2" width="10.5" height="5.8" fill="#6e6e6e"/>
<rect x="1346.8" y="548" width="10.5" height="5.8" fill="#6e6e6e"/>
<rect x="1346.8" y="561.2" width="10.5" height="5.8" fill="#6e6e6e"/>
<rect x="1245" y="526.8" width="2.9" height="9.6" fill="#777"/>
<rect x="1268.8" y="526.8" width="2.6" height="9.6" fill="#777"/>
<rect x="1262.4" y="523" width="2.2" height="17.1" fill="#777"/>
<g fill="#6a6a6a" font-family="Liberation Sans, Arial, sans-serif" opacity="0.95">
<text x="86.8" y="12.5" font-size="8.2">U22</text>
<text x="232.5" y="9.2" font-size="8.2">U24</text>
<text x="275" y="17.5" font-size="8.1">TP_SS4_PH_1</text>
<text x="143.2" y="39.5" font-size="8.1">TP_SS2_PH_1</text>
<text x="48.2" y="48.8" font-size="8.1">TP_EN2_PH_1</text>
<text x="130.5" y="55.5" font-size="8.2">U23</text>
<text x="192.5" y="51.2" font-size="8.1">TP_SS3_PH_1</text>
<text x="263.2" y="43.8" font-size="8.1">TP_EN4_PH_1</text>
<text x="190" y="74.5" font-size="8.1">TP_EN3_PH_1</text>
<text x="308.2" y="76.5" font-size="8.1">C8_PH_1</text>
<text x="4.5" y="90.5" font-size="8.1">TP_EN1_PH_1</text>
<text x="84.2" y="88" font-size="8.1">TP_SS1_PH_1</text>
<text x="207" y="94" font-size="8.1">C7_PH_1</text>
<text x="3" y="112" font-size="8.1">R19_PH_1</text>
<text x="128.8" y="121.8" font-size="8.1">R13_PH_1</text>
<text x="184.5" y="146.2" font-size="8.1">C24_PH_1</text>
<text x="190" y="164.2" font-size="8.1">C25_PH_1</text>
<text x="306.2" y="159.5" font-size="8.1">R_D1-_PH_1</text>
<text x="116.5" y="170" font-size="8.1">R_PGOOD_PH_1</text>
<text x="286.2" y="162" font-size="4.7">U5</text>
<text x="254.5" y="133" font-size="4.7">TP_DOUT1_PH_1</text>
<text x="45.8" y="68.8" font-size="8.2" transform="rotate(-90 45.8 68.8)">U21</text>
<text x="277" y="113" font-size="7.8" transform="rotate(-90 277 113)">T1</text>
<text x="50.8" y="135" font-size="7.8" transform="rotate(-90 50.8 135)">R15_PH_1</text>
<text x="87.5" y="147.5" font-size="7.8" transform="rotate(-90 87.5 147.5)">R17_PH_1</text>
<text x="561.8" y="19.2" font-size="8.1">C9_PH_1</text>
<text x="677.5" y="12.5" font-size="8.1">C10_PH_1</text>
<text x="646.8" y="48.8" font-size="8.1">T2</text>
<text x="678" y="75" font-size="8.1">D2</text>
<text x="590.5" y="99.5" font-size="8.1">C22_PH_1</text>
<text x="640.5" y="111.2" font-size="8.1">Rsense</text>
<text x="553.8" y="168.2" font-size="8.1">TP_L2_PH_1</text>
<text x="401" y="164.2" font-size="8.1">R14_PH_1</text>
<text x="393" y="173.2" font-size="8.1">FET#3_PH_1</text>
<text x="479.8" y="174.2" font-size="8.1">FET#4_PH_1</text>
<text x="547.2" y="75" font-size="8.1" transform="rotate(-90 547.2 75)">R_D2+_PH_1</text>
<text x="533" y="92" font-size="8.1" transform="rotate(-90 533 92)">R16_PH_1</text>
<text x="573" y="77" font-size="8.1" transform="rotate(-90 573 77)">R_D2-_PH_1</text>
<text x="598.5" y="79.5" font-size="8.1" transform="rotate(-90 598.5 79.5)">C20_PH_1</text>
<text x="621.8" y="154.5" font-size="8.1" transform="rotate(-90 621.8 154.5)">FET#2_PH_1</text>
<text x="391.2" y="145.5" font-size="8.1" transform="rotate(-90 391.2 145.5)">FET#1_PH_1</text>
<text x="856" y="11.2" font-size="8.1">TP_VOUT</text>
<text x="801" y="25" font-size="8.1">TP_VIN</text>
<text x="836.8" y="24.5" font-size="8.6">U33</text>
<text x="755.5" y="30.5" font-size="8.1">RDIV1</text>
<text x="786.8" y="52.5" font-size="8.1">RDVI2</text>
<text x="906.5" y="49.2" font-size="8.1">TP_ADC_SEL</text>
<text x="801.8" y="142" font-size="8.1">JP6_PH_1</text>
<text x="1008" y="113.8" font-size="8.1">JP3_PH_1</text>
<text x="750.5" y="91.8" font-size="8.1" text-anchor="end">C32_PH_1</text>
<text x="750.5" y="103.8" font-size="8.1" text-anchor="end">C33_PH_1</text>
<text x="749.2" y="115.5" font-size="8.1" text-anchor="end">R10_PH_1</text>
<text x="887.2" y="120" font-size="8.1" transform="rotate(-90 887.2 120)">C_OUT_PH_1</text>
<text x="924" y="109.5" font-size="8.1" transform="rotate(-90 924 109.5)">JP9_PH_2</text>
<text x="973" y="109" font-size="8.1" transform="rotate(-90 973 109)">JP5_PH_1</text>
<text x="1081.9" y="16.5" font-size="8.1" transform="rotate(-90 1081.9 16.5)">X2</text>
<text x="1371.5" y="132" font-size="8.1">X1</text>
<text x="1236.5" y="25" font-size="8.1">IC1</text>
<text x="1217.8" y="60.8" font-size="8.1">TP_VIN1</text>
<text x="1177.8" y="79.2" font-size="8.1">JP1_PH_1</text>
<text x="1111.5" y="117" font-size="8.1">JP2_PH_1</text>
<text x="1294.5" y="148" font-size="8.1">C_IN+30_PH_2</text>
<text x="1114.5" y="12.5" font-size="8.1">ROI</text>
<text x="1153.2" y="18.8" font-size="8.1">ROF</text>
<text x="1084" y="24.2" font-size="8.1">RS5</text>
<text x="1142.2" y="32.5" font-size="8.1">RS10</text>
<text x="1126" y="51.8" font-size="8.1">RS2</text>
<text x="1149" y="51.8" font-size="8.1">RS6</text>
<text x="1122.8" y="58.2" font-size="8.1">RS3</text>
<text x="1106" y="77" font-size="8.1">RS4</text>
<text x="1082" y="51.2" font-size="8.1" text-anchor="end">RS7</text>
<text x="1081.5" y="60.8" font-size="8.1" text-anchor="end">RS11</text>
<text x="1081.5" y="70" font-size="8.1" text-anchor="end">RS12</text>
<text x="1080.2" y="82.5" font-size="8.1" text-anchor="end">RS8</text>
<text x="1122.8" y="24.5" font-size="3.6">RS9</text>
<text x="1111.5" y="48" font-size="3.6">RS1</text>
<text x="1417.8" y="90.2" font-size="4.6" transform="rotate(-90 1417.8 90.2)">USB</text>
<text x="22.4" y="194.7" font-size="8.1" transform="rotate(-90 22.4 194.7)">C_BOOT1_PH_1</text>
<text x="66.5" y="170.1" font-size="8.1" transform="rotate(-90 66.5 170.1)">C_BIAS_PH_1</text>
<text x="103.2" y="170.1" font-size="8.1" transform="rotate(-90 103.2 170.1)">C_BOOT2_PH_1</text>
<text x="146.8" y="198.4" font-size="8.1">TP_RS_PH_1</text>
<text x="120.2" y="209.4" font-size="8.1">R_CS_PH_1</text>
<text x="119.7" y="218.9" font-size="8.1">C_CS_PH_1</text>
<text x="128.1" y="227.8" font-size="8.1">R_CSG_PH_1</text>
<text x="123.9" y="245.6" font-size="8.1">R_ISNS(+)_PH_1</text>
<text x="169.7" y="257.5" font-size="8.6">U19</text>
<text x="189.7" y="271.2" font-size="8.1">TP_S4_PH_1</text>
<text x="105.6" y="284.7" font-size="8.1">ISNS(-)</text>
<text x="127" y="301.6" font-size="8.1">C_C111_PH_1</text>
<text x="14.9" y="311.8" font-size="8.1">R_UV2</text>
<text x="116.3" y="331.5" font-size="8.1">C_C2_PH_1</text>
<text x="129.8" y="338.6" font-size="8.1">C_C1_PH_1</text>
<text x="76.9" y="311.5" font-size="4.7">R_FB22_PH_1</text>
<text x="228.3" y="292.5" font-size="8.1">C21_PH_1</text>
<text x="23.3" y="270.7" font-size="8.1" transform="rotate(-90 23.3 270.7)">C_OHP1</text>
<text x="38.7" y="258.9" font-size="8.1" transform="rotate(-90 38.7 258.9)">C_VIN_PH_1</text>
<text x="13.6" y="289.1" font-size="8.1" transform="rotate(-90 13.6 289.1)">R_UV1</text>
<text x="51.8" y="331.8" font-size="8.1" transform="rotate(-90 51.8 331.8)">R_MODE_PH_1</text>
<text x="63.1" y="331.5" font-size="8.1" transform="rotate(-90 63.1 331.5)">C_DITH1_PH_1</text>
<text x="76.4" y="304.2" font-size="8.1" transform="rotate(-90 76.4 304.2)">R_FB1_PH_1</text>
<text x="92.8" y="284.7" font-size="4.7" transform="rotate(-90 92.8 284.7)">R_FB21_PH_1</text>
<text x="101.3" y="255.5" font-size="4.7" transform="rotate(-90 101.3 255.5)">C_C21_PH_1</text>
<text x="47" y="226" font-size="8.1" transform="rotate(-90 47 226)">U4</text>
<text x="332" y="184" font-size="8.1">TP_VIN3</text>
<text x="287.5" y="205.2" font-size="4.7">R9_PH_1</text>
<text x="263.8" y="195.2" font-size="4.7">C35_PH_1</text>
<text x="282.5" y="179" font-size="4.7">C34_PH_1</text>
<text x="268.8" y="223.2" font-size="4.7">C11_PH_1</text>
<text x="264.5" y="307" font-size="4.7">C23_PH_1</text>
<text x="332" y="326.5" font-size="4.7">R11_PH_1</text>
<text x="333.8" y="352" font-size="4.7">R12_PH_1</text>
<text x="344.5" y="205.8" font-size="4.7">TP_L1_PH_1</text>
<text x="322" y="261.5" font-size="8.1" transform="rotate(-90 322 261.5)">T3</text>
<text x="323.2" y="218.2" font-size="8.1" transform="rotate(-90 323.2 218.2)">R_D1+_PH_2</text>
<text x="350.8" y="314" font-size="8.1" transform="rotate(-90 350.8 314)">C31_PH_1</text>
<text x="527.2" y="195.8" font-size="8.1">C13_PH_1</text>
<text x="619.2" y="196.5" font-size="8.1">C14_PH_1</text>
<text x="626.8" y="212" font-size="8.1">D4</text>
<text x="642.5" y="252.5" font-size="8.1">C28_PH_1</text>
<text x="666" y="263.8" font-size="8.1">TP_L22_PH_1</text>
<text x="501.8" y="256.5" font-size="8.1">C26_PH_1</text>
<text x="515.5" y="280.8" font-size="8.1">C27_PH_1</text>
<text x="592.5" y="303.8" font-size="8.1">C29_PH_1</text>
<text x="641.8" y="297" font-size="8.1">R_D4+_PH_1</text>
<text x="586.8" y="320.2" font-size="8.6">U31</text>
<text x="634.2" y="324" font-size="8.1">TP_SS3_PH_2</text>
<text x="371" y="293.2" font-size="8.1">C30_PH_1</text>
<text x="373.5" y="302" font-size="8.1">R_D3-_PH_1</text>
<text x="373.5" y="310.8" font-size="8.1">R_D3+_PH_1</text>
<text x="370" y="335.8" font-size="8.1">R18_PH_1</text>
<text x="359.2" y="283.2" font-size="8.1">D3</text>
<text x="391.8" y="223.8" font-size="8.1" text-anchor="end">C12_PH_1</text>
<text x="582.5" y="255.8" font-size="4.7">U8</text>
<text x="459.2" y="234" font-size="8.1" transform="rotate(-90 459.2 234)">R20_PH_1</text>
<text x="439.2" y="287" font-size="8.1" transform="rotate(-90 439.2 287)">Rsense</text>
<text x="590" y="225" font-size="8.1" transform="rotate(-90 590 225)">T4</text>
<text x="621.8" y="283.2" font-size="4.7" transform="rotate(-90 621.8 283.2)">R_D4-_PH_1</text>
<text x="794.8" y="204" font-size="8.1">JP7_PH_1</text>
<text x="867.2" y="217" font-size="8.1">C_OUT-30_PH_1</text>
<text x="814.8" y="288.2" font-size="8.1">C_OUT30_PH_1</text>
<text x="766.8" y="325.2" font-size="8.1">TP_C30_PH_1</text>
<text x="827.2" y="325.2" font-size="8.1">JP8_PH_1</text>
<text x="949.7" y="214" font-size="8.1" transform="rotate(-90 949.7 214)">C_OUT1_PH_2</text>
<text x="998.5" y="200.8" font-size="8.1" transform="rotate(-90 998.5 200.8)">C_IN_PH_1</text>
<text x="1073" y="213" font-size="8.1" transform="rotate(-90 1073 213)">C_IN#30_PH_1</text>
<text x="1143.5" y="214" font-size="8.1" transform="rotate(-90 1143.5 214)">C_IN_30_PH_1</text>
<text x="1211" y="218.5" font-size="8.1" transform="rotate(-90 1211 218.5)">C_IN#-30_PH_1</text>
<text x="1231" y="198.2" font-size="8.1">C_IN3_PH_2</text>
<text x="1328.2" y="232.5" font-size="8.1">JP8_PH_2</text>
<text x="1269.8" y="300.2" font-size="8.1">C_IN30_PH_1</text>
<text x="1347.2" y="328.8" font-size="8.1">JP4_PH_1</text>
<text x="274.8" y="506.2" font-size="8.1">R_D4-_PH_2</text>
<text x="254.7" y="478.9" font-size="4.7">C27_PH_2</text>
<text x="335.3" y="489.2" font-size="4.7">C29_PH_2</text>
<text x="280.2" y="534.5" font-size="4.7">R_D4+_PH_2</text>
<text x="329.7" y="531.9" font-size="4.7">TP_L2_PH_2</text>
<text x="365" y="539" font-size="8.1">R10_PH_2</text>
<text x="305.9" y="458.4" font-size="4.7">U15</text>
<text x="419.5" y="527" font-size="8.1" transform="rotate(-90 419.5 527)">FET#4_PH_2</text>
<text x="345" y="527.4" font-size="4.7" transform="rotate(-90 345 527.4)">C28_PH_2</text>
<text x="13.2" y="371.7" font-size="8.1" transform="rotate(-90 13.2 371.7)">TP_CIN_PH_1</text>
<text x="8.8" y="380.8" font-size="8.1">TP_DITH_PH_1</text>
<text x="130.5" y="361" font-size="8.1">R_C2_PH_1</text>
<text x="163.8" y="381" font-size="8.6">U20</text>
<text x="226.2" y="392" font-size="8.1">TP_S5_PH_1</text>
<text x="236.8" y="403.2" font-size="8.1">C13_PH_2</text>
<text x="131.2" y="409.5" font-size="8.6">U17</text>
<text x="193.2" y="428.2" font-size="8.1">TP_S1_PH_1</text>
<text x="105.8" y="440.8" font-size="8.6">U18</text>
<text x="165.5" y="456.5" font-size="4.7">TP_S2_PH_1</text>
<text x="170.2" y="491" font-size="8.1">R2_PH_1</text>
<text x="98" y="490.2" font-size="13.5">U10</text>
<text x="15.5" y="508.2" font-size="8.1">C1_PH_1</text>
<text x="36.2" y="516" font-size="8.1">C2_PH_1</text>
<text x="159.2" y="521.5" font-size="8.1">C4_PH_1</text>
<text x="78.8" y="396" font-size="8.1" transform="rotate(-90 78.8 396)">R_T1_PH_1</text>
<text x="88.8" y="407.2" font-size="8.1" transform="rotate(-90 88.8 407.2)">C_SLOPE1_PH_1</text>
<text x="105" y="400.2" font-size="8.1" transform="rotate(-90 105 400.2)">C_SS1_PH_1</text>
<text x="122.5" y="415.2" font-size="4.7" transform="rotate(-90 122.5 415.2)">R_VISNS_PH_1</text>
<text x="57.5" y="457.2" font-size="8.1" transform="rotate(-90 57.5 457.2)">C15_PH_1</text>
<text x="69.5" y="452.2" font-size="8.1" transform="rotate(-90 69.5 452.2)">C5_PH_1</text>
<text x="81.2" y="452.2" font-size="8.1" transform="rotate(-90 81.2 452.2)">C6_PH_1</text>
<text x="42" y="483.2" font-size="8.1" transform="rotate(-90 42 483.2)">R4_PH_1</text>
<text x="85" y="495.2" font-size="8.1" transform="rotate(-90 85 495.2)">C3_PH_1</text>
<text x="256.2" y="454" font-size="8.1" transform="rotate(-90 256.2 454)">C26_PH_2</text>
<text x="308.2" y="443.2" font-size="8.1" transform="rotate(-90 308.2 443.2)">T8</text>
<text x="323.8" y="386.5" font-size="4.7" transform="rotate(-90 323.8 386.5)">TP_DOUT_2_PH_1</text>
<text x="697.3" y="340" font-size="8.1">TP_SS1_PH_2</text>
<text x="649.6" y="361.8" font-size="8.6">U29</text>
<text x="573.2" y="362.7" font-size="8.6">U32</text>
<text x="691.3" y="369.7" font-size="8.1">TP_EN1_PH_2</text>
<text x="650" y="383.5" font-size="8.1">TP_SS4_PH_2</text>
<text x="675.8" y="396.2" font-size="8.1">TP_EN4_PH_2</text>
<text x="341.2" y="403.2" font-size="8.1">C14_PH_2</text>
<text x="398" y="427.8" font-size="8.1" transform="rotate(-90 398 427.8)">R12_PH_2</text>
<text x="456.8" y="436" font-size="8.1" transform="rotate(-90 456.8 436)">Rsense</text>
<text x="358.8" y="438.5" font-size="8.1">D8</text>
<text x="495.5" y="438.5" font-size="8.1">C11_PH_2</text>
<text x="601.8" y="439.5" font-size="8.1">C12_PH_2</text>
<text x="609.2" y="457" font-size="8.1">D7</text>
<text x="562.5" y="463.5" font-size="8.1" transform="rotate(-90 562.5 463.5)">T7</text>
<text x="499.2" y="490.8" font-size="4.7">C21_PH_2</text>
<text x="560" y="493" font-size="4.7">U14</text>
<text x="440" y="503.5" font-size="8.1" transform="rotate(-90 440 503.5)">R20_PH_2</text>
<text x="448" y="530.2" font-size="8.1">FET#3_PH_2</text>
<text x="521.8" y="530.8" font-size="4.7" transform="rotate(-90 521.8 530.8)">C23_PH_2</text>
<text x="653" y="479" font-size="8.1" transform="rotate(-90 653 479)">R18_PH_2</text>
<text x="668" y="479" font-size="8.1" transform="rotate(-90 668 479)">R_D3-_PH_2</text>
<text x="685" y="486.5" font-size="8.1">R_D3+_PH_2</text>
<text x="625.5" y="423.5" font-size="8.1" transform="rotate(-90 625.5 423.5)">TP_EN3_PH_2</text>
<text x="834.2" y="408.2" font-size="8.1">C_C55_PH_2</text>
<text x="931.5" y="387.8" font-size="8.6">U26</text>
<text x="932.2" y="424.5" font-size="8.6">U25</text>
<text x="1041" y="387.2" font-size="8.6">U27</text>
<text x="1041" y="424.5" font-size="8.6">U28</text>
<text x="977.8" y="396.5" font-size="8.1">TP_S1_PH_2</text>
<text x="976" y="432" font-size="8.1">TP_S4_PH_2</text>
<text x="891.5" y="518.5" font-size="8.1">R_VISNS_PH_2</text>
<text x="1089.5" y="396" font-size="8.1">TP_S2_PH_2</text>
<text x="1116" y="437" font-size="8.1">D_SW</text>
<text x="1104" y="452" font-size="8.1">TP_S3_PH_2</text>
<text x="1164" y="452.2" font-size="8.1">TP_FB</text>
<text x="1207.8" y="452.2" font-size="8.1">R_FBB</text>
<text x="1235.8" y="431.5" font-size="8.1">C_OHP2</text>
<text x="1280.2" y="414" font-size="8.1">TP_L12</text>
<text x="1189.5" y="524.5" font-size="8.1">D_BOOST_Z</text>
<text x="1285.8" y="525.8" font-size="8.1">C_B</text>
<text x="1327.8" y="524.5" font-size="8.1">TP_L11</text>
<text x="1212" y="429" font-size="8.1" transform="rotate(-90 1212 429)">R_FBT</text>
<text x="1163.6" y="437.5" font-size="8.1" transform="rotate(-90 1163.6 437.5)">L_1</text>
<text x="188.2" y="561.8" font-size="8.1">TP_F2_PH_1</text>
<text x="217" y="590" font-size="8.1">FET#2_PH_2</text>
<text x="188.2" y="602.5" font-size="8.1">C9_PH_2</text>
<text x="283" y="602.5" font-size="8.1">C10_PH_2</text>
<text x="246.8" y="617.5" font-size="8.1">T6</text>
<text x="290" y="620" font-size="8.1">D6</text>
<text x="132" y="614.2" font-size="8.1">R3_PH_2</text>
<text x="147.5" y="636.2" font-size="8.1">R4_PH_2</text>
<text x="155" y="663.2" font-size="8.1">C20_PH_2</text>
<text x="182.5" y="679.5" font-size="8.1">C22_PH_2</text>
<text x="293.8" y="690.8" font-size="8.1">C32_PH_2</text>
<text x="240.5" y="656.8" font-size="4.7">U13</text>
<text x="117" y="581.8" font-size="8.1" transform="rotate(-90 117 581.8)">R3_PH_1</text>
<text x="146.2" y="581.2" font-size="8.1" transform="rotate(-90 146.2 581.2)">R1_PH_1</text>
<text x="74.2" y="616.2" font-size="8.1" transform="rotate(-90 74.2 616.2)">C6_PH_2</text>
<text x="91.2" y="617" font-size="8.1" transform="rotate(-90 91.2 617)">C15_PH_2</text>
<text x="64.5" y="655" font-size="8.1" transform="rotate(-90 64.5 655)">C5_PH_2</text>
<text x="263.2" y="557.5" font-size="8.1" transform="rotate(-90 263.2 557.5)">TP_L22_PH_2</text>
<text x="307" y="681.2" font-size="8.1" transform="rotate(-90 307 681.2)">C33_PH_2</text>
<text x="332.5" y="662" font-size="8.1" transform="rotate(-90 332.5 662)">R16_PH_2</text>
<text x="349.2" y="643.8" font-size="8.1" transform="rotate(-90 349.2 643.8)">R_D2+_PH_2</text>
<text x="543.1" y="543.6" font-size="8.1">FET#1_PH_2</text>
<text x="630.8" y="559.4" font-size="8.1" transform="rotate(-90 630.8 559.4)">R11_PH_2</text>
<text x="648.5" y="560.1" font-size="8.1" transform="rotate(-90 648.5 560.1)">C31_PH_2</text>
<text x="659.8" y="560.1" font-size="8.1" transform="rotate(-90 659.8 560.1)">C30_PH_2</text>
<text x="676.8" y="588.4" font-size="8.1" transform="rotate(-90 676.8 588.4)">TP_DOUT_2_PH_2</text>
<text x="659.8" y="599" font-size="8.1" transform="rotate(-90 659.8 599)">C8_PH_2</text>
<text x="575.5" y="599.2" font-size="8.1">C7_PH_2</text>
<text x="678.8" y="623.8" font-size="8.1">D5</text>
<text x="526" y="668.2" font-size="8.1">C24_PH_2</text>
<text x="560.5" y="682.5" font-size="4.7">C25_PH_2</text>
<text x="614.2" y="660.5" font-size="4.7">U12</text>
<text x="695.5" y="656.2" font-size="8.1">R14_PH_2</text>
<text x="690" y="668.2" font-size="8.1">C35_PH_2</text>
<text x="674.2" y="695" font-size="8.1">C34_PH_2</text>
<text x="521.8" y="659.5" font-size="8.1" transform="rotate(-90 521.8 659.5)">TP_L1_PH_2</text>
<text x="363.5" y="695" font-size="8.1" transform="rotate(-90 363.5 695)">R_D2-_PH_2</text>
<text x="705.5" y="613.8" font-size="8.1" transform="rotate(-90 705.5 613.8)">TP_DOUT1_PH_2</text>
<text x="621.8" y="620" font-size="8.1" transform="rotate(-90 621.8 620)">T5</text>
<text x="983" y="568.8" font-size="8.1">U11</text>
<text x="867.8" y="565" font-size="8.1" text-anchor="end">R_MODE_PH_2</text>
<text x="867.8" y="575.8" font-size="8.1" text-anchor="end">C_DITH2_PH_2</text>
<text x="867.8" y="587" font-size="8.1" text-anchor="end">R_T2_PH_2</text>
<text x="772.8" y="598.8" font-size="8.1">TP_DITH1_PH_2</text>
<text x="866.8" y="610.5" font-size="8.1" text-anchor="end">C_SS2_PH_2</text>
<text x="894" y="587" font-size="8.1">C_VIN_PH_2</text>
<text x="887.2" y="598.2" font-size="8.1">C_SLOPE2_PH_2</text>
<text x="1020.5" y="545.8" font-size="8.1">R15_PH_2</text>
<text x="1037.2" y="566.8" font-size="8.1">R19_PH_2</text>
<text x="1033" y="625.5" font-size="8.1">R13_PH_2</text>
<text x="1051" y="638.8" font-size="8.1">R_CS1_PH_2</text>
<text x="1045.5" y="678.2" font-size="8.1">TP_RS1_PH_2</text>
<text x="761" y="637.5" font-size="8.1">R_D1+_PH_1</text>
<text x="736" y="694.2" font-size="8.1">R9_PH_2</text>
<text x="919.8" y="604.5" font-size="4.7">R_FB21_PH_2</text>
<text x="921.5" y="620.5" font-size="4.7">R_FB22_PH_2</text>
<text x="910.5" y="633" font-size="4.7">R_ISNS(-)_PH_2</text>
<text x="949.8" y="633.8" font-size="4.7">R_ISNS(+)_PH_2</text>
<text x="997.8" y="635.8" font-size="4.7">C_CS1_PH_2</text>
<text x="1047.8" y="605.8" font-size="4.7">R17_PH_2</text>
<text x="734.8" y="638" font-size="8.1" transform="rotate(-90 734.8 638)">R_D1-_PH_2</text>
<text x="842.2" y="665" font-size="8.1" transform="rotate(-90 842.2 665)">R_C1_PH_2</text>
<text x="867.2" y="663.8" font-size="8.1" transform="rotate(-90 867.2 663.8)">C_C1_PH_2</text>
<text x="892.2" y="677.5" font-size="8.1" transform="rotate(-90 892.2 677.5)">C_C5_PH_2</text>
<text x="943" y="697" font-size="8.1" transform="rotate(-90 943 697)">C_C21_PH_2</text>
<text x="904.8" y="661.2" font-size="4.7" transform="rotate(-90 904.8 661.2)">R_FB1_PH_2</text>
<text x="1029.8" y="697" font-size="4.7" transform="rotate(-90 1029.8 697)">R_CSG1_PH_2</text>
<text x="1106" y="569.5" font-size="8.1">C_BOOT1_PH_2</text>
<text x="1106" y="581.8" font-size="8.1">R_PGOOD_PH_2</text>
<text x="1105.2" y="596.8" font-size="8.1">C_BOOT2_PH_2</text>
<text x="1106" y="606.2" font-size="8.1">C_BIAS_PH_2</text>
<text x="1236.5" y="545" font-size="8.1">D_BOOST</text>
<text x="1241.5" y="560" font-size="8.1">C22</text>
<text x="1303.2" y="541.8" font-size="8.1">U1</text>
<text x="1184" y="645.8" font-size="8.1">C1</text>
<text x="1205.8" y="652.5" font-size="8.1">U3</text>
<text x="1296" y="609.5" font-size="8.1">C4</text>
<text x="1317.2" y="603.8" font-size="8.1">R2</text>
<text x="1339.8" y="605" font-size="8.1">R1</text>
<text x="1287.2" y="652" font-size="8.6">U30</text>
<text x="1254.8" y="698" font-size="8.1">TP_EN2_PH_</text>
<text x="1370.8" y="580" font-size="8.1">3.3V</text>
<text x="1278.5" y="580.8" font-size="13.5">U2</text>
<text x="1222.2" y="592.5" font-size="8.1" transform="rotate(-90 1222.2 592.5)">C11</text>
<text x="1241" y="584.5" font-size="8.1" transform="rotate(-90 1241 584.5)">C3</text>
<text x="1258.2" y="647.5" font-size="8.1" transform="rotate(-90 1258.2 647.5)">C2</text>
<text x="1345.2" y="590.8" font-size="8.1" transform="rotate(-90 1345.2 590.8)">C_IN2</text>
<text x="1366.5" y="571.2" font-size="8.1" transform="rotate(-90 1366.5 571.2)">C_IN1</text>
<text x="1337" y="660" font-size="4.7" transform="rotate(-90 1337 660)">TP_SS2_PH_2</text>
<text x="358.7" y="86.1" font-size="8.1">D1</text>
<text x="638.2" y="71.3" font-size="4.7">U6</text>
</g>
<circle cx="32" cy="32" r="19.8" fill="#cc1212"/>
<circle cx="32" cy="32" r="15.4" fill="#868686" stroke="#e88" stroke-width="0.5"/>
<path d="M32 32 L16.6 32 A15.4 15.4 0 0 1 32 16.6 Z" fill="#cc1212"/>
<path d="M32 32 L47.4 32 A15.4 15.4 0 0 1 32 47.4 Z" fill="#cc1212"/>
<circle cx="32" cy="32" r="7.6" fill="#fff" stroke="#6b5a3a" stroke-width="0.5"/>
<circle cx="32" cy="32.4" r="19.8" fill="#cc1212"/>
<circle cx="32" cy="32.4" r="15.4" fill="#868686" stroke="#e88" stroke-width="0.5"/>
<path d="M32 32.4 L16.6 32.4 A15.4 15.4 0 0 1 32 17 Z" fill="#cc1212"/>
<path d="M32 32.4 L47.4 32.4 A15.4 15.4 0 0 1 32 47.8 Z" fill="#cc1212"/>
<circle cx="32" cy="32.4" r="7.6" fill="#fff" stroke="#6b5a3a" stroke-width="0.5"/>
<circle cx="237.5" cy="188.3" r="19.8" fill="#cc1212"/>
<circle cx="237.5" cy="188.3" r="15.4" fill="#868686" stroke="#e88" stroke-width="0.5"/>
<path d="M237.5 188.3 L222.1 188.3 A15.4 15.4 0 0 1 237.5 172.9 Z" fill="#cc1212"/>
<path d="M237.5 188.3 L252.9 188.3 A15.4 15.4 0 0 1 237.5 203.7 Z" fill="#cc1212"/>
<circle cx="237.5" cy="188.3" r="7.6" fill="#fff" stroke="#6b5a3a" stroke-width="0.5"/>
<circle cx="699.3" cy="188.3" r="19.8" fill="#cc1212"/>
<circle cx="699.3" cy="188.3" r="15.4" fill="#868686" stroke="#e88" stroke-width="0.5"/>
<path d="M699.3 188.3 L683.9 188.3 A15.4 15.4 0 0 1 699.3 172.9 Z" fill="#cc1212"/>
<path d="M699.3 188.3 L714.7 188.3 A15.4 15.4 0 0 1 699.3 203.7 Z" fill="#cc1212"/>
<circle cx="699.3" cy="188.3" r="7.6" fill="#fff" stroke="#6b5a3a" stroke-width="0.5"/>
<circle cx="1370.8" cy="26.5" r="19.8" fill="#cc1212"/>
<circle cx="1370.8" cy="26.5" r="15.4" fill="#868686" stroke="#e88" stroke-width="0.5"/>
<path d="M1370.8 26.5 L1355.4 26.5 A15.4 15.4 0 0 1 1370.8 11.1 Z" fill="#cc1212"/>
<path d="M1370.8 26.5 L1386.2 26.5 A15.4 15.4 0 0 1 1370.8 41.9 Z" fill="#cc1212"/>
<circle cx="1370.8" cy="26.5" r="7.6" fill="#fff" stroke="#6b5a3a" stroke-width="0.5"/>
<circle cx="237" cy="520" r="19.8" fill="#cc1212"/>
<circle cx="237" cy="520" r="15.4" fill="#868686" stroke="#e88" stroke-width="0.5"/>
<path d="M237 520 L221.6 520 A15.4 15.4 0 0 1 237 504.6 Z" fill="#cc1212"/>
<path d="M237 520 L252.4 520 A15.4 15.4 0 0 1 237 535.4 Z" fill="#cc1212"/>
<circle cx="237" cy="520" r="7.6" fill="#fff" stroke="#6b5a3a" stroke-width="0.5"/>
<circle cx="699" cy="520" r="19.8" fill="#cc1212"/>
<circle cx="699" cy="520" r="15.4" fill="#868686" stroke="#e88" stroke-width="0.5"/>
<path d="M699 520 L683.6 520 A15.4 15.4 0 0 1 699 504.6 Z" fill="#cc1212"/>
<path d="M699 520 L714.4 520 A15.4 15.4 0 0 1 699 535.4 Z" fill="#cc1212"/>
<circle cx="699" cy="520" r="7.6" fill="#fff" stroke="#6b5a3a" stroke-width="0.5"/>
<circle cx="28" cy="678.3" r="19.8" fill="#cc1212"/>
<circle cx="28" cy="678.3" r="15.4" fill="#868686" stroke="#e88" stroke-width="0.5"/>
<path d="M28 678.3 L12.6 678.3 A15.4 15.4 0 0 1 28 662.9 Z" fill="#cc1212"/>
<path d="M28 678.3 L43.4 678.3 A15.4 15.4 0 0 1 28 693.7 Z" fill="#cc1212"/>
<circle cx="28" cy="678.3" r="7.6" fill="#fff" stroke="#6b5a3a" stroke-width="0.5"/>
<circle cx="1370.5" cy="677.7" r="19.8" fill="#cc1212"/>
<circle cx="1370.5" cy="677.7" r="15.4" fill="#868686" stroke="#e88" stroke-width="0.5"/>
<path d="M1370.5 677.7 L1355.1 677.7 A15.4 15.4 0 0 1 1370.5 662.3 Z" fill="#cc1212"/>
<path d="M1370.5 677.7 L1385.9 677.7 A15.4 15.4 0 0 1 1370.5 693.1 Z" fill="#cc1212"/>
<circle cx="1370.5" cy="677.7" r="7.6" fill="#fff" stroke="#6b5a3a" stroke-width="0.5"/>
<circle cx="814.5" cy="246.4" r="16.2" fill="#cc1212"/>
<circle cx="814.5" cy="246.4" r="12.6" fill="#868686" stroke="#e88" stroke-width="0.5"/>
<path d="M814.5 246.4 L801.9 246.4 A12.6 12.6 0 0 1 814.5 233.8 Z" fill="#cc1212"/>
<path d="M814.5 246.4 L827.1 246.4 A12.6 12.6 0 0 1 814.5 259 Z" fill="#cc1212"/>
<circle cx="814.5" cy="246.4" r="6.2" fill="#fff" stroke="#6b5a3a" stroke-width="0.5"/>
<circle cx="814.5" cy="362.3" r="16.2" fill="#cc1212"/>
<circle cx="814.5" cy="362.3" r="12.6" fill="#868686" stroke="#e88" stroke-width="0.5"/>
<path d="M814.5 362.3 L801.9 362.3 A12.6 12.6 0 0 1 814.5 349.7 Z" fill="#cc1212"/>
<path d="M814.5 362.3 L827.1 362.3 A12.6 12.6 0 0 1 814.5 374.9 Z" fill="#cc1212"/>
<circle cx="814.5" cy="362.3" r="6.2" fill="#fff" stroke="#6b5a3a" stroke-width="0.5"/>
<circle cx="814.5" cy="476.4" r="16.2" fill="#cc1212"/>
<circle cx="814.5" cy="476.4" r="12.6" fill="#868686" stroke="#e88" stroke-width="0.5"/>
<path d="M814.5 476.4 L801.9 476.4 A12.6 12.6 0 0 1 814.5 463.8 Z" fill="#cc1212"/>
<path d="M814.5 476.4 L827.1 476.4 A12.6 12.6 0 0 1 814.5 489 Z" fill="#cc1212"/>
<circle cx="814.5" cy="476.4" r="6.2" fill="#fff" stroke="#6b5a3a" stroke-width="0.5"/>
<circle cx="1042.8" cy="246.4" r="16.2" fill="#cc1212"/>
<circle cx="1042.8" cy="246.4" r="12.6" fill="#868686" stroke="#e88" stroke-width="0.5"/>
<path d="M1042.8 246.4 L1030.1 246.4 A12.6 12.6 0 0 1 1042.8 233.8 Z" fill="#cc1212"/>
<path d="M1042.8 246.4 L1055.4 246.4 A12.6 12.6 0 0 1 1042.8 259 Z" fill="#cc1212"/>
<circle cx="1042.8" cy="246.4" r="6.2" fill="#fff" stroke="#6b5a3a" stroke-width="0.5"/>
<circle cx="1042.8" cy="362.3" r="16.2" fill="#cc1212"/>
<circle cx="1042.8" cy="362.3" r="12.6" fill="#868686" stroke="#e88" stroke-width="0.5"/>
<path d="M1042.8 362.3 L1030.1 362.3 A12.6 12.6 0 0 1 1042.8 349.7 Z" fill="#cc1212"/>
<path d="M1042.8 362.3 L1055.4 362.3 A12.6 12.6 0 0 1 1042.8 374.9 Z" fill="#cc1212"/>
<circle cx="1042.8" cy="362.3" r="6.2" fill="#fff" stroke="#6b5a3a" stroke-width="0.5"/>
<circle cx="1042.8" cy="476.4" r="16.2" fill="#cc1212"/>
<circle cx="1042.8" cy="476.4" r="12.6" fill="#868686" stroke="#e88" stroke-width="0.5"/>
<path d="M1042.8 476.4 L1030.1 476.4 A12.6 12.6 0 0 1 1042.8 463.8 Z" fill="#cc1212"/>
<path d="M1042.8 476.4 L1055.4 476.4 A12.6 12.6 0 0 1 1042.8 489 Z" fill="#cc1212"/>
<circle cx="1042.8" cy="476.4" r="6.2" fill="#fff" stroke="#6b5a3a" stroke-width="0.5"/>
<circle cx="1271" cy="246.4" r="16.2" fill="#cc1212"/>
<circle cx="1271" cy="246.4" r="12.6" fill="#868686" stroke="#e88" stroke-width="0.5"/>
<path d="M1271 246.4 L1258.4 246.4 A12.6 12.6 0 0 1 1271 233.8 Z" fill="#cc1212"/>
<path d="M1271 246.4 L1283.6 246.4 A12.6 12.6 0 0 1 1271 259 Z" fill="#cc1212"/>
<circle cx="1271" cy="246.4" r="6.2" fill="#fff" stroke="#6b5a3a" stroke-width="0.5"/>
<circle cx="1271" cy="362.3" r="16.2" fill="#cc1212"/>
<circle cx="1271" cy="362.3" r="12.6" fill="#868686" stroke="#e88" stroke-width="0.5"/>
<path d="M1271 362.3 L1258.4 362.3 A12.6 12.6 0 0 1 1271 349.7 Z" fill="#cc1212"/>
<path d="M1271 362.3 L1283.6 362.3 A12.6 12.6 0 0 1 1271 374.9 Z" fill="#cc1212"/>
<circle cx="1271" cy="362.3" r="6.2" fill="#fff" stroke="#6b5a3a" stroke-width="0.5"/>
<circle cx="1271" cy="476.4" r="16.2" fill="#cc1212"/>
<circle cx="1271" cy="476.4" r="12.6" fill="#868686" stroke="#e88" stroke-width="0.5"/>
<path d="M1271 476.4 L1258.4 476.4 A12.6 12.6 0 0 1 1271 463.8 Z" fill="#cc1212"/>
<path d="M1271 476.4 L1283.6 476.4 A12.6 12.6 0 0 1 1271 489 Z" fill="#cc1212"/>
<circle cx="1271" cy="476.4" r="6.2" fill="#fff" stroke="#6b5a3a" stroke-width="0.5"/>
<g fill="#12a05f">
<circle cx="68.2" cy="17" r="2.1"/>
<circle cx="146.2" cy="17" r="2.1"/>
<circle cx="186.2" cy="13.8" r="2.1"/>
<circle cx="192.8" cy="25.8" r="2.1"/>
<circle cx="206" cy="26.8" r="2.1"/>
<circle cx="79.5" cy="43" r="2.1"/>
<circle cx="122.8" cy="45.8" r="2.1"/>
<circle cx="88.2" cy="56.2" r="2.1"/>
<circle cx="21.8" cy="61.8" r="2.1"/>
<circle cx="30.5" cy="67.5" r="2.1"/>
<circle cx="32.5" cy="79.5" r="2.1"/>
<circle cx="115.2" cy="82.5" r="2.1"/>
<circle cx="176.8" cy="52.5" r="2.1"/>
<circle cx="248.2" cy="47.5" r="2.1"/>
<circle cx="332" cy="36.8" r="2.1"/>
<circle cx="36.2" cy="148.8" r="2.1"/>
<circle cx="81.8" cy="160" r="2.1"/>
<circle cx="130.5" cy="139" r="2.1"/>
<circle cx="115.5" cy="145" r="2.1"/>
<circle cx="674.2" cy="79" r="2.1"/>
<circle cx="682.2" cy="84" r="2.1"/>
<circle cx="861" cy="64.2" r="2.1"/>
<circle cx="931.5" cy="57.8" r="2.1"/>
<circle cx="1027" cy="60.5" r="2.1"/>
<circle cx="1042.2" cy="45.8" r="2.1"/>
<circle cx="1092.8" cy="13" r="2.1"/>
<circle cx="1176.5" cy="41.2" r="2.1"/>
<circle cx="1204.2" cy="45.2" r="2.1"/>
<circle cx="1275.5" cy="29.5" r="2.1"/>
<circle cx="1311.5" cy="48.2" r="2.1"/>
<circle cx="36.2" cy="148.9" r="2.1"/>
<circle cx="81.8" cy="160.2" r="2.1"/>
<circle cx="28.9" cy="181.6" r="2.1"/>
<circle cx="55.2" cy="201.1" r="2.1"/>
<circle cx="51.8" cy="207.4" r="2.1"/>
<circle cx="65.3" cy="206.9" r="2.1"/>
<circle cx="78.1" cy="200.1" r="2.1"/>
<circle cx="90" cy="194.7" r="2.1"/>
<circle cx="19.9" cy="235.1" r="2.1"/>
<circle cx="95.9" cy="242.2" r="2.1"/>
<circle cx="87.7" cy="264.5" r="2.1"/>
<circle cx="124.7" cy="261.9" r="2.1"/>
<circle cx="118.3" cy="268.2" r="2.1"/>
<circle cx="129.5" cy="276.3" r="2.1"/>
<circle cx="50.6" cy="271.1" r="2.1"/>
<circle cx="101.5" cy="314" r="2.1"/>
<circle cx="160.4" cy="311.8" r="2.1"/>
<circle cx="67.5" cy="323.7" r="2.1"/>
<circle cx="314.2" cy="278.1" r="2.1"/>
<circle cx="328.2" cy="318.8" r="2.1"/>
<circle cx="381.2" cy="272" r="2.1"/>
<circle cx="604.2" cy="317" r="2.1"/>
<circle cx="631" cy="321.2" r="2.1"/>
<circle cx="647.2" cy="321.5" r="2.1"/>
<circle cx="682.2" cy="316.5" r="2.1"/>
<circle cx="575.8" cy="346.5" r="2.1"/>
<circle cx="693.5" cy="337" r="2.1"/>
<circle cx="279.9" cy="485.5" r="2.1"/>
<circle cx="354.8" cy="474.2" r="2.1"/>
<circle cx="346.9" cy="480.3" r="2.1"/>
<circle cx="309.4" cy="513.5" r="2.1"/>
<circle cx="309.9" cy="528.7" r="2.1"/>
<circle cx="360.8" cy="510.7" r="2.1"/>
<circle cx="114.6" cy="394.9" r="2.1"/>
<circle cx="194" cy="361.5" r="2.1"/>
<circle cx="87.9" cy="409.4" r="2.1"/>
<circle cx="193.8" cy="361.5" r="2.1"/>
<circle cx="183.8" cy="374.8" r="2.1"/>
<circle cx="114.5" cy="394.8" r="2.1"/>
<circle cx="155" cy="397" r="2.1"/>
<circle cx="149.2" cy="404" r="2.1"/>
<circle cx="88" cy="409.5" r="2.1"/>
<circle cx="182.5" cy="414" r="2.1"/>
<circle cx="97.5" cy="429" r="2.1"/>
<circle cx="95" cy="438.5" r="2.1"/>
<circle cx="148.2" cy="441" r="2.1"/>
<circle cx="96.2" cy="450.8" r="2.1"/>
<circle cx="149.5" cy="469.5" r="2.1"/>
<circle cx="87" cy="529" r="2.1"/>
<circle cx="604.4" cy="317.4" r="2.1"/>
<circle cx="631.2" cy="321.2" r="2.1"/>
<circle cx="647.5" cy="321.5" r="2.1"/>
<circle cx="682.6" cy="317" r="2.1"/>
<circle cx="693.9" cy="337.2" r="2.1"/>
<circle cx="576.4" cy="346.7" r="2.1"/>
<circle cx="612.8" cy="358.3" r="2.1"/>
<circle cx="564.8" cy="362.5" r="2.1"/>
<circle cx="646.4" cy="361.1" r="2.1"/>
<circle cx="666.6" cy="366.8" r="2.1"/>
<circle cx="559.8" cy="380.3" r="2.1"/>
<circle cx="540" cy="384.9" r="2.1"/>
<circle cx="564.2" cy="362.8" r="2.1"/>
<circle cx="612.5" cy="358.2" r="2.1"/>
<circle cx="539.2" cy="384.8" r="2.1"/>
<circle cx="559.8" cy="380.2" r="2.1"/>
<circle cx="645.5" cy="361" r="2.1"/>
<circle cx="666" cy="366.5" r="2.1"/>
<circle cx="496.2" cy="444.5" r="2.1"/>
<circle cx="606.2" cy="478.2" r="2.1"/>
<circle cx="608.8" cy="504" r="2.1"/>
<circle cx="621" cy="509.8" r="2.1"/>
<circle cx="529" cy="522.8" r="2.1"/>
<circle cx="360.5" cy="510.8" r="2.1"/>
<circle cx="917.8" cy="387.2" r="2.1"/>
<circle cx="912.2" cy="412.8" r="2.1"/>
<circle cx="914.2" cy="427.2" r="2.1"/>
<circle cx="915.5" cy="437.5" r="2.1"/>
<circle cx="924" cy="444.2" r="2.1"/>
<circle cx="974.8" cy="393.2" r="2.1"/>
<circle cx="984.8" cy="423.5" r="2.1"/>
<circle cx="1009" cy="435.5" r="2.1"/>
<circle cx="1029.2" cy="388.2" r="2.1"/>
<circle cx="1027.2" cy="410" r="2.1"/>
<circle cx="1028" cy="447" r="2.1"/>
<circle cx="1046" cy="420.2" r="2.1"/>
<circle cx="866.5" cy="518.5" r="2.1"/>
<circle cx="739.2" cy="530.8" r="2.1"/>
<circle cx="1011" cy="530.8" r="2.1"/>
<circle cx="1026.8" cy="530.8" r="2.1"/>
<circle cx="1036.8" cy="530.8" r="2.1"/>
<circle cx="1086.5" cy="386.5" r="2.1"/>
<circle cx="1092.8" cy="429.5" r="2.1"/>
<circle cx="1076.5" cy="530.8" r="2.1"/>
<circle cx="117" cy="632" r="2.1"/>
<circle cx="193.2" cy="619" r="2.1"/>
<circle cx="207.8" cy="682" r="2.1"/>
<circle cx="288.8" cy="668" r="2.1"/>
<circle cx="288.8" cy="689.2" r="2.1"/>
<circle cx="295.8" cy="673.8" r="2.1"/>
<circle cx="338.2" cy="630.5" r="2.1"/>
<circle cx="339.2" cy="682.5" r="2.1"/>
<circle cx="608.9" cy="504.5" r="2.1"/>
<circle cx="608.9" cy="537.1" r="2.1"/>
<circle cx="621.6" cy="510.2" r="2.1"/>
<circle cx="621.6" cy="552.6" r="2.1"/>
<circle cx="596.5" cy="545.3" r="2.1"/>
<circle cx="508" cy="546.8" r="2.1"/>
<circle cx="421.2" cy="686.8" r="2.1"/>
<circle cx="556.2" cy="681.8" r="2.1"/>
<circle cx="658" cy="630" r="2.1"/>
<circle cx="660" cy="671.8" r="2.1"/>
<circle cx="676" cy="677.5" r="2.1"/>
<circle cx="661.8" cy="694.2" r="2.1"/>
<circle cx="705" cy="642.5" r="2.1"/>
<circle cx="739.8" cy="531.2" r="2.1"/>
<circle cx="930.2" cy="535" r="2.1"/>
<circle cx="1009.8" cy="545" r="2.1"/>
<circle cx="960.2" cy="567" r="2.1"/>
<circle cx="972.2" cy="568" r="2.1"/>
<circle cx="1041" cy="575.8" r="2.1"/>
<circle cx="1041" cy="584.2" r="2.1"/>
<circle cx="1058.5" cy="581.8" r="2.1"/>
<circle cx="1029.8" cy="598.2" r="2.1"/>
<circle cx="1038" cy="594.5" r="2.1"/>
<circle cx="1044" cy="598" r="2.1"/>
<circle cx="1020.5" cy="604.2" r="2.1"/>
<circle cx="1035.2" cy="606.2" r="2.1"/>
<circle cx="1070.5" cy="609.5" r="2.1"/>
<circle cx="1058.5" cy="616.2" r="2.1"/>
<circle cx="930.2" cy="626.2" r="2.1"/>
<circle cx="944.8" cy="625" r="2.1"/>
<circle cx="952.2" cy="623.2" r="2.1"/>
<circle cx="966" cy="624.2" r="2.1"/>
<circle cx="961" cy="637.5" r="2.1"/>
<circle cx="899.8" cy="639.5" r="2.1"/>
<circle cx="984.2" cy="661.8" r="2.1"/>
<circle cx="845.5" cy="674.2" r="2.1"/>
<circle cx="764.8" cy="666.2" r="2.1"/>
<circle cx="1076" cy="577" r="2.1"/>
<circle cx="1081.4" cy="584.9" r="2.1"/>
<circle cx="1082.7" cy="597.8" r="2.1"/>
<circle cx="1140.3" cy="584.3" r="2.1"/>
<circle cx="1105.7" cy="620.7" r="2.1"/>
<circle cx="1145.8" cy="627.8" r="2.1"/>
<circle cx="1110.2" cy="689.2" r="2.1"/>
<circle cx="1100.3" cy="559.4" r="2.1"/>
<circle cx="1071.2" cy="609.2" r="2.1"/>
<circle cx="1209.5" cy="576.8" r="2.1"/>
<circle cx="1276" cy="570" r="2.1"/>
<circle cx="1258.5" cy="626.2" r="2.1"/>
<circle cx="1229" cy="653" r="2.1"/>
<circle cx="1353.2" cy="582.5" r="2.1"/>
<circle cx="1275.8" cy="669.2" r="2.1"/>
<circle cx="1281" cy="688.8" r="2.1"/>
<circle cx="1346.5" cy="657.2" r="2.1"/>
<circle cx="1284" cy="654.2" r="2.1"/>
</g>
<g fill="#6f9f8c">
<circle cx="68.2" cy="17" r="0.7"/>
<circle cx="146.2" cy="17" r="0.7"/>
<circle cx="186.2" cy="13.8" r="0.7"/>
<circle cx="192.8" cy="25.8" r="0.7"/>
<circle cx="206" cy="26.8" r="0.7"/>
<circle cx="79.5" cy="43" r="0.7"/>
<circle cx="122.8" cy="45.8" r="0.7"/>
<circle cx="88.2" cy="56.2" r="0.7"/>
<circle cx="21.8" cy="61.8" r="0.7"/>
<circle cx="30.5" cy="67.5" r="0.7"/>
<circle cx="32.5" cy="79.5" r="0.7"/>
<circle cx="115.2" cy="82.5" r="0.7"/>
<circle cx="176.8" cy="52.5" r="0.7"/>
<circle cx="248.2" cy="47.5" r="0.7"/>
<circle cx="332" cy="36.8" r="0.7"/>
<circle cx="36.2" cy="148.8" r="0.7"/>
<circle cx="81.8" cy="160" r="0.7"/>
<circle cx="130.5" cy="139" r="0.7"/>
<circle cx="115.5" cy="145" r="0.7"/>
<circle cx="674.2" cy="79" r="0.7"/>
<circle cx="682.2" cy="84" r="0.7"/>
<circle cx="861" cy="64.2" r="0.7"/>
<circle cx="931.5" cy="57.8" r="0.7"/>
<circle cx="1027" cy="60.5" r="0.7"/>
<circle cx="1042.2" cy="45.8" r="0.7"/>
<circle cx="1092.8" cy="13" r="0.7"/>
<circle cx="1176.5" cy="41.2" r="0.7"/>
<circle cx="1204.2" cy="45.2" r="0.7"/>
<circle cx="1275.5" cy="29.5" r="0.7"/>
<circle cx="1311.5" cy="48.2" r="0.7"/>
<circle cx="36.2" cy="148.9" r="0.7"/>
<circle cx="81.8" cy="160.2" r="0.7"/>
<circle cx="28.9" cy="181.6" r="0.7"/>
<circle cx="55.2" cy="201.1" r="0.7"/>
<circle cx="51.8" cy="207.4" r="0.7"/>
<circle cx="65.3" cy="206.9" r="0.7"/>
<circle cx="78.1" cy="200.1" r="0.7"/>
<circle cx="90" cy="194.7" r="0.7"/>
<circle cx="19.9" cy="235.1" r="0.7"/>
<circle cx="95.9" cy="242.2" r="0.7"/>
<circle cx="87.7" cy="264.5" r="0.7"/>
<circle cx="124.7" cy="261.9" r="0.7"/>
<circle cx="118.3" cy="268.2" r="0.7"/>
<circle cx="129.5" cy="276.3" r="0.7"/>
<circle cx="50.6" cy="271.1" r="0.7"/>
<circle cx="101.5" cy="314" r="0.7"/>
<circle cx="160.4" cy="311.8" r="0.7"/>
<circle cx="67.5" cy="323.7" r="0.7"/>
<circle cx="314.2" cy="278.1" r="0.7"/>
<circle cx="328.2" cy="318.8" r="0.7"/>
<circle cx="381.2" cy="272" r="0.7"/>
<circle cx="604.2" cy="317" r="0.7"/>
<circle cx="631" cy="321.2" r="0.7"/>
<circle cx="647.2" cy="321.5" r="0.7"/>
<circle cx="682.2" cy="316.5" r="0.7"/>
<circle cx="575.8" cy="346.5" r="0.7"/>
<circle cx="693.5" cy="337" r="0.7"/>
<circle cx="279.9" cy="485.5" r="0.7"/>
<circle cx="354.8" cy="474.2" r="0.7"/>
<circle cx="346.9" cy="480.3" r="0.7"/>
<circle cx="309.4" cy="513.5" r="0.7"/>
<circle cx="309.9" cy="528.7" r="0.7"/>
<circle cx="360.8" cy="510.7" r="0.7"/>
<circle cx="114.6" cy="394.9" r="0.7"/>
<circle cx="194" cy="361.5" r="0.7"/>
<circle cx="87.9" cy="409.4" r="0.7"/>
<circle cx="193.8" cy="361.5" r="0.7"/>
<circle cx="183.8" cy="374.8" r="0.7"/>
<circle cx="114.5" cy="394.8" r="0.7"/>
<circle cx="155" cy="397" r="0.7"/>
<circle cx="149.2" cy="404" r="0.7"/>
<circle cx="88" cy="409.5" r="0.7"/>
<circle cx="182.5" cy="414" r="0.7"/>
<circle cx="97.5" cy="429" r="0.7"/>
<circle cx="95" cy="438.5" r="0.7"/>
<circle cx="148.2" cy="441" r="0.7"/>
<circle cx="96.2" cy="450.8" r="0.7"/>
<circle cx="149.5" cy="469.5" r="0.7"/>
<circle cx="87" cy="529" r="0.7"/>
<circle cx="604.4" cy="317.4" r="0.7"/>
<circle cx="631.2" cy="321.2" r="0.7"/>
<circle cx="647.5" cy="321.5" r="0.7"/>
<circle cx="682.6" cy="317" r="0.7"/>
<circle cx="693.9" cy="337.2" r="0.7"/>
<circle cx="576.4" cy="346.7" r="0.7"/>
<circle cx="612.8" cy="358.3" r="0.7"/>
<circle cx="564.8" cy="362.5" r="0.7"/>
<circle cx="646.4" cy="361.1" r="0.7"/>
<circle cx="666.6" cy="366.8" r="0.7"/>
<circle cx="559.8" cy="380.3" r="0.7"/>
<circle cx="540" cy="384.9" r="0.7"/>
<circle cx="564.2" cy="362.8" r="0.7"/>
<circle cx="612.5" cy="358.2" r="0.7"/>
<circle cx="539.2" cy="384.8" r="0.7"/>
<circle cx="559.8" cy="380.2" r="0.7"/>
<circle cx="645.5" cy="361" r="0.7"/>
<circle cx="666" cy="366.5" r="0.7"/>
<circle cx="496.2" cy="444.5" r="0.7"/>
<circle cx="606.2" cy="478.2" r="0.7"/>
<circle cx="608.8" cy="504" r="0.7"/>
<circle cx="621" cy="509.8" r="0.7"/>
<circle cx="529" cy="522.8" r="0.7"/>
<circle cx="360.5" cy="510.8" r="0.7"/>
<circle cx="917.8" cy="387.2" r="0.7"/>
<circle cx="912.2" cy="412.8" r="0.7"/>
<circle cx="914.2" cy="427.2" r="0.7"/>
<circle cx="915.5" cy="437.5" r="0.7"/>
<circle cx="924" cy="444.2" r="0.7"/>
<circle cx="974.8" cy="393.2" r="0.7"/>
<circle cx="984.8" cy="423.5" r="0.7"/>
<circle cx="1009" cy="435.5" r="0.7"/>
<circle cx="1029.2" cy="388.2" r="0.7"/>
<circle cx="1027.2" cy="410" r="0.7"/>
<circle cx="1028" cy="447" r="0.7"/>
<circle cx="1046" cy="420.2" r="0.7"/>
<circle cx="866.5" cy="518.5" r="0.7"/>
<circle cx="739.2" cy="530.8" r="0.7"/>
<circle cx="1011" cy="530.8" r="0.7"/>
<circle cx="1026.8" cy="530.8" r="0.7"/>
<circle cx="1036.8" cy="530.8" r="0.7"/>
<circle cx="1086.5" cy="386.5" r="0.7"/>
<circle cx="1092.8" cy="429.5" r="0.7"/>
<circle cx="1076.5" cy="530.8" r="0.7"/>
<circle cx="117" cy="632" r="0.7"/>
<circle cx="193.2" cy="619" r="0.7"/>
<circle cx="207.8" cy="682" r="0.7"/>
<circle cx="288.8" cy="668" r="0.7"/>
<circle cx="288.8" cy="689.2" r="0.7"/>
<circle cx="295.8" cy="673.8" r="0.7"/>
<circle cx="338.2" cy="630.5" r="0.7"/>
<circle cx="339.2" cy="682.5" r="0.7"/>
<circle cx="608.9" cy="504.5" r="0.7"/>
<circle cx="608.9" cy="537.1" r="0.7"/>
<circle cx="621.6" cy="510.2" r="0.7"/>
<circle cx="621.6" cy="552.6" r="0.7"/>
<circle cx="596.5" cy="545.3" r="0.7"/>
<circle cx="508" cy="546.8" r="0.7"/>
<circle cx="421.2" cy="686.8" r="0.7"/>
<circle cx="556.2" cy="681.8" r="0.7"/>
<circle cx="658" cy="630" r="0.7"/>
<circle cx="660" cy="671.8" r="0.7"/>
<circle cx="676" cy="677.5" r="0.7"/>
<circle cx="661.8" cy="694.2" r="0.7"/>
<circle cx="705" cy="642.5" r="0.7"/>
<circle cx="739.8" cy="531.2" r="0.7"/>
<circle cx="930.2" cy="535" r="0.7"/>
<circle cx="1009.8" cy="545" r="0.7"/>
<circle cx="960.2" cy="567" r="0.7"/>
<circle cx="972.2" cy="568" r="0.7"/>
<circle cx="1041" cy="575.8" r="0.7"/>
<circle cx="1041" cy="584.2" r="0.7"/>
<circle cx="1058.5" cy="581.8" r="0.7"/>
<circle cx="1029.8" cy="598.2" r="0.7"/>
<circle cx="1038" cy="594.5" r="0.7"/>
<circle cx="1044" cy="598" r="0.7"/>
<circle cx="1020.5" cy="604.2" r="0.7"/>
<circle cx="1035.2" cy="606.2" r="0.7"/>
<circle cx="1070.5" cy="609.5" r="0.7"/>
<circle cx="1058.5" cy="616.2" r="0.7"/>
<circle cx="930.2" cy="626.2" r="0.7"/>
<circle cx="944.8" cy="625" r="0.7"/>
<circle cx="952.2" cy="623.2" r="0.7"/>
<circle cx="966" cy="624.2" r="0.7"/>
<circle cx="961" cy="637.5" r="0.7"/>
<circle cx="899.8" cy="639.5" r="0.7"/>
<circle cx="984.2" cy="661.8" r="0.7"/>
<circle cx="845.5" cy="674.2" r="0.7"/>
<circle cx="764.8" cy="666.2" r="0.7"/>
<circle cx="1076" cy="577" r="0.7"/>
<circle cx="1081.4" cy="584.9" r="0.7"/>
<circle cx="1082.7" cy="597.8" r="0.7"/>
<circle cx="1140.3" cy="584.3" r="0.7"/>
<circle cx="1105.7" cy="620.7" r="0.7"/>
<circle cx="1145.8" cy="627.8" r="0.7"/>
<circle cx="1110.2" cy="689.2" r="0.7"/>
<circle cx="1100.3" cy="559.4" r="0.7"/>
<circle cx="1071.2" cy="609.2" r="0.7"/>
<circle cx="1209.5" cy="576.8" r="0.7"/>
<circle cx="1276" cy="570" r="0.7"/>
<circle cx="1258.5" cy="626.2" r="0.7"/>
<circle cx="1229" cy="653" r="0.7"/>
<circle cx="1353.2" cy="582.5" r="0.7"/>
<circle cx="1275.8" cy="669.2" r="0.7"/>
<circle cx="1281" cy="688.8" r="0.7"/>
<circle cx="1346.5" cy="657.2" r="0.7"/>
<circle cx="1284" cy="654.2" r="0.7"/>
</g>
<g fill="#fff" stroke="#12a05f" stroke-width="1.7">
<circle cx="197.5" cy="82.5" r="2.9"/>
<circle cx="215.5" cy="105" r="2.9"/>
<circle cx="238" cy="128.8" r="2.9"/>
<circle cx="75.5" cy="124.2" r="2.9"/>
<circle cx="108.5" cy="153.2" r="2.9"/>
<circle cx="324.2" cy="68.2" r="2.9"/>
<circle cx="343.2" cy="67" r="2.9"/>
<circle cx="357" cy="67" r="2.9"/>
<circle cx="312" cy="95.5" r="2.9"/>
<circle cx="331.5" cy="95.5" r="2.9"/>
<circle cx="302.5" cy="113.2" r="2.9"/>
<circle cx="399.5" cy="18.8" r="2.9"/>
<circle cx="384.2" cy="69.5" r="2.9"/>
<circle cx="544.2" cy="18" r="2.9"/>
<circle cx="552" cy="41.2" r="2.9"/>
<circle cx="563.5" cy="38" r="2.9"/>
<circle cx="536.2" cy="68.8" r="2.9"/>
<circle cx="611.5" cy="63" r="2.9"/>
<circle cx="644.8" cy="66.2" r="2.9"/>
<circle cx="578.8" cy="82.5" r="2.9"/>
<circle cx="584.8" cy="93" r="2.9"/>
<circle cx="653.5" cy="106.2" r="2.9"/>
<circle cx="371" cy="170" r="2.9"/>
<circle cx="1334.5" cy="101.5" r="2.9"/>
<circle cx="138.8" cy="232" r="2.9"/>
<circle cx="28.9" cy="255.8" r="2.9"/>
<circle cx="18.7" cy="275.3" r="2.9"/>
<circle cx="132.4" cy="251.2" r="2.9"/>
<circle cx="192.1" cy="250.4" r="2.9"/>
<circle cx="148.8" cy="289.9" r="2.9"/>
<circle cx="124.7" cy="305.9" r="2.9"/>
<circle cx="181.6" cy="336.6" r="2.9"/>
<circle cx="296.2" cy="188.8" r="2.9"/>
<circle cx="313.2" cy="195" r="2.9"/>
<circle cx="252" cy="212" r="2.9"/>
<circle cx="278" cy="215.8" r="2.9"/>
<circle cx="263.8" cy="245" r="2.9"/>
<circle cx="245.8" cy="272.2" r="2.9"/>
<circle cx="288" cy="274.5" r="2.9"/>
<circle cx="258.2" cy="301.5" r="2.9"/>
<circle cx="295.5" cy="307" r="2.9"/>
<circle cx="295.2" cy="319.2" r="2.9"/>
<circle cx="300.5" cy="334.2" r="2.9"/>
<circle cx="305" cy="347" r="2.9"/>
<circle cx="551" cy="187" r="2.9"/>
<circle cx="465.5" cy="223" r="2.9"/>
<circle cx="554.8" cy="246.5" r="2.9"/>
<circle cx="529" cy="271" r="2.9"/>
<circle cx="544.5" cy="294" r="2.9"/>
<circle cx="555.5" cy="315.2" r="2.9"/>
<circle cx="411.2" cy="272" r="2.9"/>
<circle cx="393.5" cy="326.2" r="2.9"/>
<circle cx="368" cy="321.5" r="2.9"/>
<circle cx="367.2" cy="344" r="2.9"/>
<circle cx="651.5" cy="278.8" r="2.9"/>
<circle cx="274.2" cy="447.4" r="2.9"/>
<circle cx="243.8" cy="482" r="2.9"/>
<circle cx="237.3" cy="493.5" r="2.9"/>
<circle cx="327.5" cy="517.8" r="2.9"/>
<circle cx="273.5" cy="534.8" r="2.9"/>
<circle cx="45" cy="362.2" r="2.9"/>
<circle cx="38.8" cy="403.2" r="2.9"/>
<circle cx="45.5" cy="429.8" r="2.9"/>
<circle cx="55.5" cy="476.8" r="2.9"/>
<circle cx="138.2" cy="393.2" r="2.9"/>
<circle cx="166.2" cy="478.5" r="2.9"/>
<circle cx="274" cy="447.5" r="2.9"/>
<circle cx="304.2" cy="357.8" r="2.9"/>
<circle cx="315" cy="366.5" r="2.9"/>
<circle cx="70.8" cy="527.2" r="2.9"/>
<circle cx="155.2" cy="530.8" r="2.9"/>
<circle cx="364.2" cy="357" r="2.9"/>
<circle cx="393.8" cy="377.2" r="2.9"/>
<circle cx="387.5" cy="392" r="2.9"/>
<circle cx="504.2" cy="360.2" r="2.9"/>
<circle cx="384.2" cy="414" r="2.9"/>
<circle cx="378.8" cy="433.2" r="2.9"/>
<circle cx="430" cy="475" r="2.9"/>
<circle cx="529.2" cy="461.5" r="2.9"/>
<circle cx="514.2" cy="472.2" r="2.9"/>
<circle cx="530" cy="485.8" r="2.9"/>
<circle cx="513.5" cy="519" r="2.9"/>
<circle cx="621" cy="482.2" r="2.9"/>
<circle cx="673.5" cy="449" r="2.9"/>
<circle cx="674.2" cy="469" r="2.9"/>
<circle cx="640.5" cy="529" r="2.9"/>
<circle cx="1293.5" cy="391" r="2.9"/>
<circle cx="1218.5" cy="404.5" r="2.9"/>
<circle cx="1149" cy="443.2" r="2.9"/>
<circle cx="1315.2" cy="450.2" r="2.9"/>
<circle cx="1367" cy="450.2" r="2.9"/>
<circle cx="1307.8" cy="521" r="2.9"/>
<circle cx="1184" cy="530.8" r="2.9"/>
<circle cx="40" cy="611" r="2.9"/>
<circle cx="223.2" cy="544" r="2.9"/>
<circle cx="211.5" cy="645" r="2.9"/>
<circle cx="129.5" cy="665" r="2.9"/>
<circle cx="149.5" cy="684.8" r="2.9"/>
<circle cx="174.8" cy="678" r="2.9"/>
<circle cx="286.2" cy="639.5" r="2.9"/>
<circle cx="338.2" cy="600" r="2.9"/>
<circle cx="273.8" cy="535" r="2.9"/>
<circle cx="351.2" cy="677.5" r="2.9"/>
<circle cx="549.2" cy="604.5" r="2.9"/>
<circle cx="586.8" cy="653.8" r="2.9"/>
<circle cx="612.2" cy="653.8" r="2.9"/>
<circle cx="551.2" cy="673" r="2.9"/>
<circle cx="639.2" cy="530" r="2.9"/>
<circle cx="951.8" cy="550.8" r="2.9"/>
<circle cx="946" cy="563" r="2.9"/>
<circle cx="849.8" cy="637.5" r="2.9"/>
<circle cx="955.5" cy="650.2" r="2.9"/>
<circle cx="1058" cy="648" r="2.9"/>
<circle cx="1114.9" cy="611" r="2.9"/>
<circle cx="1109.5" cy="667.4" r="2.9"/>
<circle cx="1234" cy="665" r="2.9"/>
<circle cx="1184" cy="532" r="2.9"/>
<circle cx="1264.5" cy="576.8" r="2.9"/>
<circle cx="1311.5" cy="560.2" r="2.9"/>
</g>
<circle cx="744" cy="148.8" r="4.9" fill="#fff" stroke="#12a05f" stroke-width="2.3"/>
<circle cx="332.5" cy="206.5" r="4.5" fill="#fff" stroke="#12a05f" stroke-width="2.3"/>
<circle cx="539.2" cy="225" r="2" fill="#fff" stroke="#12a05f" stroke-width="1.3"/>
<circle cx="619.8" cy="228.8" r="2" fill="#fff" stroke="#12a05f" stroke-width="1.3"/>
<circle cx="556.2" cy="326.2" r="2" fill="#fff" stroke="#12a05f" stroke-width="1.3"/>
<circle cx="503" cy="261.5" r="4.6" fill="#fff" stroke="#12a05f" stroke-width="2.2"/>
<circle cx="619.5" cy="238" r="4.6" fill="#fff" stroke="#12a05f" stroke-width="2.2"/>
<circle cx="719" cy="248.8" r="4.6" fill="#fff" stroke="#12a05f" stroke-width="2.2"/>
<circle cx="722.2" cy="294" r="4.6" fill="#fff" stroke="#12a05f" stroke-width="2.2"/>
<circle cx="959.8" cy="287" r="4.6" fill="#fff" stroke="#12a05f" stroke-width="2.2"/>
<circle cx="1360.2" cy="210.8" r="4.6" fill="#fff" stroke="#12a05f" stroke-width="2.2"/>
<circle cx="1348.2" cy="340.8" r="4.6" fill="#fff" stroke="#12a05f" stroke-width="2.2"/>
<circle cx="25.1" cy="351.8" r="5" fill="#fff" stroke="#12a05f" stroke-width="2.4"/>
<circle cx="364.2" cy="364.5" r="2" fill="#fff" stroke="#12a05f" stroke-width="1.3"/>
<circle cx="858" cy="425.8" r="4.6" fill="#fff" stroke="#12a05f" stroke-width="2.2"/>
<circle cx="935.2" cy="524.2" r="2" fill="#fff" stroke="#12a05f" stroke-width="1.3"/>
<circle cx="225.8" cy="570" r="4.6" fill="#fff" stroke="#12a05f" stroke-width="2.2"/>
<circle cx="546.8" cy="649.5" r="4.6" fill="#fff" stroke="#12a05f" stroke-width="2.2"/>
<circle cx="732.2" cy="611.2" r="2" fill="#fff" stroke="#12a05f" stroke-width="1.3"/>
<circle cx="894.8" cy="577.5" r="2" fill="#fff" stroke="#12a05f" stroke-width="1.3"/>
<circle cx="913" cy="659.2" r="4.6" fill="#fff" stroke="#12a05f" stroke-width="2.2"/>
<circle cx="1312.8" cy="624.2" r="2" fill="#fff" stroke="#12a05f" stroke-width="1.3"/>
<circle cx="133.8" cy="38.8" r="5.7" fill="#fff" stroke="#12a05f" stroke-width="2.5"/>
<rect x="132.1" y="37" width="3.4" height="3.4" rx="0.8" fill="#8e8e78"/>
<rect x="132.7" y="38" width="2.2" height="1.4" fill="#b5d334"/>
<circle cx="109.2" cy="48.2" r="5.7" fill="#fff" stroke="#12a05f" stroke-width="2.5"/>
<rect x="107.5" y="46.5" width="3.4" height="3.4" rx="0.8" fill="#8e8e78"/>
<rect x="108.2" y="47.5" width="2.2" height="1.4" fill="#b5d334"/>
<circle cx="96" cy="73.5" r="5.7" fill="#fff" stroke="#12a05f" stroke-width="2.5"/>
<rect x="94.3" y="71.8" width="3.4" height="3.4" rx="0.8" fill="#8e8e78"/>
<rect x="94.9" y="72.8" width="2.2" height="1.4" fill="#b5d334"/>
<circle cx="67.5" cy="87.5" r="5.7" fill="#fff" stroke="#12a05f" stroke-width="2.5"/>
<rect x="65.8" y="85.8" width="3.4" height="3.4" rx="0.8" fill="#8e8e78"/>
<rect x="66.4" y="86.8" width="2.2" height="1.4" fill="#b5d334"/>
<circle cx="179.5" cy="77.5" r="5.7" fill="#fff" stroke="#12a05f" stroke-width="2.5"/>
<rect x="177.8" y="75.8" width="3.4" height="3.4" rx="0.8" fill="#8e8e78"/>
<rect x="178.4" y="76.8" width="2.2" height="1.4" fill="#b5d334"/>
<circle cx="199.2" cy="59.5" r="5.7" fill="#fff" stroke="#12a05f" stroke-width="2.5"/>
<rect x="197.6" y="57.8" width="3.4" height="3.4" rx="0.8" fill="#8e8e78"/>
<rect x="198.2" y="58.8" width="2.2" height="1.4" fill="#b5d334"/>
<circle cx="269.5" cy="51.8" r="5.7" fill="#fff" stroke="#12a05f" stroke-width="2.5"/>
<rect x="267.8" y="50" width="3.4" height="3.4" rx="0.8" fill="#8e8e78"/>
<rect x="268.4" y="51" width="2.2" height="1.4" fill="#b5d334"/>
<circle cx="308" cy="26.8" r="5.7" fill="#fff" stroke="#12a05f" stroke-width="2.5"/>
<rect x="306.3" y="25.1" width="3.4" height="3.4" rx="0.8" fill="#8e8e78"/>
<rect x="306.9" y="26.1" width="2.2" height="1.4" fill="#b5d334"/>
<circle cx="302.5" cy="130.5" r="5.7" fill="#fff" stroke="#12a05f" stroke-width="2.5"/>
<rect x="300.8" y="128.8" width="3.4" height="3.4" rx="0.8" fill="#8e8e78"/>
<rect x="301.4" y="129.8" width="2.2" height="1.4" fill="#b5d334"/>
<circle cx="332" cy="170" r="5.7" fill="#fff" stroke="#12a05f" stroke-width="2.5"/>
<rect x="330.3" y="168.3" width="3.4" height="3.4" rx="0.8" fill="#8e8e78"/>
<rect x="330.9" y="169.3" width="2.2" height="1.4" fill="#b5d334"/>
<circle cx="546.2" cy="164.5" r="5.7" fill="#fff" stroke="#12a05f" stroke-width="2.5"/>
<rect x="544.5" y="162.8" width="3.4" height="3.4" rx="0.8" fill="#8e8e78"/>
<rect x="545.1" y="163.8" width="2.2" height="1.4" fill="#b5d334"/>
<circle cx="815.2" cy="35.5" r="5.7" fill="#fff" stroke="#12a05f" stroke-width="2.5"/>
<rect x="813.5" y="33.8" width="3.4" height="3.4" rx="0.8" fill="#8e8e78"/>
<rect x="814.1" y="34.8" width="2.2" height="1.4" fill="#b5d334"/>
<circle cx="888.2" cy="19.5" r="5.7" fill="#fff" stroke="#12a05f" stroke-width="2.5"/>
<rect x="886.5" y="17.8" width="3.4" height="3.4" rx="0.8" fill="#8e8e78"/>
<rect x="887.1" y="18.8" width="2.2" height="1.4" fill="#b5d334"/>
<circle cx="895.8" cy="43" r="5.7" fill="#fff" stroke="#12a05f" stroke-width="2.5"/>
<rect x="894" y="41.3" width="3.4" height="3.4" rx="0.8" fill="#8e8e78"/>
<rect x="894.6" y="42.3" width="2.2" height="1.4" fill="#b5d334"/>
<circle cx="1224.8" cy="68.8" r="5.7" fill="#fff" stroke="#12a05f" stroke-width="2.5"/>
<rect x="1223" y="67" width="3.4" height="3.4" rx="0.8" fill="#8e8e78"/>
<rect x="1223.7" y="68" width="2.2" height="1.4" fill="#b5d334"/>
<circle cx="140" cy="195.2" r="5.7" fill="#fff" stroke="#12a05f" stroke-width="2.5"/>
<rect x="138.3" y="193.5" width="3.4" height="3.4" rx="0.8" fill="#8e8e78"/>
<rect x="138.9" y="194.5" width="2.2" height="1.4" fill="#b5d334"/>
<circle cx="180.2" cy="273.8" r="5.7" fill="#fff" stroke="#12a05f" stroke-width="2.5"/>
<rect x="178.5" y="272.1" width="3.4" height="3.4" rx="0.8" fill="#8e8e78"/>
<rect x="179.1" y="273.1" width="2.2" height="1.4" fill="#b5d334"/>
<circle cx="26.3" cy="322.5" r="5.7" fill="#fff" stroke="#12a05f" stroke-width="2.5"/>
<rect x="24.6" y="320.8" width="3.4" height="3.4" rx="0.8" fill="#8e8e78"/>
<rect x="25.2" y="321.8" width="2.2" height="1.4" fill="#b5d334"/>
<circle cx="317.5" cy="335.5" r="5.7" fill="#fff" stroke="#12a05f" stroke-width="2.5"/>
<rect x="315.8" y="333.8" width="3.4" height="3.4" rx="0.8" fill="#8e8e78"/>
<rect x="316.4" y="334.8" width="2.2" height="1.4" fill="#b5d334"/>
<circle cx="370" cy="194.5" r="5.7" fill="#fff" stroke="#12a05f" stroke-width="2.5"/>
<rect x="368.3" y="192.8" width="3.4" height="3.4" rx="0.8" fill="#8e8e78"/>
<rect x="368.9" y="193.8" width="2.2" height="1.4" fill="#b5d334"/>
<circle cx="657.8" cy="265.8" r="5.7" fill="#fff" stroke="#12a05f" stroke-width="2.5"/>
<rect x="656" y="264.1" width="3.4" height="3.4" rx="0.8" fill="#8e8e78"/>
<rect x="656.6" y="265.1" width="2.2" height="1.4" fill="#b5d334"/>
<circle cx="634.2" cy="337.5" r="5.7" fill="#fff" stroke="#12a05f" stroke-width="2.5"/>
<rect x="632.5" y="335.8" width="3.4" height="3.4" rx="0.8" fill="#8e8e78"/>
<rect x="633.1" y="336.8" width="2.2" height="1.4" fill="#b5d334"/>
<circle cx="703" cy="348.2" r="5.7" fill="#fff" stroke="#12a05f" stroke-width="2.5"/>
<rect x="701.3" y="346.6" width="3.4" height="3.4" rx="0.8" fill="#8e8e78"/>
<rect x="701.9" y="347.6" width="2.2" height="1.4" fill="#b5d334"/>
<circle cx="813.5" cy="311.2" r="5.7" fill="#fff" stroke="#12a05f" stroke-width="2.5"/>
<rect x="811.8" y="309.6" width="3.4" height="3.4" rx="0.8" fill="#8e8e78"/>
<rect x="812.4" y="310.6" width="2.2" height="1.4" fill="#b5d334"/>
<circle cx="265.3" cy="497.6" r="5.7" fill="#fff" stroke="#12a05f" stroke-width="2.5"/>
<rect x="263.6" y="495.9" width="3.4" height="3.4" rx="0.8" fill="#8e8e78"/>
<rect x="264.2" y="496.9" width="2.2" height="1.4" fill="#b5d334"/>
<circle cx="322.6" cy="535.8" r="5.7" fill="#fff" stroke="#12a05f" stroke-width="2.5"/>
<rect x="320.9" y="534.1" width="3.4" height="3.4" rx="0.8" fill="#8e8e78"/>
<rect x="321.5" y="535.1" width="2.2" height="1.4" fill="#b5d334"/>
<circle cx="63.2" cy="364.5" r="5.7" fill="#fff" stroke="#12a05f" stroke-width="2.5"/>
<rect x="61.5" y="362.8" width="3.4" height="3.4" rx="0.8" fill="#8e8e78"/>
<rect x="62.1" y="363.8" width="2.2" height="1.4" fill="#b5d334"/>
<circle cx="224" cy="397.2" r="5.7" fill="#fff" stroke="#12a05f" stroke-width="2.5"/>
<rect x="222.3" y="395.6" width="3.4" height="3.4" rx="0.8" fill="#8e8e78"/>
<rect x="222.9" y="396.6" width="2.2" height="1.4" fill="#b5d334"/>
<circle cx="184.2" cy="429.2" r="5.7" fill="#fff" stroke="#12a05f" stroke-width="2.5"/>
<rect x="182.6" y="427.6" width="3.4" height="3.4" rx="0.8" fill="#8e8e78"/>
<rect x="183.2" y="428.6" width="2.2" height="1.4" fill="#b5d334"/>
<circle cx="158" cy="456" r="5.7" fill="#fff" stroke="#12a05f" stroke-width="2.5"/>
<rect x="156.3" y="454.3" width="3.4" height="3.4" rx="0.8" fill="#8e8e78"/>
<rect x="156.9" y="455.3" width="2.2" height="1.4" fill="#b5d334"/>
<circle cx="627.7" cy="362.7" r="5.7" fill="#fff" stroke="#12a05f" stroke-width="2.5"/>
<rect x="626" y="361" width="3.4" height="3.4" rx="0.8" fill="#8e8e78"/>
<rect x="626.6" y="362" width="2.2" height="1.4" fill="#b5d334"/>
<circle cx="682.9" cy="370.3" r="5.7" fill="#fff" stroke="#12a05f" stroke-width="2.5"/>
<rect x="681.2" y="368.6" width="3.4" height="3.4" rx="0.8" fill="#8e8e78"/>
<rect x="681.8" y="369.6" width="2.2" height="1.4" fill="#b5d334"/>
<circle cx="641.8" cy="381.8" r="5.7" fill="#fff" stroke="#12a05f" stroke-width="2.5"/>
<rect x="640.1" y="380.1" width="3.4" height="3.4" rx="0.8" fill="#8e8e78"/>
<rect x="640.7" y="381.1" width="2.2" height="1.4" fill="#b5d334"/>
<circle cx="666.3" cy="391.7" r="5.7" fill="#fff" stroke="#12a05f" stroke-width="2.5"/>
<rect x="664.6" y="390" width="3.4" height="3.4" rx="0.8" fill="#8e8e78"/>
<rect x="665.2" y="391" width="2.2" height="1.4" fill="#b5d334"/>
<circle cx="668.5" cy="509.5" r="5.7" fill="#fff" stroke="#12a05f" stroke-width="2.5"/>
<rect x="666.8" y="507.8" width="3.4" height="3.4" rx="0.8" fill="#8e8e78"/>
<rect x="667.4" y="508.8" width="2.2" height="1.4" fill="#b5d334"/>
<circle cx="984.5" cy="404.8" r="5.7" fill="#fff" stroke="#12a05f" stroke-width="2.5"/>
<rect x="982.8" y="403.1" width="3.4" height="3.4" rx="0.8" fill="#8e8e78"/>
<rect x="983.4" y="404.1" width="2.2" height="1.4" fill="#b5d334"/>
<circle cx="984.8" cy="441.5" r="5.7" fill="#fff" stroke="#12a05f" stroke-width="2.5"/>
<rect x="983" y="439.8" width="3.4" height="3.4" rx="0.8" fill="#8e8e78"/>
<rect x="983.6" y="440.8" width="2.2" height="1.4" fill="#b5d334"/>
<circle cx="1096.5" cy="404.8" r="5.7" fill="#fff" stroke="#12a05f" stroke-width="2.5"/>
<rect x="1094.8" y="403.1" width="3.4" height="3.4" rx="0.8" fill="#8e8e78"/>
<rect x="1095.4" y="404.1" width="2.2" height="1.4" fill="#b5d334"/>
<circle cx="1096" cy="443" r="5.7" fill="#fff" stroke="#12a05f" stroke-width="2.5"/>
<rect x="1094.3" y="441.3" width="3.4" height="3.4" rx="0.8" fill="#8e8e78"/>
<rect x="1094.9" y="442.3" width="2.2" height="1.4" fill="#b5d334"/>
<circle cx="1197.2" cy="448.8" r="5.7" fill="#fff" stroke="#12a05f" stroke-width="2.5"/>
<rect x="1195.5" y="447.1" width="3.4" height="3.4" rx="0.8" fill="#8e8e78"/>
<rect x="1196.2" y="448.1" width="2.2" height="1.4" fill="#b5d334"/>
<circle cx="1271.2" cy="412.2" r="5.7" fill="#fff" stroke="#12a05f" stroke-width="2.5"/>
<rect x="1269.5" y="410.6" width="3.4" height="3.4" rx="0.8" fill="#8e8e78"/>
<rect x="1270.2" y="411.6" width="2.2" height="1.4" fill="#b5d334"/>
<circle cx="187.5" cy="570" r="5.7" fill="#fff" stroke="#12a05f" stroke-width="2.5"/>
<rect x="185.8" y="568.3" width="3.4" height="3.4" rx="0.8" fill="#8e8e78"/>
<rect x="186.4" y="569.3" width="2.2" height="1.4" fill="#b5d334"/>
<circle cx="322.5" cy="535.5" r="5.7" fill="#fff" stroke="#12a05f" stroke-width="2.5"/>
<rect x="320.8" y="533.8" width="3.4" height="3.4" rx="0.8" fill="#8e8e78"/>
<rect x="321.4" y="534.8" width="2.2" height="1.4" fill="#b5d334"/>
<circle cx="521" cy="602" r="5.7" fill="#fff" stroke="#12a05f" stroke-width="2.5"/>
<rect x="519.3" y="600.3" width="3.4" height="3.4" rx="0.8" fill="#8e8e78"/>
<rect x="519.9" y="601.3" width="2.2" height="1.4" fill="#b5d334"/>
<circle cx="692.2" cy="600.5" r="5.7" fill="#fff" stroke="#12a05f" stroke-width="2.5"/>
<rect x="690.5" y="598.8" width="3.4" height="3.4" rx="0.8" fill="#8e8e78"/>
<rect x="691.1" y="599.8" width="2.2" height="1.4" fill="#b5d334"/>
<circle cx="843.8" cy="597" r="5.7" fill="#fff" stroke="#12a05f" stroke-width="2.5"/>
<rect x="842" y="595.3" width="3.4" height="3.4" rx="0.8" fill="#8e8e78"/>
<rect x="842.6" y="596.3" width="2.2" height="1.4" fill="#b5d334"/>
<circle cx="1046.5" cy="664.5" r="5.7" fill="#fff" stroke="#12a05f" stroke-width="2.5"/>
<rect x="1044.8" y="662.8" width="3.4" height="3.4" rx="0.8" fill="#8e8e78"/>
<rect x="1045.4" y="663.8" width="2.2" height="1.4" fill="#b5d334"/>
<circle cx="1334.8" cy="533.5" r="5.7" fill="#fff" stroke="#12a05f" stroke-width="2.5"/>
<rect x="1333" y="531.8" width="3.4" height="3.4" rx="0.8" fill="#8e8e78"/>
<rect x="1333.7" y="532.8" width="2.2" height="1.4" fill="#b5d334"/>
<circle cx="1336.5" cy="668" r="5.7" fill="#fff" stroke="#12a05f" stroke-width="2.5"/>
<rect x="1334.8" y="666.3" width="3.4" height="3.4" rx="0.8" fill="#8e8e78"/>
<rect x="1335.4" y="667.3" width="2.2" height="1.4" fill="#b5d334"/>
<circle cx="1315.2" cy="691.8" r="5.7" fill="#fff" stroke="#12a05f" stroke-width="2.5"/>
<rect x="1313.5" y="690" width="3.4" height="3.4" rx="0.8" fill="#8e8e78"/>
<rect x="1314.2" y="691" width="2.2" height="1.4" fill="#b5d334"/>
</svg>
</body></html>
